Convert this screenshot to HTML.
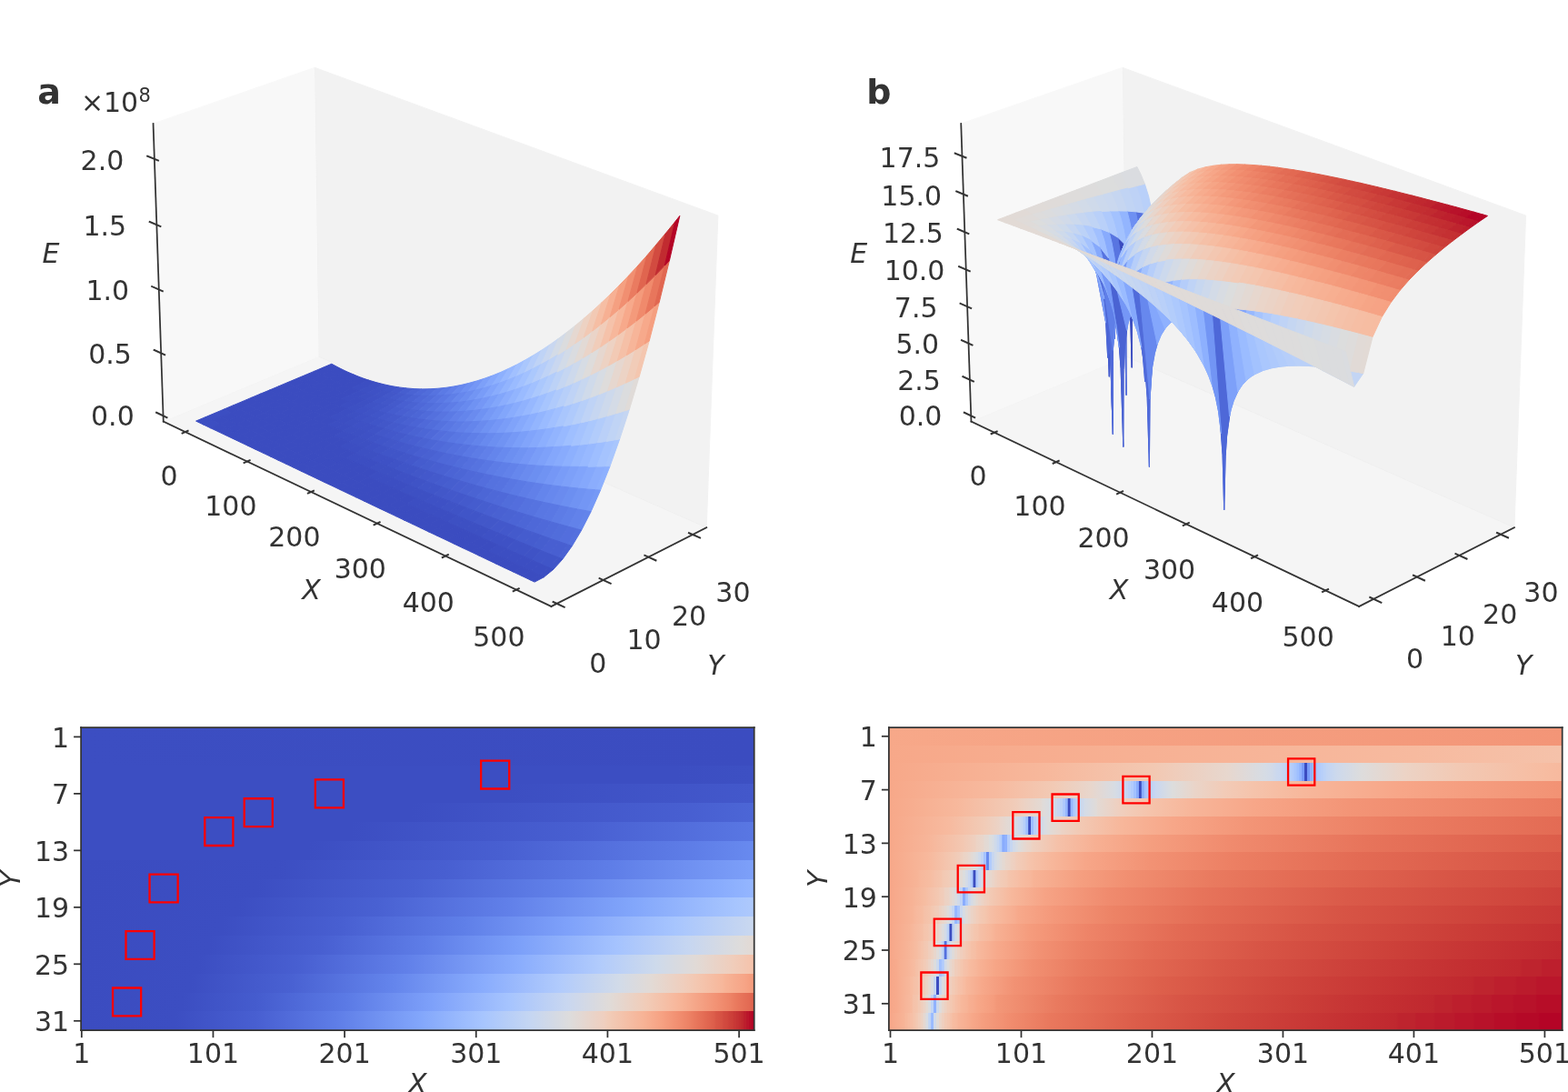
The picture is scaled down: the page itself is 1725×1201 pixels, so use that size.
<!DOCTYPE html><html><head><meta charset="utf-8"><title>Figure</title><style>html,body{margin:0;padding:0;background:#fff;overflow:hidden}svg{display:block}.s path{fill:currentColor;stroke:currentColor;stroke-width:1.0;stroke-linejoin:round}</style></head><body><svg width="1725" height="1201" viewBox="0 0 1725 1201"><defs><linearGradient id="c0" x1="89.1" x2="829.7" gradientUnits="userSpaceOnUse"><stop offset="0.0005" stop-color="#3c4ec2"/><stop offset="0.9995" stop-color="#3b4cc0"/></linearGradient><linearGradient id="c1" x1="89.1" x2="829.7" gradientUnits="userSpaceOnUse"><stop offset="0.0005" stop-color="#3c4ec2"/><stop offset="0.9995" stop-color="#3b4cc0"/></linearGradient><linearGradient id="c2" x1="89.1" x2="829.7" gradientUnits="userSpaceOnUse"><stop offset="0.0005" stop-color="#3c4ec2"/><stop offset="0.8823" stop-color="#3c4ec2"/><stop offset="0.9995" stop-color="#3d50c3"/></linearGradient><linearGradient id="c3" x1="89.1" x2="829.7" gradientUnits="userSpaceOnUse"><stop offset="0.0005" stop-color="#3c4ec2"/><stop offset="0.6323" stop-color="#3c4ec2"/><stop offset="0.9995" stop-color="#4358cb"/></linearGradient><linearGradient id="c4" x1="89.1" x2="829.7" gradientUnits="userSpaceOnUse"><stop offset="0.0005" stop-color="#3c4ec2"/><stop offset="0.4917" stop-color="#3c4ec2"/><stop offset="0.9058" stop-color="#485fd1"/><stop offset="0.9995" stop-color="#4c66d6"/></linearGradient><linearGradient id="c5" x1="89.1" x2="829.7" gradientUnits="userSpaceOnUse"><stop offset="0.0005" stop-color="#3c4ec2"/><stop offset="0.4019" stop-color="#3c4ec2"/><stop offset="0.7417" stop-color="#485fd1"/><stop offset="0.9995" stop-color="#5977e3"/></linearGradient><linearGradient id="c6" x1="89.1" x2="829.7" gradientUnits="userSpaceOnUse"><stop offset="0.0005" stop-color="#3c4ec2"/><stop offset="0.3394" stop-color="#3c4ec2"/><stop offset="0.6245" stop-color="#485fd1"/><stop offset="0.9058" stop-color="#5e7de7"/><stop offset="0.9995" stop-color="#688aef"/></linearGradient><linearGradient id="c7" x1="89.1" x2="829.7" gradientUnits="userSpaceOnUse"><stop offset="0.0005" stop-color="#3b4cc0"/><stop offset="0.2925" stop-color="#3c4ec2"/><stop offset="0.5425" stop-color="#485fd1"/><stop offset="0.7847" stop-color="#5e7de7"/><stop offset="0.9995" stop-color="#7da0f9"/></linearGradient><linearGradient id="c8" x1="89.1" x2="829.7" gradientUnits="userSpaceOnUse"><stop offset="0.0005" stop-color="#3b4cc0"/><stop offset="0.2612" stop-color="#3c4ec2"/><stop offset="0.4956" stop-color="#4961d2"/><stop offset="0.7222" stop-color="#6282ea"/><stop offset="0.9487" stop-color="#89acfd"/><stop offset="0.9995" stop-color="#94b6ff"/></linearGradient><linearGradient id="c9" x1="89.1" x2="829.7" gradientUnits="userSpaceOnUse"><stop offset="0.0005" stop-color="#3b4cc0"/><stop offset="0.2339" stop-color="#3c4ec2"/><stop offset="0.4409" stop-color="#4961d2"/><stop offset="0.6362" stop-color="#6180e9"/><stop offset="0.8198" stop-color="#82a6fb"/><stop offset="0.9722" stop-color="#a7c5fe"/><stop offset="0.9995" stop-color="#aec9fc"/></linearGradient><linearGradient id="c10" x1="89.1" x2="829.7" gradientUnits="userSpaceOnUse"><stop offset="0.0005" stop-color="#3b4cc0"/><stop offset="0.2104" stop-color="#3c4ec2"/><stop offset="0.3862" stop-color="#485fd1"/><stop offset="0.5698" stop-color="#5f7fe8"/><stop offset="0.7222" stop-color="#7ea1fa"/><stop offset="0.8823" stop-color="#a7c5fe"/><stop offset="0.9995" stop-color="#cad8ef"/></linearGradient><linearGradient id="c11" x1="89.1" x2="829.7" gradientUnits="userSpaceOnUse"><stop offset="0.0005" stop-color="#3b4cc0"/><stop offset="0.1909" stop-color="#3c4ec2"/><stop offset="0.355" stop-color="#485fd1"/><stop offset="0.5112" stop-color="#5e7de7"/><stop offset="0.6479" stop-color="#7b9ff9"/><stop offset="0.7964" stop-color="#a5c3fe"/><stop offset="0.9019" stop-color="#c6d6f1"/><stop offset="0.98" stop-color="#dedcdb"/><stop offset="0.9995" stop-color="#e3d9d3"/></linearGradient><linearGradient id="c12" x1="89.1" x2="829.7" gradientUnits="userSpaceOnUse"><stop offset="0.0005" stop-color="#3b4cc0"/><stop offset="0.1753" stop-color="#3c4ec2"/><stop offset="0.3237" stop-color="#485fd1"/><stop offset="0.4839" stop-color="#6180e9"/><stop offset="0.6479" stop-color="#89acfd"/><stop offset="0.769" stop-color="#b1cbfc"/><stop offset="0.855" stop-color="#cedaeb"/><stop offset="0.9136" stop-color="#e1dad6"/><stop offset="0.9683" stop-color="#f0cdbb"/><stop offset="0.9995" stop-color="#f5c2aa"/></linearGradient><linearGradient id="c13" x1="89.1" x2="829.7" gradientUnits="userSpaceOnUse"><stop offset="0.0005" stop-color="#3b4cc0"/><stop offset="0.1636" stop-color="#3c4ec2"/><stop offset="0.312" stop-color="#4961d2"/><stop offset="0.4644" stop-color="#6485ec"/><stop offset="0.5972" stop-color="#89acfd"/><stop offset="0.7104" stop-color="#b1cbfc"/><stop offset="0.8003" stop-color="#d2dbe8"/><stop offset="0.8472" stop-color="#e2dad5"/><stop offset="0.894" stop-color="#efcebd"/><stop offset="0.9126" stop-color="#f3c8b2"/><stop offset="0.9526" stop-color="#f7b79b"/><stop offset="0.9575" stop-color="#f7b396"/><stop offset="0.9878" stop-color="#f6a385"/><stop offset="0.9927" stop-color="#f59f80"/><stop offset="0.9995" stop-color="#f59c7d"/></linearGradient><linearGradient id="c14" x1="89.1" x2="829.7" gradientUnits="userSpaceOnUse"><stop offset="0.0005" stop-color="#3b4cc0"/><stop offset="0.1519" stop-color="#3c4ec2"/><stop offset="0.2612" stop-color="#455cce"/><stop offset="0.394" stop-color="#5b7ae5"/><stop offset="0.5229" stop-color="#7ea1fa"/><stop offset="0.6362" stop-color="#a6c4fe"/><stop offset="0.7222" stop-color="#c9d7f0"/><stop offset="0.7847" stop-color="#e0dbd8"/><stop offset="0.8394" stop-color="#f1ccb8"/><stop offset="0.8813" stop-color="#f7b99e"/><stop offset="0.8931" stop-color="#f7b396"/><stop offset="0.9438" stop-color="#f29274"/><stop offset="0.9644" stop-color="#ed8366"/><stop offset="0.9751" stop-color="#e9785d"/><stop offset="0.9917" stop-color="#e36b54"/><stop offset="0.9995" stop-color="#df634e"/></linearGradient><linearGradient id="c15" x1="89.1" x2="829.7" gradientUnits="userSpaceOnUse"><stop offset="0.0005" stop-color="#3b4cc0"/><stop offset="0.1401" stop-color="#3c4ec2"/><stop offset="0.2612" stop-color="#485fd1"/><stop offset="0.3784" stop-color="#5e7de7"/><stop offset="0.5034" stop-color="#82a6fb"/><stop offset="0.5972" stop-color="#a7c5fe"/><stop offset="0.6675" stop-color="#c5d6f2"/><stop offset="0.7261" stop-color="#dddcdc"/><stop offset="0.7769" stop-color="#efcfbf"/><stop offset="0.7837" stop-color="#f1ccb8"/><stop offset="0.8354" stop-color="#f7b396"/><stop offset="0.8618" stop-color="#f6a283"/><stop offset="0.8853" stop-color="#f29072"/><stop offset="0.9019" stop-color="#ed8366"/><stop offset="0.9126" stop-color="#e9785d"/><stop offset="0.9282" stop-color="#e26952"/><stop offset="0.9409" stop-color="#dc5d4a"/><stop offset="0.9429" stop-color="#d95847"/><stop offset="0.9526" stop-color="#d55042"/><stop offset="0.9546" stop-color="#d24b40"/><stop offset="0.9604" stop-color="#d0473d"/><stop offset="0.9624" stop-color="#cd423b"/><stop offset="0.9683" stop-color="#cb3e38"/><stop offset="0.9702" stop-color="#c83836"/><stop offset="0.9722" stop-color="#c83836"/><stop offset="0.9741" stop-color="#c53334"/><stop offset="0.9761" stop-color="#c53334"/><stop offset="0.978" stop-color="#c32e31"/><stop offset="0.98" stop-color="#c32e31"/><stop offset="0.9819" stop-color="#c0282f"/><stop offset="0.9839" stop-color="#c0282f"/><stop offset="0.9849" stop-color="#bd1f2d"/><stop offset="0.9878" stop-color="#bd1f2d"/><stop offset="0.9888" stop-color="#ba162b"/><stop offset="0.9917" stop-color="#ba162b"/><stop offset="0.9927" stop-color="#b70d28"/><stop offset="0.9956" stop-color="#b70d28"/><stop offset="0.9966" stop-color="#b40426"/><stop offset="0.9995" stop-color="#b40426"/></linearGradient><linearGradient id="d0" x1="977.9" x2="1718.7" gradientUnits="userSpaceOnUse"><stop offset="0.0005" stop-color="#f7a889"/><stop offset="0.9995" stop-color="#f39577"/></linearGradient><linearGradient id="d1" x1="977.9" x2="1718.7" gradientUnits="userSpaceOnUse"><stop offset="0.0005" stop-color="#f7a889"/><stop offset="0.7808" stop-color="#f7ba9f"/><stop offset="0.9995" stop-color="#f5c2aa"/></linearGradient><linearGradient id="d2" x1="977.9" x2="1718.7" gradientUnits="userSpaceOnUse"><stop offset="0.0005" stop-color="#f7a889"/><stop offset="0.2339" stop-color="#f7b89c"/><stop offset="0.3901" stop-color="#f3c8b2"/><stop offset="0.5034" stop-color="#e7d7ce"/><stop offset="0.5581" stop-color="#d6dce4"/><stop offset="0.5698" stop-color="#d1dae9"/><stop offset="0.5757" stop-color="#cbd8ee"/><stop offset="0.5815" stop-color="#c9d7f0"/><stop offset="0.5894" stop-color="#c1d4f4"/><stop offset="0.5913" stop-color="#bcd2f7"/><stop offset="0.5933" stop-color="#bcd2f7"/><stop offset="0.5952" stop-color="#b7cff9"/><stop offset="0.5972" stop-color="#b7cff9"/><stop offset="0.5991" stop-color="#b1cbfc"/><stop offset="0.6011" stop-color="#b1cbfc"/><stop offset="0.6021" stop-color="#a9c6fd"/><stop offset="0.605" stop-color="#a9c6fd"/><stop offset="0.606" stop-color="#9fbfff"/><stop offset="0.6089" stop-color="#9fbfff"/><stop offset="0.6099" stop-color="#90b2fe"/><stop offset="0.6128" stop-color="#90b2fe"/><stop offset="0.6138" stop-color="#779af7"/><stop offset="0.6167" stop-color="#779af7"/><stop offset="0.6177" stop-color="#3b4cc0"/><stop offset="0.6206" stop-color="#3b4cc0"/><stop offset="0.6216" stop-color="#779af7"/><stop offset="0.6245" stop-color="#779af7"/><stop offset="0.6255" stop-color="#90b2fe"/><stop offset="0.6284" stop-color="#90b2fe"/><stop offset="0.6294" stop-color="#9fbfff"/><stop offset="0.6323" stop-color="#9fbfff"/><stop offset="0.6333" stop-color="#a9c6fd"/><stop offset="0.6362" stop-color="#a9c6fd"/><stop offset="0.6372" stop-color="#b1cbfc"/><stop offset="0.6401" stop-color="#b1cbfc"/><stop offset="0.6421" stop-color="#b7cff9"/><stop offset="0.644" stop-color="#b7cff9"/><stop offset="0.646" stop-color="#bcd2f7"/><stop offset="0.6479" stop-color="#bcd2f7"/><stop offset="0.6499" stop-color="#c1d4f4"/><stop offset="0.6655" stop-color="#cdd9ec"/><stop offset="0.7017" stop-color="#dddcdc"/><stop offset="0.7671" stop-color="#ecd3c5"/><stop offset="0.8442" stop-color="#f2c9b4"/><stop offset="0.9741" stop-color="#f7bca1"/><stop offset="0.9995" stop-color="#f7b99e"/></linearGradient><linearGradient id="d3" x1="977.9" x2="1718.7" gradientUnits="userSpaceOnUse"><stop offset="0.0005" stop-color="#f7a889"/><stop offset="0.1597" stop-color="#f7ba9f"/><stop offset="0.2456" stop-color="#f2cab5"/><stop offset="0.3003" stop-color="#e8d6cc"/><stop offset="0.3354" stop-color="#d7dce3"/><stop offset="0.3511" stop-color="#c9d7f0"/><stop offset="0.353" stop-color="#c3d5f4"/><stop offset="0.355" stop-color="#c3d5f4"/><stop offset="0.356" stop-color="#bbd1f8"/><stop offset="0.3589" stop-color="#bbd1f8"/><stop offset="0.3599" stop-color="#b1cbfc"/><stop offset="0.3628" stop-color="#b1cbfc"/><stop offset="0.3638" stop-color="#a2c1ff"/><stop offset="0.3667" stop-color="#a2c1ff"/><stop offset="0.3677" stop-color="#89acfd"/><stop offset="0.3706" stop-color="#89acfd"/><stop offset="0.3716" stop-color="#3b4cc0"/><stop offset="0.3745" stop-color="#3b4cc0"/><stop offset="0.3755" stop-color="#89acfd"/><stop offset="0.3784" stop-color="#89acfd"/><stop offset="0.3794" stop-color="#a2c1ff"/><stop offset="0.3823" stop-color="#a2c1ff"/><stop offset="0.3833" stop-color="#b1cbfc"/><stop offset="0.3862" stop-color="#b1cbfc"/><stop offset="0.3872" stop-color="#bbd1f8"/><stop offset="0.3901" stop-color="#bbd1f8"/><stop offset="0.3911" stop-color="#c3d5f4"/><stop offset="0.394" stop-color="#c3d5f4"/><stop offset="0.396" stop-color="#c9d7f0"/><stop offset="0.4204" stop-color="#dcdddd"/><stop offset="0.4556" stop-color="#ead4c8"/><stop offset="0.4985" stop-color="#f2cbb7"/><stop offset="0.5376" stop-color="#f5c4ac"/><stop offset="0.6177" stop-color="#f7b79b"/><stop offset="0.7593" stop-color="#f7a688"/><stop offset="0.9995" stop-color="#f29274"/></linearGradient><linearGradient id="d4" x1="977.9" x2="1718.7" gradientUnits="userSpaceOnUse"><stop offset="0.0005" stop-color="#f7a889"/><stop offset="0.1011" stop-color="#f7b89c"/><stop offset="0.1753" stop-color="#f2c9b4"/><stop offset="0.1909" stop-color="#f0cdbb"/><stop offset="0.1958" stop-color="#eed0c0"/><stop offset="0.2261" stop-color="#e3d9d3"/><stop offset="0.228" stop-color="#e0dbd8"/><stop offset="0.2417" stop-color="#d7dce3"/><stop offset="0.2456" stop-color="#d3dbe7"/><stop offset="0.2476" stop-color="#cdd9ec"/><stop offset="0.2495" stop-color="#cdd9ec"/><stop offset="0.2505" stop-color="#c6d6f1"/><stop offset="0.2534" stop-color="#c6d6f1"/><stop offset="0.2544" stop-color="#bcd2f7"/><stop offset="0.2573" stop-color="#bcd2f7"/><stop offset="0.2583" stop-color="#aec9fc"/><stop offset="0.2612" stop-color="#aec9fc"/><stop offset="0.2622" stop-color="#96b7ff"/><stop offset="0.2651" stop-color="#96b7ff"/><stop offset="0.2661" stop-color="#3b4cc0"/><stop offset="0.269" stop-color="#3b4cc0"/><stop offset="0.27" stop-color="#96b7ff"/><stop offset="0.2729" stop-color="#96b7ff"/><stop offset="0.2739" stop-color="#aec9fc"/><stop offset="0.2769" stop-color="#aec9fc"/><stop offset="0.2778" stop-color="#bcd2f7"/><stop offset="0.2808" stop-color="#bcd2f7"/><stop offset="0.2817" stop-color="#c6d6f1"/><stop offset="0.2847" stop-color="#c6d6f1"/><stop offset="0.2856" stop-color="#cdd9ec"/><stop offset="0.2886" stop-color="#cdd9ec"/><stop offset="0.2905" stop-color="#d3dbe7"/><stop offset="0.3081" stop-color="#e0dbd8"/><stop offset="0.3101" stop-color="#e3d9d3"/><stop offset="0.3423" stop-color="#efcfbf"/><stop offset="0.3579" stop-color="#f2cbb7"/><stop offset="0.3853" stop-color="#f5c4ac"/><stop offset="0.4517" stop-color="#f7b599"/><stop offset="0.5454" stop-color="#f7a688"/><stop offset="0.6821" stop-color="#f39577"/><stop offset="0.9741" stop-color="#eb7d62"/><stop offset="0.9995" stop-color="#ea7b60"/></linearGradient><linearGradient id="d5" x1="977.9" x2="1718.7" gradientUnits="userSpaceOnUse"><stop offset="0.0005" stop-color="#f7a889"/><stop offset="0.0894" stop-color="#f7ba9f"/><stop offset="0.144" stop-color="#f1ccb8"/><stop offset="0.1636" stop-color="#ebd3c6"/><stop offset="0.1655" stop-color="#e9d5cb"/><stop offset="0.1792" stop-color="#e1dad6"/><stop offset="0.1812" stop-color="#dddcdc"/><stop offset="0.1831" stop-color="#dddcdc"/><stop offset="0.1851" stop-color="#d9dce1"/><stop offset="0.187" stop-color="#d9dce1"/><stop offset="0.189" stop-color="#d4dbe6"/><stop offset="0.1909" stop-color="#d4dbe6"/><stop offset="0.1919" stop-color="#cdd9ec"/><stop offset="0.1948" stop-color="#cdd9ec"/><stop offset="0.1958" stop-color="#c5d6f2"/><stop offset="0.1987" stop-color="#c5d6f2"/><stop offset="0.1997" stop-color="#b7cff9"/><stop offset="0.2026" stop-color="#b7cff9"/><stop offset="0.2036" stop-color="#9fbfff"/><stop offset="0.2065" stop-color="#9fbfff"/><stop offset="0.2075" stop-color="#3b4cc0"/><stop offset="0.2104" stop-color="#3b4cc0"/><stop offset="0.2114" stop-color="#9fbfff"/><stop offset="0.2144" stop-color="#9fbfff"/><stop offset="0.2153" stop-color="#b7cff9"/><stop offset="0.2183" stop-color="#b7cff9"/><stop offset="0.2192" stop-color="#c5d6f2"/><stop offset="0.2222" stop-color="#c5d6f2"/><stop offset="0.2231" stop-color="#cdd9ec"/><stop offset="0.2261" stop-color="#cdd9ec"/><stop offset="0.2271" stop-color="#d4dbe6"/><stop offset="0.23" stop-color="#d4dbe6"/><stop offset="0.2319" stop-color="#d9dce1"/><stop offset="0.2339" stop-color="#d9dce1"/><stop offset="0.2358" stop-color="#dddcdc"/><stop offset="0.2378" stop-color="#dddcdc"/><stop offset="0.2397" stop-color="#e1dad6"/><stop offset="0.2534" stop-color="#e9d5cb"/><stop offset="0.2554" stop-color="#ebd3c6"/><stop offset="0.2837" stop-color="#f2c9b4"/><stop offset="0.3442" stop-color="#f7b79b"/><stop offset="0.4243" stop-color="#f7a688"/><stop offset="0.5317" stop-color="#f39577"/><stop offset="0.7554" stop-color="#eb7d62"/><stop offset="0.9995" stop-color="#e36b54"/></linearGradient><linearGradient id="d6" x1="977.9" x2="1718.7" gradientUnits="userSpaceOnUse"><stop offset="0.0005" stop-color="#f7a889"/><stop offset="0.0581" stop-color="#f7b599"/><stop offset="0.1089" stop-color="#f3c7b1"/><stop offset="0.1284" stop-color="#eed0c0"/><stop offset="0.1304" stop-color="#ecd3c5"/><stop offset="0.1401" stop-color="#e8d6cc"/><stop offset="0.1421" stop-color="#e4d9d2"/><stop offset="0.1479" stop-color="#e1dad6"/><stop offset="0.1489" stop-color="#dcdddd"/><stop offset="0.1519" stop-color="#dcdddd"/><stop offset="0.1538" stop-color="#d7dce3"/><stop offset="0.1558" stop-color="#d7dce3"/><stop offset="0.1567" stop-color="#cfdaea"/><stop offset="0.1597" stop-color="#cfdaea"/><stop offset="0.1606" stop-color="#c5d6f2"/><stop offset="0.1636" stop-color="#c5d6f2"/><stop offset="0.1646" stop-color="#b3cdfb"/><stop offset="0.1675" stop-color="#b3cdfb"/><stop offset="0.1685" stop-color="#89acfd"/><stop offset="0.1714" stop-color="#89acfd"/><stop offset="0.1724" stop-color="#90b2fe"/><stop offset="0.1753" stop-color="#90b2fe"/><stop offset="0.1763" stop-color="#b6cefa"/><stop offset="0.1792" stop-color="#b6cefa"/><stop offset="0.1802" stop-color="#c6d6f1"/><stop offset="0.1831" stop-color="#c6d6f1"/><stop offset="0.1841" stop-color="#d1dae9"/><stop offset="0.187" stop-color="#d1dae9"/><stop offset="0.189" stop-color="#d7dce3"/><stop offset="0.1909" stop-color="#d7dce3"/><stop offset="0.1919" stop-color="#dddcdc"/><stop offset="0.1948" stop-color="#dddcdc"/><stop offset="0.1968" stop-color="#e1dad6"/><stop offset="0.1987" stop-color="#e1dad6"/><stop offset="0.2007" stop-color="#e5d8d1"/><stop offset="0.2026" stop-color="#e5d8d1"/><stop offset="0.2046" stop-color="#e8d6cc"/><stop offset="0.2104" stop-color="#ead4c8"/><stop offset="0.2124" stop-color="#edd2c3"/><stop offset="0.2505" stop-color="#f5c1a9"/><stop offset="0.3071" stop-color="#f7b093"/><stop offset="0.3843" stop-color="#f59f80"/><stop offset="0.5044" stop-color="#f08b6e"/><stop offset="0.7085" stop-color="#e7745b"/><stop offset="0.9995" stop-color="#dc5d4a"/></linearGradient><linearGradient id="d7" x1="977.9" x2="1718.7" gradientUnits="userSpaceOnUse"><stop offset="0.0005" stop-color="#f7a889"/><stop offset="0.0581" stop-color="#f7b89c"/><stop offset="0.0933" stop-color="#f3c8b2"/><stop offset="0.105" stop-color="#f0cdbb"/><stop offset="0.1069" stop-color="#eed0c0"/><stop offset="0.1089" stop-color="#eed0c0"/><stop offset="0.1108" stop-color="#ecd3c5"/><stop offset="0.1167" stop-color="#ead5c9"/><stop offset="0.1187" stop-color="#e7d7ce"/><stop offset="0.1206" stop-color="#e7d7ce"/><stop offset="0.1216" stop-color="#e2dad5"/><stop offset="0.1245" stop-color="#e2dad5"/><stop offset="0.1255" stop-color="#dddcdc"/><stop offset="0.1284" stop-color="#dddcdc"/><stop offset="0.1294" stop-color="#d7dce3"/><stop offset="0.1323" stop-color="#d7dce3"/><stop offset="0.1333" stop-color="#cedaeb"/><stop offset="0.1362" stop-color="#cedaeb"/><stop offset="0.1372" stop-color="#c1d4f4"/><stop offset="0.1401" stop-color="#c1d4f4"/><stop offset="0.1411" stop-color="#a6c4fe"/><stop offset="0.144" stop-color="#a6c4fe"/><stop offset="0.145" stop-color="#688aef"/><stop offset="0.1479" stop-color="#688aef"/><stop offset="0.1489" stop-color="#b1cbfc"/><stop offset="0.1519" stop-color="#b1cbfc"/><stop offset="0.1528" stop-color="#c6d6f1"/><stop offset="0.1558" stop-color="#c6d6f1"/><stop offset="0.1567" stop-color="#d2dbe8"/><stop offset="0.1597" stop-color="#d2dbe8"/><stop offset="0.1606" stop-color="#d9dce1"/><stop offset="0.1636" stop-color="#d9dce1"/><stop offset="0.1646" stop-color="#dfdbd9"/><stop offset="0.1675" stop-color="#dfdbd9"/><stop offset="0.1685" stop-color="#e4d9d2"/><stop offset="0.1714" stop-color="#e4d9d2"/><stop offset="0.1733" stop-color="#e8d6cc"/><stop offset="0.1792" stop-color="#ead4c8"/><stop offset="0.1812" stop-color="#edd2c3"/><stop offset="0.187" stop-color="#efcfbf"/><stop offset="0.189" stop-color="#f1cdba"/><stop offset="0.2026" stop-color="#f3c7b1"/><stop offset="0.2075" stop-color="#f5c4ac"/><stop offset="0.2407" stop-color="#f7b79b"/><stop offset="0.2925" stop-color="#f7a688"/><stop offset="0.3882" stop-color="#f29274"/><stop offset="0.5142" stop-color="#ec7f63"/><stop offset="0.6968" stop-color="#e36b54"/><stop offset="0.9526" stop-color="#d85646"/><stop offset="0.9995" stop-color="#d65244"/></linearGradient><linearGradient id="d8" x1="977.9" x2="1718.7" gradientUnits="userSpaceOnUse"><stop offset="0.0005" stop-color="#f7a688"/><stop offset="0.0425" stop-color="#f7b497"/><stop offset="0.0474" stop-color="#f7b89c"/><stop offset="0.062" stop-color="#f6bda2"/><stop offset="0.0688" stop-color="#f5c1a9"/><stop offset="0.0776" stop-color="#f4c5ad"/><stop offset="0.0796" stop-color="#f3c8b2"/><stop offset="0.0894" stop-color="#f1ccb8"/><stop offset="0.0913" stop-color="#efcebd"/><stop offset="0.0933" stop-color="#efcebd"/><stop offset="0.0952" stop-color="#edd1c2"/><stop offset="0.0972" stop-color="#edd1c2"/><stop offset="0.0991" stop-color="#ead4c8"/><stop offset="0.1011" stop-color="#ead4c8"/><stop offset="0.103" stop-color="#e7d7ce"/><stop offset="0.105" stop-color="#e7d7ce"/><stop offset="0.106" stop-color="#e2dad5"/><stop offset="0.1089" stop-color="#e2dad5"/><stop offset="0.1099" stop-color="#dcdddd"/><stop offset="0.1128" stop-color="#dcdddd"/><stop offset="0.1138" stop-color="#d4dbe6"/><stop offset="0.1167" stop-color="#d4dbe6"/><stop offset="0.1177" stop-color="#c9d7f0"/><stop offset="0.1206" stop-color="#c9d7f0"/><stop offset="0.1216" stop-color="#b1cbfc"/><stop offset="0.1245" stop-color="#b1cbfc"/><stop offset="0.1255" stop-color="#3b4cc0"/><stop offset="0.1284" stop-color="#3b4cc0"/><stop offset="0.1294" stop-color="#b1cbfc"/><stop offset="0.1323" stop-color="#b1cbfc"/><stop offset="0.1333" stop-color="#c9d7f0"/><stop offset="0.1362" stop-color="#c9d7f0"/><stop offset="0.1372" stop-color="#d4dbe6"/><stop offset="0.1401" stop-color="#d4dbe6"/><stop offset="0.1411" stop-color="#dcdddd"/><stop offset="0.144" stop-color="#dcdddd"/><stop offset="0.145" stop-color="#e2dad5"/><stop offset="0.1479" stop-color="#e2dad5"/><stop offset="0.1489" stop-color="#e7d7ce"/><stop offset="0.1519" stop-color="#e7d7ce"/><stop offset="0.1538" stop-color="#ead4c8"/><stop offset="0.1558" stop-color="#ead4c8"/><stop offset="0.1577" stop-color="#edd1c2"/><stop offset="0.1597" stop-color="#edd1c2"/><stop offset="0.1616" stop-color="#efcebd"/><stop offset="0.1636" stop-color="#efcebd"/><stop offset="0.1655" stop-color="#f1ccb8"/><stop offset="0.1753" stop-color="#f3c8b2"/><stop offset="0.1772" stop-color="#f4c5ad"/><stop offset="0.1909" stop-color="#f6bfa6"/><stop offset="0.1958" stop-color="#f7bca1"/><stop offset="0.2104" stop-color="#f7b79b"/><stop offset="0.2153" stop-color="#f7b396"/><stop offset="0.2837" stop-color="#f59f80"/><stop offset="0.354" stop-color="#f18f71"/><stop offset="0.481" stop-color="#e97a5f"/><stop offset="0.6079" stop-color="#e36b54"/><stop offset="0.8481" stop-color="#d75445"/><stop offset="0.9995" stop-color="#d1493f"/></linearGradient><linearGradient id="d9" x1="977.9" x2="1718.7" gradientUnits="userSpaceOnUse"><stop offset="0.0005" stop-color="#f7a688"/><stop offset="0.0347" stop-color="#f7b396"/><stop offset="0.0542" stop-color="#f6bda2"/><stop offset="0.061" stop-color="#f5c1a9"/><stop offset="0.0737" stop-color="#f3c8b2"/><stop offset="0.0757" stop-color="#f2cbb7"/><stop offset="0.0815" stop-color="#f0cdbb"/><stop offset="0.0825" stop-color="#edd1c2"/><stop offset="0.0894" stop-color="#ebd3c6"/><stop offset="0.0903" stop-color="#e7d7ce"/><stop offset="0.0933" stop-color="#e7d7ce"/><stop offset="0.0942" stop-color="#e1dad6"/><stop offset="0.0972" stop-color="#e1dad6"/><stop offset="0.0981" stop-color="#dadce0"/><stop offset="0.1011" stop-color="#dadce0"/><stop offset="0.1021" stop-color="#d1dae9"/><stop offset="0.105" stop-color="#d1dae9"/><stop offset="0.106" stop-color="#bed2f6"/><stop offset="0.1089" stop-color="#bed2f6"/><stop offset="0.1099" stop-color="#89acfd"/><stop offset="0.1128" stop-color="#89acfd"/><stop offset="0.1138" stop-color="#a9c6fd"/><stop offset="0.1167" stop-color="#a9c6fd"/><stop offset="0.1177" stop-color="#c7d7f0"/><stop offset="0.1206" stop-color="#c7d7f0"/><stop offset="0.1216" stop-color="#d5dbe5"/><stop offset="0.1245" stop-color="#d5dbe5"/><stop offset="0.1255" stop-color="#dddcdc"/><stop offset="0.1284" stop-color="#dddcdc"/><stop offset="0.1294" stop-color="#e4d9d2"/><stop offset="0.1323" stop-color="#e4d9d2"/><stop offset="0.1333" stop-color="#e9d5cb"/><stop offset="0.1362" stop-color="#e9d5cb"/><stop offset="0.1382" stop-color="#ecd3c5"/><stop offset="0.1401" stop-color="#ecd3c5"/><stop offset="0.1421" stop-color="#efcfbf"/><stop offset="0.144" stop-color="#efcfbf"/><stop offset="0.146" stop-color="#f1cdba"/><stop offset="0.1479" stop-color="#f1cdba"/><stop offset="0.1499" stop-color="#f2cab5"/><stop offset="0.1821" stop-color="#f7b89c"/><stop offset="0.2319" stop-color="#f6a385"/><stop offset="0.3257" stop-color="#f08b6e"/><stop offset="0.4614" stop-color="#e7745b"/><stop offset="0.6802" stop-color="#da5a49"/><stop offset="0.9468" stop-color="#cf453c"/><stop offset="0.9995" stop-color="#cc403a"/></linearGradient><linearGradient id="d10" x1="977.9" x2="1718.7" gradientUnits="userSpaceOnUse"><stop offset="0.0005" stop-color="#f7a688"/><stop offset="0.0347" stop-color="#f7b497"/><stop offset="0.0415" stop-color="#f7b99e"/><stop offset="0.0503" stop-color="#f6bda2"/><stop offset="0.0522" stop-color="#f5c0a7"/><stop offset="0.062" stop-color="#f4c5ad"/><stop offset="0.064" stop-color="#f3c8b2"/><stop offset="0.0659" stop-color="#f3c8b2"/><stop offset="0.0679" stop-color="#f2cbb7"/><stop offset="0.0737" stop-color="#f0cdbb"/><stop offset="0.0747" stop-color="#edd1c2"/><stop offset="0.0776" stop-color="#edd1c2"/><stop offset="0.0786" stop-color="#ead5c9"/><stop offset="0.0815" stop-color="#ead5c9"/><stop offset="0.0825" stop-color="#e5d8d1"/><stop offset="0.0854" stop-color="#e5d8d1"/><stop offset="0.0864" stop-color="#dedcdb"/><stop offset="0.0894" stop-color="#dedcdb"/><stop offset="0.0903" stop-color="#d4dbe6"/><stop offset="0.0933" stop-color="#d4dbe6"/><stop offset="0.0942" stop-color="#c4d5f3"/><stop offset="0.0972" stop-color="#c4d5f3"/><stop offset="0.0981" stop-color="#96b7ff"/><stop offset="0.1011" stop-color="#96b7ff"/><stop offset="0.1021" stop-color="#a9c6fd"/><stop offset="0.105" stop-color="#a9c6fd"/><stop offset="0.106" stop-color="#cad8ef"/><stop offset="0.1089" stop-color="#cad8ef"/><stop offset="0.1099" stop-color="#d7dce3"/><stop offset="0.1128" stop-color="#d7dce3"/><stop offset="0.1138" stop-color="#e0dbd8"/><stop offset="0.1167" stop-color="#e0dbd8"/><stop offset="0.1177" stop-color="#e6d7cf"/><stop offset="0.1206" stop-color="#e6d7cf"/><stop offset="0.1216" stop-color="#ebd3c6"/><stop offset="0.1245" stop-color="#ebd3c6"/><stop offset="0.1265" stop-color="#eed0c0"/><stop offset="0.1284" stop-color="#eed0c0"/><stop offset="0.1304" stop-color="#f1cdba"/><stop offset="0.1323" stop-color="#f1cdba"/><stop offset="0.1343" stop-color="#f2cab5"/><stop offset="0.144" stop-color="#f4c5ad"/><stop offset="0.1499" stop-color="#f6bfa6"/><stop offset="0.1665" stop-color="#f7b79b"/><stop offset="0.187" stop-color="#f7ad90"/><stop offset="0.1919" stop-color="#f7a98b"/><stop offset="0.2446" stop-color="#f4987a"/><stop offset="0.3325" stop-color="#ed8366"/><stop offset="0.4771" stop-color="#e36b54"/><stop offset="0.6733" stop-color="#d75445"/><stop offset="0.9292" stop-color="#cb3e38"/><stop offset="0.9995" stop-color="#c83836"/></linearGradient><linearGradient id="d11" x1="977.9" x2="1718.7" gradientUnits="userSpaceOnUse"><stop offset="0.0005" stop-color="#f7a688"/><stop offset="0.0308" stop-color="#f7b497"/><stop offset="0.0376" stop-color="#f7b99e"/><stop offset="0.0503" stop-color="#f5c0a7"/><stop offset="0.0522" stop-color="#f5c4ac"/><stop offset="0.0581" stop-color="#f4c6af"/><stop offset="0.0601" stop-color="#f2c9b4"/><stop offset="0.062" stop-color="#f2c9b4"/><stop offset="0.064" stop-color="#f1cdba"/><stop offset="0.0659" stop-color="#f1cdba"/><stop offset="0.0679" stop-color="#eed0c0"/><stop offset="0.0698" stop-color="#eed0c0"/><stop offset="0.0708" stop-color="#ead4c8"/><stop offset="0.0737" stop-color="#ead4c8"/><stop offset="0.0747" stop-color="#e5d8d1"/><stop offset="0.0776" stop-color="#e5d8d1"/><stop offset="0.0786" stop-color="#dddcdc"/><stop offset="0.0815" stop-color="#dddcdc"/><stop offset="0.0825" stop-color="#d3dbe7"/><stop offset="0.0854" stop-color="#d3dbe7"/><stop offset="0.0864" stop-color="#bcd2f7"/><stop offset="0.0894" stop-color="#bcd2f7"/><stop offset="0.0903" stop-color="#3b4cc0"/><stop offset="0.0933" stop-color="#3b4cc0"/><stop offset="0.0942" stop-color="#bcd2f7"/><stop offset="0.0972" stop-color="#bcd2f7"/><stop offset="0.0981" stop-color="#d3dbe7"/><stop offset="0.1011" stop-color="#d3dbe7"/><stop offset="0.1021" stop-color="#dddcdc"/><stop offset="0.105" stop-color="#dddcdc"/><stop offset="0.106" stop-color="#e5d8d1"/><stop offset="0.1089" stop-color="#e5d8d1"/><stop offset="0.1099" stop-color="#ead4c8"/><stop offset="0.1128" stop-color="#ead4c8"/><stop offset="0.1138" stop-color="#eed0c0"/><stop offset="0.1167" stop-color="#eed0c0"/><stop offset="0.1187" stop-color="#f1cdba"/><stop offset="0.1206" stop-color="#f1cdba"/><stop offset="0.1226" stop-color="#f2c9b4"/><stop offset="0.1245" stop-color="#f2c9b4"/><stop offset="0.1265" stop-color="#f4c6af"/><stop offset="0.1323" stop-color="#f5c4ac"/><stop offset="0.1343" stop-color="#f5c0a7"/><stop offset="0.1519" stop-color="#f7b79b"/><stop offset="0.1587" stop-color="#f7b194"/><stop offset="0.2085" stop-color="#f59c7d"/><stop offset="0.2944" stop-color="#ee8468"/><stop offset="0.4282" stop-color="#e36b54"/><stop offset="0.6099" stop-color="#d75445"/><stop offset="0.8442" stop-color="#cb3e38"/><stop offset="0.9995" stop-color="#c43032"/></linearGradient><linearGradient id="d12" x1="977.9" x2="1718.7" gradientUnits="userSpaceOnUse"><stop offset="0.0005" stop-color="#f7a688"/><stop offset="0.0269" stop-color="#f7b396"/><stop offset="0.0425" stop-color="#f6bda2"/><stop offset="0.0444" stop-color="#f5c0a7"/><stop offset="0.0464" stop-color="#f5c0a7"/><stop offset="0.0483" stop-color="#f5c4ac"/><stop offset="0.0503" stop-color="#f5c4ac"/><stop offset="0.0522" stop-color="#f3c7b1"/><stop offset="0.0581" stop-color="#f2cab5"/><stop offset="0.0591" stop-color="#efcebd"/><stop offset="0.062" stop-color="#efcebd"/><stop offset="0.064" stop-color="#edd2c3"/><stop offset="0.0659" stop-color="#edd2c3"/><stop offset="0.0669" stop-color="#e8d6cc"/><stop offset="0.0698" stop-color="#e8d6cc"/><stop offset="0.0708" stop-color="#e0dbd8"/><stop offset="0.0737" stop-color="#e0dbd8"/><stop offset="0.0747" stop-color="#d6dce4"/><stop offset="0.0776" stop-color="#d6dce4"/><stop offset="0.0786" stop-color="#c1d4f4"/><stop offset="0.0815" stop-color="#c1d4f4"/><stop offset="0.0825" stop-color="#5470de"/><stop offset="0.0854" stop-color="#5470de"/><stop offset="0.0864" stop-color="#bed2f6"/><stop offset="0.0894" stop-color="#bed2f6"/><stop offset="0.0903" stop-color="#d4dbe6"/><stop offset="0.0933" stop-color="#d4dbe6"/><stop offset="0.0942" stop-color="#dfdbd9"/><stop offset="0.0972" stop-color="#dfdbd9"/><stop offset="0.0981" stop-color="#e7d7ce"/><stop offset="0.1011" stop-color="#e7d7ce"/><stop offset="0.1021" stop-color="#ecd3c5"/><stop offset="0.105" stop-color="#ecd3c5"/><stop offset="0.106" stop-color="#efcebd"/><stop offset="0.1089" stop-color="#efcebd"/><stop offset="0.1108" stop-color="#f2cbb7"/><stop offset="0.1128" stop-color="#f2cbb7"/><stop offset="0.1147" stop-color="#f3c7b1"/><stop offset="0.1167" stop-color="#f3c7b1"/><stop offset="0.1187" stop-color="#f5c4ac"/><stop offset="0.1206" stop-color="#f5c4ac"/><stop offset="0.1226" stop-color="#f5c0a7"/><stop offset="0.1284" stop-color="#f6bea4"/><stop offset="0.1304" stop-color="#f7ba9f"/><stop offset="0.1616" stop-color="#f7a98b"/><stop offset="0.2212" stop-color="#f29274"/><stop offset="0.2837" stop-color="#ec8165"/><stop offset="0.3931" stop-color="#e36b54"/><stop offset="0.5562" stop-color="#d75445"/><stop offset="0.772" stop-color="#cb3e38"/><stop offset="0.8501" stop-color="#c73635"/><stop offset="0.9995" stop-color="#c0282f"/></linearGradient><linearGradient id="d13" x1="977.9" x2="1718.7" gradientUnits="userSpaceOnUse"><stop offset="0.0005" stop-color="#f7a688"/><stop offset="0.0112" stop-color="#f7aa8c"/><stop offset="0.0161" stop-color="#f7af91"/><stop offset="0.0269" stop-color="#f7b497"/><stop offset="0.0337" stop-color="#f7b99e"/><stop offset="0.0386" stop-color="#f6bda2"/><stop offset="0.0405" stop-color="#f5c0a7"/><stop offset="0.0425" stop-color="#f5c0a7"/><stop offset="0.0444" stop-color="#f5c4ac"/><stop offset="0.0464" stop-color="#f5c4ac"/><stop offset="0.0483" stop-color="#f3c7b1"/><stop offset="0.0503" stop-color="#f3c7b1"/><stop offset="0.0522" stop-color="#f2cbb7"/><stop offset="0.0542" stop-color="#f2cbb7"/><stop offset="0.0562" stop-color="#efcebd"/><stop offset="0.0581" stop-color="#efcebd"/><stop offset="0.0591" stop-color="#ebd3c6"/><stop offset="0.062" stop-color="#ebd3c6"/><stop offset="0.063" stop-color="#e5d8d1"/><stop offset="0.0659" stop-color="#e5d8d1"/><stop offset="0.0669" stop-color="#dcdddd"/><stop offset="0.0698" stop-color="#dcdddd"/><stop offset="0.0708" stop-color="#cdd9ec"/><stop offset="0.0737" stop-color="#cdd9ec"/><stop offset="0.0747" stop-color="#a2c1ff"/><stop offset="0.0776" stop-color="#a2c1ff"/><stop offset="0.0786" stop-color="#b1cbfc"/><stop offset="0.0815" stop-color="#b1cbfc"/><stop offset="0.0825" stop-color="#d1dae9"/><stop offset="0.0854" stop-color="#d1dae9"/><stop offset="0.0864" stop-color="#dedcdb"/><stop offset="0.0894" stop-color="#dedcdb"/><stop offset="0.0903" stop-color="#e7d7ce"/><stop offset="0.0933" stop-color="#e7d7ce"/><stop offset="0.0942" stop-color="#ecd3c5"/><stop offset="0.0972" stop-color="#ecd3c5"/><stop offset="0.0981" stop-color="#f0cdbb"/><stop offset="0.1011" stop-color="#f0cdbb"/><stop offset="0.103" stop-color="#f2cab5"/><stop offset="0.105" stop-color="#f2cab5"/><stop offset="0.1069" stop-color="#f4c6af"/><stop offset="0.1089" stop-color="#f4c6af"/><stop offset="0.1108" stop-color="#f5c2aa"/><stop offset="0.1167" stop-color="#f6bfa6"/><stop offset="0.1187" stop-color="#f7bca1"/><stop offset="0.1284" stop-color="#f7b79b"/><stop offset="0.1353" stop-color="#f7b194"/><stop offset="0.1587" stop-color="#f6a586"/><stop offset="0.2134" stop-color="#f18f71"/><stop offset="0.2896" stop-color="#e97a5f"/><stop offset="0.3774" stop-color="#e26952"/><stop offset="0.4976" stop-color="#d85646"/><stop offset="0.688" stop-color="#cc403a"/><stop offset="0.8657" stop-color="#c32e31"/><stop offset="0.937" stop-color="#c0282f"/><stop offset="0.9409" stop-color="#be242e"/><stop offset="0.9683" stop-color="#be242e"/><stop offset="0.9702" stop-color="#bd1f2d"/><stop offset="0.9995" stop-color="#bd1f2d"/></linearGradient><linearGradient id="d14" x1="977.9" x2="1718.7" gradientUnits="userSpaceOnUse"><stop offset="0.0005" stop-color="#f7a688"/><stop offset="0.0112" stop-color="#f7aa8c"/><stop offset="0.0181" stop-color="#f7b093"/><stop offset="0.0308" stop-color="#f7b89c"/><stop offset="0.0327" stop-color="#f7bca1"/><stop offset="0.0347" stop-color="#f7bca1"/><stop offset="0.0366" stop-color="#f6bfa6"/><stop offset="0.0425" stop-color="#f5c2aa"/><stop offset="0.0444" stop-color="#f4c6af"/><stop offset="0.0464" stop-color="#f4c6af"/><stop offset="0.0483" stop-color="#f2cab5"/><stop offset="0.0503" stop-color="#f2cab5"/><stop offset="0.0513" stop-color="#efcebd"/><stop offset="0.0542" stop-color="#efcebd"/><stop offset="0.0552" stop-color="#ebd3c6"/><stop offset="0.0581" stop-color="#ebd3c6"/><stop offset="0.0591" stop-color="#e4d9d2"/><stop offset="0.062" stop-color="#e4d9d2"/><stop offset="0.063" stop-color="#d9dce1"/><stop offset="0.0659" stop-color="#d9dce1"/><stop offset="0.0669" stop-color="#c5d6f2"/><stop offset="0.0698" stop-color="#c5d6f2"/><stop offset="0.0708" stop-color="#3b4cc0"/><stop offset="0.0737" stop-color="#3b4cc0"/><stop offset="0.0747" stop-color="#c5d6f2"/><stop offset="0.0776" stop-color="#c5d6f2"/><stop offset="0.0786" stop-color="#d9dce1"/><stop offset="0.0815" stop-color="#d9dce1"/><stop offset="0.0825" stop-color="#e4d9d2"/><stop offset="0.0854" stop-color="#e4d9d2"/><stop offset="0.0864" stop-color="#ebd3c6"/><stop offset="0.0894" stop-color="#ebd3c6"/><stop offset="0.0903" stop-color="#efcebd"/><stop offset="0.0933" stop-color="#efcebd"/><stop offset="0.0942" stop-color="#f2cab5"/><stop offset="0.0972" stop-color="#f2cab5"/><stop offset="0.0991" stop-color="#f4c6af"/><stop offset="0.1011" stop-color="#f4c6af"/><stop offset="0.103" stop-color="#f5c2aa"/><stop offset="0.1089" stop-color="#f6bfa6"/><stop offset="0.1108" stop-color="#f7bca1"/><stop offset="0.1128" stop-color="#f7bca1"/><stop offset="0.1147" stop-color="#f7b89c"/><stop offset="0.1323" stop-color="#f7ad90"/><stop offset="0.1372" stop-color="#f7a98b"/><stop offset="0.1851" stop-color="#f29274"/><stop offset="0.2837" stop-color="#e8765c"/><stop offset="0.4048" stop-color="#dd5f4b"/><stop offset="0.5728" stop-color="#d0473d"/><stop offset="0.8042" stop-color="#c32e31"/><stop offset="0.8667" stop-color="#c0282f"/><stop offset="0.8706" stop-color="#be242e"/><stop offset="0.8979" stop-color="#be242e"/><stop offset="0.8999" stop-color="#bd1f2d"/><stop offset="0.9292" stop-color="#bd1f2d"/><stop offset="0.9331" stop-color="#bb1b2c"/><stop offset="0.9604" stop-color="#bb1b2c"/><stop offset="0.9624" stop-color="#ba162b"/><stop offset="0.9956" stop-color="#ba162b"/><stop offset="0.9995" stop-color="#b8122a"/></linearGradient><linearGradient id="d15" x1="977.9" x2="1718.7" gradientUnits="userSpaceOnUse"><stop offset="0.0005" stop-color="#f7a688"/><stop offset="0.0112" stop-color="#f7aa8c"/><stop offset="0.0181" stop-color="#f7b093"/><stop offset="0.0308" stop-color="#f7b99e"/><stop offset="0.0347" stop-color="#f6bda2"/><stop offset="0.0356" stop-color="#f5c1a9"/><stop offset="0.0425" stop-color="#f4c5ad"/><stop offset="0.0435" stop-color="#f2c9b4"/><stop offset="0.0464" stop-color="#f2c9b4"/><stop offset="0.0474" stop-color="#efcebd"/><stop offset="0.0503" stop-color="#efcebd"/><stop offset="0.0513" stop-color="#ebd3c6"/><stop offset="0.0542" stop-color="#ebd3c6"/><stop offset="0.0552" stop-color="#e4d9d2"/><stop offset="0.0581" stop-color="#e4d9d2"/><stop offset="0.0591" stop-color="#d8dce2"/><stop offset="0.062" stop-color="#d8dce2"/><stop offset="0.063" stop-color="#c0d4f5"/><stop offset="0.0659" stop-color="#c0d4f5"/><stop offset="0.0669" stop-color="#90b2fe"/><stop offset="0.0698" stop-color="#90b2fe"/><stop offset="0.0708" stop-color="#cdd9ec"/><stop offset="0.0737" stop-color="#cdd9ec"/><stop offset="0.0747" stop-color="#dedcdb"/><stop offset="0.0776" stop-color="#dedcdb"/><stop offset="0.0786" stop-color="#e8d6cc"/><stop offset="0.0815" stop-color="#e8d6cc"/><stop offset="0.0825" stop-color="#edd1c2"/><stop offset="0.0854" stop-color="#edd1c2"/><stop offset="0.0864" stop-color="#f1ccb8"/><stop offset="0.0894" stop-color="#f1ccb8"/><stop offset="0.0913" stop-color="#f3c8b2"/><stop offset="0.0933" stop-color="#f3c8b2"/><stop offset="0.0952" stop-color="#f5c4ac"/><stop offset="0.0972" stop-color="#f5c4ac"/><stop offset="0.0991" stop-color="#f6bfa6"/><stop offset="0.1011" stop-color="#f6bfa6"/><stop offset="0.103" stop-color="#f7bca1"/><stop offset="0.105" stop-color="#f7bca1"/><stop offset="0.1069" stop-color="#f7b89c"/><stop offset="0.1167" stop-color="#f7b396"/><stop offset="0.1187" stop-color="#f7af91"/><stop offset="0.1245" stop-color="#f7ad90"/><stop offset="0.1313" stop-color="#f7a889"/><stop offset="0.1558" stop-color="#f59c7d"/><stop offset="0.1606" stop-color="#f39778"/><stop offset="0.2495" stop-color="#e97a5f"/><stop offset="0.314" stop-color="#e36b54"/><stop offset="0.4399" stop-color="#d75445"/><stop offset="0.6138" stop-color="#cb3e38"/><stop offset="0.6763" stop-color="#c73635"/><stop offset="0.7485" stop-color="#c32e31"/><stop offset="0.8081" stop-color="#c0282f"/><stop offset="0.812" stop-color="#be242e"/><stop offset="0.8354" stop-color="#be242e"/><stop offset="0.8374" stop-color="#bd1f2d"/><stop offset="0.8628" stop-color="#bd1f2d"/><stop offset="0.8667" stop-color="#bb1b2c"/><stop offset="0.894" stop-color="#bb1b2c"/><stop offset="0.896" stop-color="#ba162b"/><stop offset="0.9253" stop-color="#ba162b"/><stop offset="0.9292" stop-color="#b8122a"/><stop offset="0.9604" stop-color="#b8122a"/><stop offset="0.9624" stop-color="#b70d28"/><stop offset="0.9956" stop-color="#b70d28"/><stop offset="0.9995" stop-color="#b50927"/></linearGradient><linearGradient id="d16" x1="977.9" x2="1718.7" gradientUnits="userSpaceOnUse"><stop offset="0.0005" stop-color="#f7a688"/><stop offset="0.0229" stop-color="#f7b497"/><stop offset="0.0249" stop-color="#f7b89c"/><stop offset="0.0269" stop-color="#f7b89c"/><stop offset="0.0288" stop-color="#f7bca1"/><stop offset="0.0308" stop-color="#f7bca1"/><stop offset="0.0327" stop-color="#f6bfa6"/><stop offset="0.0347" stop-color="#f6bfa6"/><stop offset="0.0366" stop-color="#f5c4ac"/><stop offset="0.0386" stop-color="#f5c4ac"/><stop offset="0.0405" stop-color="#f3c8b2"/><stop offset="0.0425" stop-color="#f3c8b2"/><stop offset="0.0435" stop-color="#f1cdba"/><stop offset="0.0464" stop-color="#f1cdba"/><stop offset="0.0474" stop-color="#edd2c3"/><stop offset="0.0503" stop-color="#edd2c3"/><stop offset="0.0513" stop-color="#e5d8d1"/><stop offset="0.0542" stop-color="#e5d8d1"/><stop offset="0.0552" stop-color="#d9dce1"/><stop offset="0.0581" stop-color="#d9dce1"/><stop offset="0.0591" stop-color="#c0d4f5"/><stop offset="0.062" stop-color="#c0d4f5"/><stop offset="0.063" stop-color="#9abbff"/><stop offset="0.0659" stop-color="#9abbff"/><stop offset="0.0669" stop-color="#d1dae9"/><stop offset="0.0698" stop-color="#d1dae9"/><stop offset="0.0708" stop-color="#e0dbd8"/><stop offset="0.0737" stop-color="#e0dbd8"/><stop offset="0.0747" stop-color="#ead5c9"/><stop offset="0.0776" stop-color="#ead5c9"/><stop offset="0.0786" stop-color="#efcfbf"/><stop offset="0.0815" stop-color="#efcfbf"/><stop offset="0.0825" stop-color="#f2cab5"/><stop offset="0.0854" stop-color="#f2cab5"/><stop offset="0.0874" stop-color="#f4c6af"/><stop offset="0.0894" stop-color="#f4c6af"/><stop offset="0.0913" stop-color="#f5c1a9"/><stop offset="0.0933" stop-color="#f5c1a9"/><stop offset="0.0942" stop-color="#f6bda2"/><stop offset="0.1011" stop-color="#f7b99e"/><stop offset="0.103" stop-color="#f7b599"/><stop offset="0.1167" stop-color="#f7ad90"/><stop offset="0.1235" stop-color="#f7a889"/><stop offset="0.1323" stop-color="#f6a385"/><stop offset="0.1372" stop-color="#f59f80"/><stop offset="0.1782" stop-color="#f18d6f"/><stop offset="0.2397" stop-color="#e9785d"/><stop offset="0.3657" stop-color="#dc5d4a"/><stop offset="0.4995" stop-color="#d0473d"/><stop offset="0.7007" stop-color="#c32e31"/><stop offset="0.7534" stop-color="#c0282f"/><stop offset="0.7573" stop-color="#be242e"/><stop offset="0.7808" stop-color="#be242e"/><stop offset="0.7827" stop-color="#bd1f2d"/><stop offset="0.8081" stop-color="#bd1f2d"/><stop offset="0.812" stop-color="#bb1b2c"/><stop offset="0.8394" stop-color="#bb1b2c"/><stop offset="0.8413" stop-color="#ba162b"/><stop offset="0.8667" stop-color="#ba162b"/><stop offset="0.8706" stop-color="#b8122a"/><stop offset="0.8979" stop-color="#b8122a"/><stop offset="0.8999" stop-color="#b70d28"/><stop offset="0.9292" stop-color="#b70d28"/><stop offset="0.9331" stop-color="#b50927"/><stop offset="0.9644" stop-color="#b50927"/><stop offset="0.9663" stop-color="#b40426"/><stop offset="0.9995" stop-color="#b40426"/></linearGradient><style type="text/css">*{stroke-linejoin: round; stroke-linecap: butt}</style></defs><g id="figure_1"><g id="patch_1"><path d="M0 1201L1725 1201L1725 0L0 0z" style="fill: #ffffff"/></g><g id="patch_2"><path d="M92.16 733.57L827.65 733.57L827.65 -1.92L92.16 -1.92z" style="fill: #ffffff"/></g><g id="pane3d_1"><g id="patch_3"><path d="M179.77 463.61L350.61 392.13L346.17 74.31L168.54 136.01" style="fill: #f2f2f2; opacity: 0.5; stroke: #f2f2f2; stroke-linejoin: miter"/></g></g><g id="pane3d_2"><g id="patch_4"><path d="M350.61 392.13L777.23 580.2L789.87 237.04L346.17 74.31" style="fill: #e6e6e6; opacity: 0.5; stroke: #e6e6e6; stroke-linejoin: miter"/></g></g><g id="pane3d_3"><g id="patch_5"><path d="M179.77 463.61L606.49 667L777.23 580.2L350.61 392.13" style="fill: #ececec; opacity: 0.5; stroke: #ececec; stroke-linejoin: miter"/></g></g><g id="axis3d_1"><g id="line2d_1"><path d="M179.77 463.61L606.49 667" style="fill: none; stroke: #333333; stroke-width: 1.75; stroke-linecap: square"/></g><g id="xtick_1"><g id="line2d_2"><path d="M206.63 473.9L200.59 476.46" style="fill: none; stroke: #333333; stroke-width: 2; stroke-linecap: square"/></g><g id="text_1"><text style="font-size: 30px; font-family: 'DejaVu Sans', sans-serif; text-anchor: middle; fill: #333333" x="186.11" y="533.7" >0</text></g></g><g id="xtick_2"><g id="line2d_3"><path d="M274.65 506.29L268.6 508.92" style="fill: none; stroke: #333333; stroke-width: 2; stroke-linecap: square"/></g><g id="text_2"><text style="font-size: 30px; font-family: 'DejaVu Sans', sans-serif; text-anchor: middle; fill: #333333" x="253.87" y="566.74" >100</text></g></g><g id="xtick_3"><g id="line2d_4"><path d="M344.95 539.75L338.9 542.48" style="fill: none; stroke: #333333; stroke-width: 2; stroke-linecap: square"/></g><g id="text_3"><text style="font-size: 30px; font-family: 'DejaVu Sans', sans-serif; text-anchor: middle; fill: #333333" x="323.9" y="600.88" >200</text></g></g><g id="xtick_4"><g id="line2d_5"><path d="M417.65 574.36L411.6 577.18" style="fill: none; stroke: #333333; stroke-width: 2; stroke-linecap: square"/></g><g id="text_4"><text style="font-size: 30px; font-family: 'DejaVu Sans', sans-serif; text-anchor: middle; fill: #333333" x="396.33" y="636.18" >300</text></g></g><g id="xtick_5"><g id="line2d_6"><path d="M492.88 610.17L486.82 613.09" style="fill: none; stroke: #333333; stroke-width: 2; stroke-linecap: square"/></g><g id="text_5"><text style="font-size: 30px; font-family: 'DejaVu Sans', sans-serif; text-anchor: middle; fill: #333333" x="471.27" y="672.71" >400</text></g></g><g id="xtick_6"><g id="line2d_7"><path d="M570.76 647.25L564.71 650.27" style="fill: none; stroke: #333333; stroke-width: 2; stroke-linecap: square"/></g><g id="text_6"><text style="font-size: 30px; font-family: 'DejaVu Sans', sans-serif; text-anchor: middle; fill: #333333" x="548.86" y="710.53" >500</text></g></g><g id="text_7"><g style="fill: #333333" transform="translate(332.13 659.23)"><text><tspan x="0" y="-0.12" style="font-style: oblique; font-size: 30px; font-family: 'DejaVu Sans', sans-serif; fill: #333333">X</tspan></text></g></g></g><g id="axis3d_2"><g id="line2d_8"><path d="M777.23 580.2L606.49 667" style="fill: none; stroke: #333333; stroke-width: 1.75; stroke-linecap: square"/></g><g id="xtick_7"><g id="line2d_9"><path d="M608.6 661.97L620.71 667.72" style="fill: none; stroke: #333333; stroke-width: 2; stroke-linecap: square"/></g><g id="text_8"><text style="font-size: 30px; font-family: 'DejaVu Sans', sans-serif; text-anchor: middle; fill: #333333" x="657.84" y="740.43" >0</text></g></g><g id="xtick_8"><g id="line2d_10"><path d="M659.58 636.1L671.68 641.71" style="fill: none; stroke: #333333; stroke-width: 2; stroke-linecap: square"/></g><g id="text_9"><text style="font-size: 30px; font-family: 'DejaVu Sans', sans-serif; text-anchor: middle; fill: #333333" x="708.58" y="713.69" >10</text></g></g><g id="xtick_9"><g id="line2d_11"><path d="M709.36 610.84L721.44 616.32" style="fill: none; stroke: #333333; stroke-width: 2; stroke-linecap: square"/></g><g id="text_10"><text style="font-size: 30px; font-family: 'DejaVu Sans', sans-serif; text-anchor: middle; fill: #333333" x="758.11" y="687.59" >20</text></g></g><g id="xtick_10"><g id="line2d_12"><path d="M757.96 586.17L770.03 591.53" style="fill: none; stroke: #333333; stroke-width: 2; stroke-linecap: square"/></g><g id="text_11"><text style="font-size: 30px; font-family: 'DejaVu Sans', sans-serif; text-anchor: middle; fill: #333333" x="806.46" y="662.11" >30</text></g></g><g id="text_12"><g style="fill: #333333" transform="translate(778.21 741.95)"><text><tspan x="0" y="-0.12" style="font-style: oblique; font-size: 30px; font-family: 'DejaVu Sans', sans-serif; fill: #333333">Y</tspan></text></g></g></g><g id="axis3d_3"><g id="line2d_13"><path d="M179.77 463.61L168.54 136.01" style="fill: none; stroke: #333333; stroke-width: 1.75; stroke-linecap: square"/></g><g id="xtick_11"><g id="line2d_14"><path d="M172.08 453.74L183.52 459.18" style="fill: none; stroke: #333333; stroke-width: 2; stroke-linecap: square"/></g><g id="text_13"><text style="font-size: 30px; font-family: 'DejaVu Sans', sans-serif; text-anchor: middle; fill: #333333" x="123.9" y="468.26" >0.0</text></g></g><g id="xtick_12"><g id="line2d_15"><path d="M169.66 384.96L181.19 390.24" style="fill: none; stroke: #333333; stroke-width: 2; stroke-linecap: square"/></g><g id="text_14"><text style="font-size: 30px; font-family: 'DejaVu Sans', sans-serif; text-anchor: middle; fill: #333333" x="121.1" y="399.68" >0.5</text></g></g><g id="xtick_13"><g id="line2d_16"><path d="M167.2 315.05L178.82 320.18" style="fill: none; stroke: #333333; stroke-width: 2; stroke-linecap: square"/></g><g id="text_15"><text style="font-size: 30px; font-family: 'DejaVu Sans', sans-serif; text-anchor: middle; fill: #333333" x="118.25" y="329.98" >1.0</text></g></g><g id="xtick_14"><g id="line2d_17"><path d="M164.7 243.98L176.41 248.95" style="fill: none; stroke: #333333; stroke-width: 2; stroke-linecap: square"/></g><g id="text_16"><text style="font-size: 30px; font-family: 'DejaVu Sans', sans-serif; text-anchor: middle; fill: #333333" x="115.36" y="259.13" >1.5</text></g></g><g id="xtick_15"><g id="line2d_18"><path d="M162.16 171.73L173.96 176.53" style="fill: none; stroke: #333333; stroke-width: 2; stroke-linecap: square"/></g><g id="text_17"><text style="font-size: 30px; font-family: 'DejaVu Sans', sans-serif; text-anchor: middle; fill: #333333" x="112.42" y="187.1" >2.0</text></g></g><g id="text_18"><g style="fill: #333333" transform="translate(46.61 289.04)"><text><tspan x="0" y="-0.12" style="font-style: oblique; font-size: 30px; font-family: 'DejaVu Sans', sans-serif; fill: #333333">E</tspan></text></g></g></g><g id="axes_1"><g class="s" id="Poly3DCollection_1"><path color="#3b4cc0" d="M355.2 404.3L363.3 408.6L372.9 404.5L364.8 400.2Z"/><path color="#3b4cc0" d="M363.3 408.6L371.4 412.5L381 408.5L372.9 404.5Z"/><path color="#3b4cc0" d="M345.5 408.4L353.6 412.6L363.3 408.6L355.2 404.3Z"/><path color="#3b4cc0" d="M371.4 412.5L379.5 416.2L389.2 412L381 408.5Z"/><path color="#3b4cc0" d="M353.6 412.6L361.7 416.6L371.4 412.5L363.3 408.6Z"/><path color="#3b4cc0" d="M335.8 412.5L343.8 416.7L353.6 412.6L345.5 408.4Z"/><path color="#3b4cc0" d="M379.5 416.2L387.7 419.5L397.3 415.3L389.2 412Z"/><path color="#3b4cc0" d="M361.7 416.6L369.8 420.3L379.5 416.2L371.4 412.5Z"/><path color="#3b4cc0" d="M343.8 416.7L352 420.7L361.7 416.6L353.6 412.6Z"/><path color="#3b4cc0" d="M326 416.6L334.1 420.8L343.8 416.7L335.8 412.5Z"/><path color="#3b4cc0" d="M387.7 419.5L395.9 422.5L405.5 418.1L397.3 415.3Z"/><path color="#3b4cc0" d="M369.8 420.3L378 423.8L387.7 419.5L379.5 416.2Z"/><path color="#3b4cc0" d="M352 420.7L360.1 424.5L369.8 420.3L361.7 416.6Z"/><path color="#3b4cc0" d="M334.1 420.8L342.2 424.8L352 420.7L343.8 416.7Z"/><path color="#3b4cc0" d="M316.2 420.7L324.2 424.9L334.1 420.8L326 416.6Z"/><path color="#3c4ec2" d="M395.9 422.5L404.1 425.3L413.8 420.6L405.5 418.1Z"/><path color="#3b4cc0" d="M378 423.8L386.2 427L395.9 422.5L387.7 419.5Z"/><path color="#3b4cc0" d="M360.1 424.5L368.3 428L378 423.8L369.8 420.3Z"/><path color="#3b4cc0" d="M342.2 424.8L350.3 428.7L360.1 424.5L352 420.7Z"/><path color="#3b4cc0" d="M324.2 424.9L332.4 428.9L342.2 424.8L334.1 420.8Z"/><path color="#3b4cc0" d="M306.3 424.9L314.4 429L324.2 424.9L316.2 420.7Z"/><path color="#3d50c3" d="M404.1 425.3L412.4 427.7L422 422.7L413.8 420.6Z"/><path color="#3c4ec2" d="M386.2 427L394.4 429.9L404.1 425.3L395.9 422.5Z"/><path color="#3b4cc0" d="M368.3 428L376.5 431.4L386.2 427L378 423.8Z"/><path color="#3b4cc0" d="M350.3 428.7L358.5 432.3L368.3 428L360.1 424.5Z"/><path color="#3b4cc0" d="M332.4 428.9L340.5 432.8L350.3 428.7L342.2 424.8Z"/><path color="#3b4cc0" d="M314.4 429L322.5 433.1L332.4 428.9L324.2 424.9Z"/><path color="#3b4cc0" d="M296.4 429.1L304.5 433.2L314.4 429L306.3 424.9Z"/><path color="#3f53c6" d="M412.4 427.7L420.7 429.7L430.3 424.5L422 422.7Z"/><path color="#3d50c3" d="M394.4 429.9L402.7 432.5L412.4 427.7L404.1 425.3Z"/><path color="#3b4cc0" d="M376.5 431.4L384.7 434.4L394.4 429.9L386.2 427Z"/><path color="#3b4cc0" d="M358.5 432.3L366.7 435.7L376.5 431.4L368.3 428Z"/><path color="#3b4cc0" d="M340.5 432.8L348.7 436.5L358.5 432.3L350.3 428.7Z"/><path color="#3b4cc0" d="M322.5 433.1L330.6 437L340.5 432.8L332.4 428.9Z"/><path color="#3b4cc0" d="M304.5 433.2L312.6 437.2L322.5 433.1L314.4 429Z"/><path color="#3b4cc0" d="M286.4 433.2L294.5 437.3L304.5 433.2L296.4 429.1Z"/><path color="#3e51c5" d="M402.7 432.5L411 434.9L420.7 429.7L412.4 427.7Z"/><path color="#4055c8" d="M420.7 429.7L429 431.5L438.6 425.9L430.3 424.5Z"/><path color="#3c4ec2" d="M384.7 434.4L392.9 437.3L402.7 432.5L394.4 429.9Z"/><path color="#3b4cc0" d="M366.7 435.7L374.9 439L384.7 434.4L376.5 431.4Z"/><path color="#3b4cc0" d="M348.7 436.5L356.9 440.1L366.7 435.7L358.5 432.3Z"/><path color="#3b4cc0" d="M330.6 437L338.8 440.8L348.7 436.5L340.5 432.8Z"/><path color="#3b4cc0" d="M312.6 437.2L320.7 441.2L330.6 437L322.5 433.1Z"/><path color="#3b4cc0" d="M294.5 437.3L302.6 441.4L312.6 437.2L304.5 433.2Z"/><path color="#3b4cc0" d="M276.4 437.4L284.5 441.5L294.5 437.3L286.4 433.2Z"/><path color="#3d50c3" d="M392.9 437.3L401.2 439.9L411 434.9L402.7 432.5Z"/><path color="#3f53c6" d="M411 434.9L419.3 437L429 431.5L420.7 429.7Z"/><path color="#3c4ec2" d="M374.9 439L383.2 442L392.9 437.3L384.7 434.4Z"/><path color="#4358cb" d="M429 431.5L437.3 432.9L447 426.9L438.6 425.9Z"/><path color="#3b4cc0" d="M356.9 440.1L365.1 443.5L374.9 439L366.7 435.7Z"/><path color="#3b4cc0" d="M338.8 440.8L347 444.4L356.9 440.1L348.7 436.5Z"/><path color="#3b4cc0" d="M320.7 441.2L328.9 445L338.8 440.8L330.6 437Z"/><path color="#3b4cc0" d="M302.6 441.4L310.8 445.3L320.7 441.2L312.6 437.2Z"/><path color="#3b4cc0" d="M284.5 441.5L292.6 445.5L302.6 441.4L294.5 437.3Z"/><path color="#3b4cc0" d="M266.4 441.7L274.5 445.7L284.5 441.5L276.4 437.4Z"/><path color="#3e51c5" d="M401.2 439.9L409.5 442.3L419.3 437L411 434.9Z"/><path color="#3c4ec2" d="M383.2 442L391.4 444.9L401.2 439.9L392.9 437.3Z"/><path color="#4257c9" d="M419.3 437L427.6 438.8L437.3 432.9L429 431.5Z"/><path color="#3b4cc0" d="M365.1 443.5L373.3 446.7L383.2 442L374.9 439Z"/><path color="#465ecf" d="M437.3 432.9L445.7 434L455.4 427.6L447 426.9Z"/><path color="#3b4cc0" d="M347 444.4L355.2 447.9L365.1 443.5L356.9 440.1Z"/><path color="#3b4cc0" d="M328.9 445L337.1 448.7L347 444.4L338.8 440.8Z"/><path color="#3b4cc0" d="M310.8 445.3L318.9 449.2L328.9 445L320.7 441.2Z"/><path color="#3b4cc0" d="M292.6 445.5L300.8 449.5L310.8 445.3L302.6 441.4Z"/><path color="#3b4cc0" d="M274.5 445.7L282.6 449.7L292.6 445.5L284.5 441.5Z"/><path color="#3b4cc0" d="M256.3 445.9L264.4 449.9L274.5 445.7L266.4 441.7Z"/><path color="#3d50c3" d="M391.4 444.9L399.8 447.6L409.5 442.3L401.2 439.9Z"/><path color="#4055c8" d="M409.5 442.3L417.9 444.5L427.6 438.8L419.3 437Z"/><path color="#3c4ec2" d="M373.3 446.7L381.6 449.8L391.4 444.9L383.2 442Z"/><path color="#445acc" d="M427.6 438.8L436 440.3L445.7 434L437.3 432.9Z"/><path color="#3b4cc0" d="M355.2 447.9L363.5 451.3L373.3 446.7L365.1 443.5Z"/><path color="#3b4cc0" d="M337.1 448.7L345.3 452.4L355.2 447.9L347 444.4Z"/><path color="#4a63d3" d="M445.7 434L454.2 434.8L463.8 427.9L455.4 427.6Z"/><path color="#3b4cc0" d="M318.9 449.2L327.1 453L337.1 448.7L328.9 445Z"/><path color="#3b4cc0" d="M300.8 449.5L308.9 453.4L318.9 449.2L310.8 445.3Z"/><path color="#3b4cc0" d="M282.6 449.7L290.7 453.7L300.8 449.5L292.6 445.5Z"/><path color="#3b4cc0" d="M264.4 449.9L272.5 453.9L282.6 449.7L274.5 445.7Z"/><path color="#3b4cc0" d="M246.2 450.2L254.3 454.1L264.4 449.9L256.3 445.9Z"/><path color="#3f53c6" d="M399.8 447.6L408.1 450L417.9 444.5L409.5 442.3Z"/><path color="#3d50c3" d="M381.6 449.8L389.9 452.7L399.8 447.6L391.4 444.9Z"/><path color="#4257c9" d="M417.9 444.5L426.3 446.4L436 440.3L427.6 438.8Z"/><path color="#3b4cc0" d="M363.5 451.3L371.8 454.6L381.6 449.8L373.3 446.7Z"/><path color="#3b4cc0" d="M345.3 452.4L353.6 455.9L363.5 451.3L355.2 447.9Z"/><path color="#465ecf" d="M436 440.3L444.4 441.5L454.2 434.8L445.7 434Z"/><path color="#3b4cc0" d="M327.1 453L335.3 456.7L345.3 452.4L337.1 448.7Z"/><path color="#4e68d8" d="M454.2 434.8L462.6 435.3L472.3 427.8L463.8 427.9Z"/><path color="#3b4cc0" d="M308.9 453.4L317.1 457.3L327.1 453L318.9 449.2Z"/><path color="#3b4cc0" d="M290.7 453.7L298.9 457.6L308.9 453.4L300.8 449.5Z"/><path color="#3b4cc0" d="M272.5 453.9L280.6 457.9L290.7 453.7L282.6 449.7Z"/><path color="#3b4cc0" d="M254.3 454.1L262.4 458.1L272.5 453.9L264.4 449.9Z"/><path color="#3c4ec2" d="M236 454.5L244.1 458.4L254.3 454.1L246.2 450.2Z"/><path color="#3e51c5" d="M389.9 452.7L398.3 455.5L408.1 450L399.8 447.6Z"/><path color="#4055c8" d="M408.1 450L416.5 452.3L426.3 446.4L417.9 444.5Z"/><path color="#3c4ec2" d="M371.8 454.6L380.1 457.8L389.9 452.7L381.6 449.8Z"/><path color="#445acc" d="M426.3 446.4L434.7 448.1L444.4 441.5L436 440.3Z"/><path color="#3b4cc0" d="M353.6 455.9L361.8 459.3L371.8 454.6L363.5 451.3Z"/><path color="#3b4cc0" d="M335.3 456.7L343.6 460.4L353.6 455.9L345.3 452.4Z"/><path color="#4a63d3" d="M444.4 441.5L452.9 442.5L462.6 435.3L454.2 434.8Z"/><path color="#3b4cc0" d="M317.1 457.3L325.3 461.1L335.3 456.7L327.1 453Z"/><path color="#3b4cc0" d="M298.9 457.6L307.1 461.5L317.1 457.3L308.9 453.4Z"/><path color="#516ddb" d="M462.6 435.3L471.1 435.4L480.8 427.3L472.3 427.8Z"/><path color="#3b4cc0" d="M280.6 457.9L288.8 461.8L298.9 457.6L290.7 453.7Z"/><path color="#3b4cc0" d="M262.4 458.1L270.5 462.1L280.6 457.9L272.5 453.9Z"/><path color="#3b4cc0" d="M244.1 458.4L252.2 462.3L262.4 458.1L254.3 454.1Z"/><path color="#3f53c6" d="M398.3 455.5L406.7 458.1L416.5 452.3L408.1 450Z"/><path color="#3d50c3" d="M380.1 457.8L388.4 460.8L398.3 455.5L389.9 452.7Z"/><path color="#4358cb" d="M416.5 452.3L424.9 454.4L434.7 448.1L426.3 446.4Z"/><path color="#3c4ec2" d="M225.8 458.8L233.9 462.6L244.1 458.4L236 454.5Z"/><path color="#3c4ec2" d="M361.8 459.3L370.2 462.7L380.1 457.8L371.8 454.6Z"/><path color="#3b4cc0" d="M343.6 460.4L351.9 464L361.8 459.3L353.6 455.9Z"/><path color="#485fd1" d="M434.7 448.1L443.2 449.5L452.9 442.5L444.4 441.5Z"/><path color="#3b4cc0" d="M325.3 461.1L333.6 464.9L343.6 460.4L335.3 456.7Z"/><path color="#4e68d8" d="M452.9 442.5L461.4 443.2L471.1 435.4L462.6 435.3Z"/><path color="#3b4cc0" d="M307.1 461.5L315.3 465.4L325.3 461.1L317.1 457.3Z"/><path color="#3b4cc0" d="M288.8 461.8L297 465.7L307.1 461.5L298.9 457.6Z"/><path color="#5673e0" d="M471.1 435.4L479.7 435.2L489.4 426.5L480.8 427.3Z"/><path color="#3b4cc0" d="M270.5 462.1L278.7 466L288.8 461.8L280.6 457.9Z"/><path color="#3b4cc0" d="M252.2 462.3L260.3 466.2L270.5 462.1L262.4 458.1Z"/><path color="#3b4cc0" d="M233.9 462.6L242 466.5L252.2 462.3L244.1 458.4Z"/><path color="#3e51c5" d="M388.4 460.8L396.8 463.6L406.7 458.1L398.3 455.5Z"/><path color="#4055c8" d="M406.7 458.1L415.1 460.5L424.9 454.4L416.5 452.3Z"/><path color="#3c4ec2" d="M370.2 462.7L378.5 465.9L388.4 460.8L380.1 457.8Z"/><path color="#455cce" d="M424.9 454.4L433.4 456.3L443.2 449.5L434.7 448.1Z"/><path color="#3b4cc0" d="M351.9 464L360.2 467.5L370.2 462.7L361.8 459.3Z"/><path color="#3c4ec2" d="M215.6 463.1L223.6 466.9L233.9 462.6L225.8 458.8Z"/><path color="#3b4cc0" d="M333.6 464.9L341.9 468.6L351.9 464L343.6 460.4Z"/><path color="#4a63d3" d="M443.2 449.5L451.7 450.7L461.4 443.2L452.9 442.5Z"/><path color="#3b4cc0" d="M315.3 465.4L323.6 469.2L333.6 464.9L325.3 461.1Z"/><path color="#3b4cc0" d="M297 465.7L305.2 469.7L315.3 465.4L307.1 461.5Z"/><path color="#516ddb" d="M461.4 443.2L469.9 443.6L479.7 435.2L471.1 435.4Z"/><path color="#3b4cc0" d="M278.7 466L286.8 469.9L297 465.7L288.8 461.8Z"/><path color="#3b4cc0" d="M260.3 466.2L268.5 470.2L278.7 466L270.5 462.1Z"/><path color="#5b7ae5" d="M479.7 435.2L488.3 434.6L498 425.2L489.4 426.5Z"/><path color="#3b4cc0" d="M242 466.5L250.1 470.4L260.3 466.2L252.2 462.3Z"/><path color="#3f53c6" d="M396.8 463.6L405.2 466.4L415.1 460.5L406.7 458.1Z"/><path color="#3d50c3" d="M378.5 465.9L386.9 469.1L396.8 463.6L388.4 460.8Z"/><path color="#4358cb" d="M415.1 460.5L423.5 462.8L433.4 456.3L424.9 454.4Z"/><path color="#3c4ec2" d="M223.6 466.9L231.7 470.8L242 466.5L233.9 462.6Z"/><path color="#3c4ec2" d="M360.2 467.5L368.6 470.9L378.5 465.9L370.2 462.7Z"/><path color="#3b4cc0" d="M341.9 468.6L350.2 472.2L360.2 467.5L351.9 464Z"/><path color="#485fd1" d="M433.4 456.3L441.9 457.9L451.7 450.7L443.2 449.5Z"/><path color="#3b4cc0" d="M323.6 469.2L331.8 473L341.9 468.6L333.6 464.9Z"/><path color="#4e68d8" d="M451.7 450.7L460.2 451.7L469.9 443.6L461.4 443.2Z"/><path color="#3b4cc0" d="M305.2 469.7L313.5 473.6L323.6 469.2L315.3 465.4Z"/><path color="#3b4cc0" d="M286.8 469.9L295.1 473.9L305.2 469.7L297 465.7Z"/><path color="#5673e0" d="M469.9 443.6L478.5 443.7L488.3 434.6L479.7 435.2Z"/><path color="#3b4cc0" d="M268.5 470.2L276.7 474.1L286.8 469.9L278.7 466Z"/><path color="#3b4cc0" d="M250.1 470.4L258.2 474.4L268.5 470.2L260.3 466.2Z"/><path color="#3b4cc0" d="M231.7 470.8L239.8 474.6L250.1 470.4L242 466.5Z"/><path color="#3e51c5" d="M386.9 469.1L395.3 472.1L405.2 466.4L396.8 463.6Z"/><path color="#4055c8" d="M405.2 466.4L413.7 469L423.5 462.8L415.1 460.5Z"/><path color="#3c4ec2" d="M368.6 470.9L376.9 474.3L386.9 469.1L378.5 465.9Z"/><path color="#6180e9" d="M488.3 434.6L496.9 433.8L506.6 423.6L498 425.2Z"/><path color="#445acc" d="M423.5 462.8L432 464.9L441.9 457.9L433.4 456.3Z"/><path color="#3b4cc0" d="M350.2 472.2L358.6 475.8L368.6 470.9L360.2 467.5Z"/><path color="#3b4cc0" d="M331.8 473L340.2 476.8L350.2 472.2L341.9 468.6Z"/><path color="#4a63d3" d="M441.9 457.9L450.4 459.4L460.2 451.7L451.7 450.7Z"/><path color="#3b4cc0" d="M313.5 473.6L321.8 477.4L331.8 473L323.6 469.2Z"/><path color="#3b4cc0" d="M295.1 473.9L303.3 477.8L313.5 473.6L305.2 469.7Z"/><path color="#516ddb" d="M460.2 451.7L468.8 452.4L478.5 443.7L469.9 443.6Z"/><path color="#3b4cc0" d="M276.7 474.1L284.9 478.1L295.1 473.9L286.8 469.9Z"/><path color="#3b4cc0" d="M258.2 474.4L266.4 478.3L276.7 474.1L268.5 470.2Z"/><path color="#5a78e4" d="M478.5 443.7L487.2 443.5L496.9 433.8L488.3 434.6Z"/><path color="#3b4cc0" d="M239.8 474.6L248 478.5L258.2 474.4L250.1 470.4Z"/><path color="#3e51c5" d="M395.3 472.1L403.8 475L413.7 469L405.2 466.4Z"/><path color="#3d50c3" d="M376.9 474.3L385.4 477.6L395.3 472.1L386.9 469.1Z"/><path color="#4257c9" d="M413.7 469L422.2 471.5L432 464.9L423.5 462.8Z"/><path color="#3b4cc0" d="M358.6 475.8L366.9 479.4L376.9 474.3L368.6 470.9Z"/><path color="#465ecf" d="M432 464.9L440.6 466.8L450.4 459.4L441.9 457.9Z"/><path color="#3b4cc0" d="M340.2 476.8L348.5 480.6L358.6 475.8L350.2 472.2Z"/><path color="#3b4cc0" d="M321.8 477.4L330.1 481.3L340.2 476.8L331.8 473Z"/><path color="#6788ee" d="M496.9 433.8L505.6 432.5L515.3 421.5L506.6 423.6Z"/><path color="#4c66d6" d="M450.4 459.4L459 460.6L468.8 452.4L460.2 451.7Z"/><path color="#3b4cc0" d="M303.3 477.8L311.6 481.8L321.8 477.4L313.5 473.6Z"/><path color="#3b4cc0" d="M284.9 478.1L293.1 482L303.3 477.8L295.1 473.9Z"/><path color="#5572df" d="M468.8 452.4L477.4 452.8L487.2 443.5L478.5 443.7Z"/><path color="#3b4cc0" d="M266.4 478.3L274.7 482.2L284.9 478.1L276.7 474.1Z"/><path color="#3b4cc0" d="M248 478.5L256.2 482.4L266.4 478.3L258.2 474.4Z"/><path color="#3d50c3" d="M385.4 477.6L393.8 480.8L403.8 475L395.3 472.1Z"/><path color="#3f53c6" d="M403.8 475L412.2 477.9L422.2 471.5L413.7 469Z"/><path color="#5f7fe8" d="M487.2 443.5L495.8 443L505.6 432.5L496.9 433.8Z"/><path color="#3c4ec2" d="M366.9 479.4L375.4 482.9L385.4 477.6L376.9 474.3Z"/><path color="#445acc" d="M422.2 471.5L430.7 473.9L440.6 466.8L432 464.9Z"/><path color="#3b4cc0" d="M348.5 480.6L356.9 484.3L366.9 479.4L358.6 475.8Z"/><path color="#4961d2" d="M440.6 466.8L449.1 468.6L459 460.6L450.4 459.4Z"/><path color="#3b4cc0" d="M330.1 481.3L338.4 485.2L348.5 480.6L340.2 476.8Z"/><path color="#3b4cc0" d="M311.6 481.8L319.9 485.7L330.1 481.3L321.8 477.4Z"/><path color="#506bda" d="M459 460.6L467.6 461.7L477.4 452.8L468.8 452.4Z"/><path color="#3b4cc0" d="M293.1 482L301.4 486L311.6 481.8L303.3 477.8Z"/><path color="#6e90f2" d="M505.6 432.5L514.3 431L524.1 419.1L515.3 421.5Z"/><path color="#3b4cc0" d="M274.7 482.2L282.9 486.2L293.1 482L284.9 478.1Z"/><path color="#5977e3" d="M477.4 452.8L486 453L495.8 443L487.2 443.5Z"/><path color="#3b4cc0" d="M256.2 482.4L264.4 486.3L274.7 482.2L266.4 478.3Z"/><path color="#3e51c5" d="M393.8 480.8L402.3 483.9L412.2 477.9L403.8 475Z"/><path color="#3c4ec2" d="M375.4 482.9L383.8 486.3L393.8 480.8L385.4 477.6Z"/><path color="#4257c9" d="M412.2 477.9L420.8 480.6L430.7 473.9L422.2 471.5Z"/><path color="#3b4cc0" d="M356.9 484.3L365.3 487.9L375.4 482.9L366.9 479.4Z"/><path color="#455cce" d="M430.7 473.9L439.2 476.1L449.1 468.6L440.6 466.8Z"/><path color="#3b4cc0" d="M338.4 485.2L346.8 489L356.9 484.3L348.5 480.6Z"/><path color="#6687ed" d="M495.8 443L504.5 442.3L514.3 431L505.6 432.5Z"/><path color="#4b64d5" d="M449.1 468.6L457.7 470.2L467.6 461.7L459 460.6Z"/><path color="#3b4cc0" d="M319.9 485.7L328.3 489.6L338.4 485.2L330.1 481.3Z"/><path color="#3b4cc0" d="M301.4 486L309.7 490L319.9 485.7L311.6 481.8Z"/><path color="#5470de" d="M467.6 461.7L476.2 462.6L486 453L477.4 452.8Z"/><path color="#3b4cc0" d="M282.9 486.2L291.2 490.1L301.4 486L293.1 482Z"/><path color="#3b4cc0" d="M264.4 486.3L272.6 490.2L282.9 486.2L274.7 482.2Z"/><path color="#7597f6" d="M514.3 431L523.1 429.1L532.8 416.3L524.1 419.1Z"/><path color="#5e7de7" d="M486 453L494.7 453L504.5 442.3L495.8 443Z"/><path color="#3f53c6" d="M402.3 483.9L410.8 487L420.8 480.6L412.2 477.9Z"/><path color="#3d50c3" d="M383.8 486.3L392.3 489.7L402.3 483.9L393.8 480.8Z"/><path color="#3b4cc0" d="M365.3 487.9L373.8 491.6L383.8 486.3L375.4 482.9Z"/><path color="#4358cb" d="M420.8 480.6L429.3 483.2L439.2 476.1L430.7 473.9Z"/><path color="#3b4cc0" d="M346.8 489L355.2 492.8L365.3 487.9L356.9 484.3Z"/><path color="#485fd1" d="M439.2 476.1L447.8 478.2L457.7 470.2L449.1 468.6Z"/><path color="#3b4cc0" d="M328.3 489.6L336.7 493.5L346.8 489L338.4 485.2Z"/><path color="#3b4cc0" d="M309.7 490L318.1 493.9L328.3 489.6L319.9 485.7Z"/><path color="#4f69d9" d="M457.7 470.2L466.3 471.6L476.2 462.6L467.6 461.7Z"/><path color="#6b8df0" d="M504.5 442.3L513.3 441.2L523.1 429.1L514.3 431Z"/><path color="#3b4cc0" d="M291.2 490.1L299.5 494.1L309.7 490L301.4 486Z"/><path color="#3b4cc0" d="M272.6 490.2L280.9 494.2L291.2 490.1L282.9 486.2Z"/><path color="#5875e1" d="M476.2 462.6L484.9 463.2L494.7 453L486 453Z"/><path color="#3d50c3" d="M392.3 489.7L400.8 493L410.8 487L402.3 483.9Z"/><path color="#4055c8" d="M410.8 487L419.4 490L429.3 483.2L420.8 480.6Z"/><path color="#3c4ec2" d="M373.8 491.6L382.2 495.2L392.3 489.7L383.8 486.3Z"/><path color="#445acc" d="M429.3 483.2L437.9 485.7L447.8 478.2L439.2 476.1Z"/><path color="#3b4cc0" d="M355.2 492.8L363.7 496.6L373.8 491.6L365.3 487.9Z"/><path color="#7da0f9" d="M523.1 429.1L531.9 426.8L541.7 413.1L532.8 416.3Z"/><path color="#6384eb" d="M494.7 453L503.5 452.7L513.3 441.2L504.5 442.3Z"/><path color="#3b4cc0" d="M336.7 493.5L345.1 497.4L355.2 492.8L346.8 489Z"/><path color="#4a63d3" d="M447.8 478.2L456.5 480.1L466.3 471.6L457.7 470.2Z"/><path color="#3b4cc0" d="M318.1 493.9L326.5 497.9L336.7 493.5L328.3 489.6Z"/><path color="#3b4cc0" d="M299.5 494.1L307.9 498.1L318.1 493.9L309.7 490Z"/><path color="#516ddb" d="M466.3 471.6L475 472.8L484.9 463.2L476.2 462.6Z"/><path color="#3b4cc0" d="M280.9 494.2L289.2 498.1L299.5 494.1L291.2 490.1Z"/><path color="#7295f4" d="M513.3 441.2L522.1 439.8L531.9 426.8L523.1 429.1Z"/><path color="#5b7ae5" d="M484.9 463.2L493.6 463.6L503.5 452.7L494.7 453Z"/><path color="#3e51c5" d="M400.8 493L409.4 496.3L419.4 490L410.8 487Z"/><path color="#3c4ec2" d="M382.2 495.2L390.8 498.8L400.8 493L392.3 489.7Z"/><path color="#4257c9" d="M419.4 490L427.9 492.9L437.9 485.7L429.3 483.2Z"/><path color="#3b4cc0" d="M363.7 496.6L372.2 500.4L382.2 495.2L373.8 491.6Z"/><path color="#465ecf" d="M437.9 485.7L446.5 488.1L456.5 480.1L447.8 478.2Z"/><path color="#3b4cc0" d="M345.1 497.4L353.5 501.4L363.7 496.6L355.2 492.8Z"/><path color="#3b4cc0" d="M326.5 497.9L334.9 501.9L345.1 497.4L336.7 493.5Z"/><path color="#4c66d6" d="M456.5 480.1L465.1 481.9L475 472.8L466.3 471.6Z"/><path color="#688aef" d="M503.5 452.7L512.2 452.2L522.1 439.8L513.3 441.2Z"/><path color="#3b4cc0" d="M307.9 498.1L316.2 502.1L326.5 497.9L318.1 493.9Z"/><path color="#85a8fc" d="M531.9 426.8L540.8 424.2L550.6 409.5L541.7 413.1Z"/><path color="#3b4cc0" d="M289.2 498.1L297.6 502.1L307.9 498.1L299.5 494.1Z"/><path color="#5572df" d="M475 472.8L483.7 473.9L493.6 463.6L484.9 463.2Z"/><path color="#3d50c3" d="M390.8 498.8L399.3 502.3L409.4 496.3L400.8 493Z"/><path color="#3f53c6" d="M409.4 496.3L417.9 499.6L427.9 492.9L419.4 490Z"/><path color="#799cf8" d="M522.1 439.8L530.9 438.2L540.8 424.2L531.9 426.8Z"/><path color="#3b4cc0" d="M372.2 500.4L380.7 504.1L390.8 498.8L382.2 495.2Z"/><path color="#4358cb" d="M427.9 492.9L436.6 495.7L446.5 488.1L437.9 485.7Z"/><path color="#6180e9" d="M493.6 463.6L502.4 463.9L512.2 452.2L503.5 452.7Z"/><path color="#3b4cc0" d="M353.5 501.4L362 505.3L372.2 500.4L363.7 496.6Z"/><path color="#485fd1" d="M446.5 488.1L455.2 490.5L465.1 481.9L456.5 480.1Z"/><path color="#3b4cc0" d="M334.9 501.9L343.3 505.9L353.5 501.4L345.1 497.4Z"/><path color="#3b4cc0" d="M316.2 502.1L324.7 506.1L334.9 501.9L326.5 497.9Z"/><path color="#4f69d9" d="M465.1 481.9L473.8 483.6L483.7 473.9L475 472.8Z"/><path color="#3b4cc0" d="M297.6 502.1L305.9 506.1L316.2 502.1L307.9 498.1Z"/><path color="#6f92f3" d="M512.2 452.2L521.1 451.4L530.9 438.2L522.1 439.8Z"/><path color="#5977e3" d="M483.7 473.9L492.5 474.8L502.4 463.9L493.6 463.6Z"/><path color="#8db0fe" d="M540.8 424.2L549.7 421.2L559.5 405.4L550.6 409.5Z"/><path color="#3d50c3" d="M399.3 502.3L407.9 505.8L417.9 499.6L409.4 496.3Z"/><path color="#4055c8" d="M417.9 499.6L426.6 502.7L436.6 495.7L427.9 492.9Z"/><path color="#3c4ec2" d="M380.7 504.1L389.2 507.9L399.3 502.3L390.8 498.8Z"/><path color="#445acc" d="M436.6 495.7L445.2 498.4L455.2 490.5L446.5 488.1Z"/><path color="#3b4cc0" d="M362 505.3L370.5 509.2L380.7 504.1L372.2 500.4Z"/><path color="#3b4cc0" d="M343.3 505.9L351.8 509.9L362 505.3L353.5 501.4Z"/><path color="#6485ec" d="M502.4 463.9L511.2 463.9L521.1 451.4L512.2 452.2Z"/><path color="#4a63d3" d="M455.2 490.5L463.9 492.7L473.8 483.6L465.1 481.9Z"/><path color="#81a4fb" d="M530.9 438.2L539.8 436.2L549.7 421.2L540.8 424.2Z"/><path color="#3b4cc0" d="M324.7 506.1L333.1 510.1L343.3 505.9L334.9 501.9Z"/><path color="#3b4cc0" d="M305.9 506.1L314.4 510.1L324.7 506.1L316.2 502.1Z"/><path color="#536edd" d="M473.8 483.6L482.6 485.1L492.5 474.8L483.7 473.9Z"/><path color="#7597f6" d="M521.1 451.4L529.9 450.3L539.8 436.2L530.9 438.2Z"/><path color="#5d7ce6" d="M492.5 474.8L501.3 475.6L511.2 463.9L502.4 463.9Z"/><path color="#3e51c5" d="M407.9 505.8L416.5 509.3L426.6 502.7L417.9 499.6Z"/><path color="#3c4ec2" d="M389.2 507.9L397.8 511.6L407.9 505.8L399.3 502.3Z"/><path color="#4055c8" d="M426.6 502.7L435.2 505.8L445.2 498.4L436.6 495.7Z"/><path color="#3b4cc0" d="M370.5 509.2L379.1 513.1L389.2 507.9L380.7 504.1Z"/><path color="#455cce" d="M445.2 498.4L453.9 501.1L463.9 492.7L455.2 490.5Z"/><path color="#3b4cc0" d="M351.8 509.9L360.3 513.9L370.5 509.2L362 505.3Z"/><path color="#97b8ff" d="M549.7 421.2L558.7 417.9L568.5 401L559.5 405.4Z"/><path color="#3b4cc0" d="M333.1 510.1L341.6 514.2L351.8 509.9L343.3 505.9Z"/><path color="#4c66d6" d="M463.9 492.7L472.6 494.7L482.6 485.1L473.8 483.6Z"/><path color="#6a8bef" d="M511.2 463.9L520.1 463.7L529.9 450.3L521.1 451.4Z"/><path color="#3b4cc0" d="M314.4 510.1L322.8 514.1L333.1 510.1L324.7 506.1Z"/><path color="#5572df" d="M482.6 485.1L491.4 486.5L501.3 475.6L492.5 474.8Z"/><path color="#89acfd" d="M539.8 436.2L548.8 433.9L558.7 417.9L549.7 421.2Z"/><path color="#3e51c5" d="M416.5 509.3L425.2 512.7L435.2 505.8L426.6 502.7Z"/><path color="#3c4ec2" d="M397.8 511.6L406.4 515.3L416.5 509.3L407.9 505.8Z"/><path color="#3b4cc0" d="M379.1 513.1L387.7 517L397.8 511.6L389.2 507.9Z"/><path color="#4257c9" d="M435.2 505.8L443.9 508.9L453.9 501.1L445.2 498.4Z"/><path color="#6180e9" d="M501.3 475.6L510.1 476.1L520.1 463.7L511.2 463.9Z"/><path color="#3b4cc0" d="M360.3 513.9L368.9 517.9L379.1 513.1L370.5 509.2Z"/><path color="#7b9ff9" d="M529.9 450.3L538.9 449L548.8 433.9L539.8 436.2Z"/><path color="#485fd1" d="M453.9 501.1L462.7 503.7L472.6 494.7L463.9 492.7Z"/><path color="#3b4cc0" d="M341.6 514.2L350.1 518.2L360.3 513.9L351.8 509.9Z"/><path color="#4f69d9" d="M472.6 494.7L481.4 496.7L491.4 486.5L482.6 485.1Z"/><path color="#3b4cc0" d="M322.8 514.1L331.3 518.2L341.6 514.2L333.1 510.1Z"/><path color="#a1c0ff" d="M558.7 417.9L567.7 414.2L577.6 396.1L568.5 401Z"/><path color="#6f92f3" d="M520.1 463.7L529 463.2L538.9 449L529.9 450.3Z"/><path color="#5977e3" d="M491.4 486.5L500.2 487.8L510.1 476.1L501.3 475.6Z"/><path color="#3d50c3" d="M406.4 515.3L415.1 519L425.2 512.7L416.5 509.3Z"/><path color="#3f53c6" d="M425.2 512.7L433.9 516.1L443.9 508.9L435.2 505.8Z"/><path color="#3b4cc0" d="M387.7 517L396.3 520.9L406.4 515.3L397.8 511.6Z"/><path color="#92b4fe" d="M548.8 433.9L557.8 431.3L567.7 414.2L558.7 417.9Z"/><path color="#4358cb" d="M443.9 508.9L452.6 511.9L462.7 503.7L453.9 501.1Z"/><path color="#3b4cc0" d="M368.9 517.9L377.5 521.9L387.7 517L379.1 513.1Z"/><path color="#3b4cc0" d="M350.1 518.2L358.6 522.3L368.9 517.9L360.3 513.9Z"/><path color="#4961d2" d="M462.7 503.7L471.4 506.2L481.4 496.7L472.6 494.7Z"/><path color="#6485ec" d="M510.1 476.1L519 476.5L529 463.2L520.1 463.7Z"/><path color="#3b4cc0" d="M331.3 518.2L339.8 522.2L350.1 518.2L341.6 514.2Z"/><path color="#82a6fb" d="M538.9 449L547.8 447.5L557.8 431.3L548.8 433.9Z"/><path color="#516ddb" d="M481.4 496.7L490.2 498.6L500.2 487.8L491.4 486.5Z"/><path color="#5b7ae5" d="M500.2 487.8L509.1 488.9L519 476.5L510.1 476.1Z"/><path color="#7699f6" d="M529 463.2L537.9 462.6L547.8 447.5L538.9 449Z"/><path color="#3d50c3" d="M415.1 519L423.8 522.7L433.9 516.1L425.2 512.7Z"/><path color="#4055c8" d="M433.9 516.1L442.6 519.5L452.6 511.9L443.9 508.9Z"/><path color="#3b4cc0" d="M396.3 520.9L404.9 524.7L415.1 519L406.4 515.3Z"/><path color="#aac7fd" d="M567.7 414.2L576.8 410.2L586.7 390.8L577.6 396.1Z"/><path color="#3b4cc0" d="M377.5 521.9L386.1 525.9L396.3 520.9L387.7 517Z"/><path color="#455cce" d="M452.6 511.9L461.4 514.9L471.4 506.2L462.7 503.7Z"/><path color="#3b4cc0" d="M358.6 522.3L367.2 526.3L377.5 521.9L368.9 517.9Z"/><path color="#4b64d5" d="M471.4 506.2L480.2 508.6L490.2 498.6L481.4 496.7Z"/><path color="#3b4cc0" d="M339.8 522.2L348.4 526.3L358.6 522.3L350.1 518.2Z"/><path color="#9abbff" d="M557.8 431.3L566.8 428.4L576.8 410.2L567.7 414.2Z"/><path color="#6a8bef" d="M519 476.5L528 476.7L537.9 462.6L529 463.2Z"/><path color="#5470de" d="M490.2 498.6L499.1 500.4L509.1 488.9L500.2 487.8Z"/><path color="#8badfd" d="M547.8 447.5L556.9 445.6L566.8 428.4L557.8 431.3Z"/><path color="#3d50c3" d="M423.8 522.7L432.5 526.3L442.6 519.5L433.9 516.1Z"/><path color="#3c4ec2" d="M404.9 524.7L413.6 528.6L423.8 522.7L415.1 519Z"/><path color="#4055c8" d="M442.6 519.5L451.3 522.8L461.4 514.9L452.6 511.9Z"/><path color="#3b4cc0" d="M386.1 525.9L394.7 529.9L404.9 524.7L396.3 520.9Z"/><path color="#5f7fe8" d="M509.1 488.9L518 489.9L528 476.7L519 476.5Z"/><path color="#465ecf" d="M461.4 514.9L470.2 517.8L480.2 508.6L471.4 506.2Z"/><path color="#3b4cc0" d="M367.2 526.3L375.9 530.4L386.1 525.9L377.5 521.9Z"/><path color="#7b9ff9" d="M537.9 462.6L546.9 461.7L556.9 445.6L547.8 447.5Z"/><path color="#3b4cc0" d="M348.4 526.3L356.9 530.4L367.2 526.3L358.6 522.3Z"/><path color="#4e68d8" d="M480.2 508.6L489.1 511L499.1 500.4L490.2 498.6Z"/><path color="#b5cdfa" d="M576.8 410.2L585.9 405.7L595.9 385.1L586.7 390.8Z"/><path color="#6f92f3" d="M528 476.7L536.9 476.8L546.9 461.7L537.9 462.6Z"/><path color="#5673e0" d="M499.1 500.4L508 502L518 489.9L509.1 488.9Z"/><path color="#a2c1ff" d="M566.8 428.4L575.9 425.2L585.9 405.7L576.8 410.2Z"/><path color="#3e51c5" d="M432.5 526.3L441.2 530L451.3 522.8L442.6 519.5Z"/><path color="#3c4ec2" d="M413.6 528.6L422.3 532.5L432.5 526.3L423.8 522.7Z"/><path color="#3b4cc0" d="M394.7 529.9L403.4 534L413.6 528.6L404.9 524.7Z"/><path color="#4257c9" d="M451.3 522.8L460.1 526.1L470.2 517.8L461.4 514.9Z"/><path color="#92b4fe" d="M556.9 445.6L565.9 443.5L575.9 425.2L566.8 428.4Z"/><path color="#3b4cc0" d="M375.9 530.4L384.5 534.5L394.7 529.9L386.1 525.9Z"/><path color="#485fd1" d="M470.2 517.8L479.1 520.6L489.1 511L480.2 508.6Z"/><path color="#6384eb" d="M518 489.9L526.9 490.7L536.9 476.8L528 476.7Z"/><path color="#3b4cc0" d="M356.9 530.4L365.6 534.4L375.9 530.4L367.2 526.3Z"/><path color="#4f69d9" d="M489.1 511L498 513.2L508 502L499.1 500.4Z"/><path color="#82a6fb" d="M546.9 461.7L555.9 460.7L565.9 443.5L556.9 445.6Z"/><path color="#5a78e4" d="M508 502L516.9 503.6L526.9 490.7L518 489.9Z"/><path color="#7597f6" d="M536.9 476.8L545.9 476.6L555.9 460.7L546.9 461.7Z"/><path color="#3c4ec2" d="M422.3 532.5L431.1 536.4L441.2 530L432.5 526.3Z"/><path color="#3e51c5" d="M441.2 530L450 533.6L460.1 526.1L451.3 522.8Z"/><path color="#3b4cc0" d="M403.4 534L412.2 538L422.3 532.5L413.6 528.6Z"/><path color="#bfd3f6" d="M585.9 405.7L595.1 400.9L605.2 378.9L595.9 385.1Z"/><path color="#4358cb" d="M460.1 526.1L469 529.4L479.1 520.6L470.2 517.8Z"/><path color="#3b4cc0" d="M384.5 534.5L393.2 538.6L403.4 534L394.7 529.9Z"/><path color="#abc8fd" d="M575.9 425.2L585.1 421.7L595.1 400.9L585.9 405.7Z"/><path color="#4961d2" d="M479.1 520.6L487.9 523.4L498 513.2L489.1 511Z"/><path color="#3b4cc0" d="M365.6 534.4L374.2 538.6L384.5 534.5L375.9 530.4Z"/><path color="#688aef" d="M526.9 490.7L535.9 491.4L545.9 476.6L536.9 476.8Z"/><path color="#9abbff" d="M565.9 443.5L575.1 441.2L585.1 421.7L575.9 425.2Z"/><path color="#516ddb" d="M498 513.2L506.9 515.4L516.9 503.6L508 502Z"/><path color="#89acfd" d="M555.9 460.7L565 459.4L575.1 441.2L565.9 443.5Z"/><path color="#3c4ec2" d="M431.1 536.4L439.9 540.3L450 533.6L441.2 530Z"/><path color="#3f53c6" d="M450 533.6L458.9 537.2L469 529.4L460.1 526.1Z"/><path color="#3b4cc0" d="M412.2 538L420.9 542L431.1 536.4L422.3 532.5Z"/><path color="#5d7ce6" d="M516.9 503.6L525.9 505L535.9 491.4L526.9 490.7Z"/><path color="#445acc" d="M469 529.4L477.9 532.6L487.9 523.4L479.1 520.6Z"/><path color="#3b4cc0" d="M393.2 538.6L401.9 542.8L412.2 538L403.4 534Z"/><path color="#7a9df8" d="M545.9 476.6L555 476.3L565 459.4L555.9 460.7Z"/><path color="#3b4cc0" d="M374.2 538.6L382.9 542.7L393.2 538.6L384.5 534.5Z"/><path color="#4b64d5" d="M487.9 523.4L496.9 526.1L506.9 515.4L498 513.2Z"/><path color="#c9d7f0" d="M595.1 400.9L604.4 395.8L614.5 372.3L605.2 378.9Z"/><path color="#6c8ff1" d="M535.9 491.4L545 492L555 476.3L545.9 476.6Z"/><path color="#b5cdfa" d="M585.1 421.7L594.3 417.8L604.4 395.8L595.1 400.9Z"/><path color="#5470de" d="M506.9 515.4L515.9 517.5L525.9 505L516.9 503.6Z"/><path color="#a2c1ff" d="M575.1 441.2L584.2 438.5L594.3 417.8L585.1 421.7Z"/><path color="#3d50c3" d="M439.9 540.3L448.7 544.1L458.9 537.2L450 533.6Z"/><path color="#3b4cc0" d="M420.9 542L429.7 546.1L439.9 540.3L431.1 536.4Z"/><path color="#4055c8" d="M458.9 537.2L467.7 540.8L477.9 532.6L469 529.4Z"/><path color="#3b4cc0" d="M401.9 542.8L410.7 546.9L420.9 542L412.2 538Z"/><path color="#90b2fe" d="M565 459.4L574.2 457.8L584.2 438.5L575.1 441.2Z"/><path color="#455cce" d="M477.9 532.6L486.8 535.8L496.9 526.1L487.9 523.4Z"/><path color="#6180e9" d="M525.9 505L534.9 506.4L545 492L535.9 491.4Z"/><path color="#3b4cc0" d="M382.9 542.7L391.6 546.8L401.9 542.8L393.2 538.6Z"/><path color="#4c66d6" d="M496.9 526.1L505.8 528.8L515.9 517.5L506.9 515.4Z"/><path color="#80a3fa" d="M555 476.3L564.1 475.8L574.2 457.8L565 459.4Z"/><path color="#5673e0" d="M515.9 517.5L524.9 519.5L534.9 506.4L525.9 505Z"/><path color="#7093f3" d="M545 492L554.1 492.4L564.1 475.8L555 476.3Z"/><path color="#3d50c3" d="M448.7 544.1L457.6 548L467.7 540.8L458.9 537.2Z"/><path color="#3b4cc0" d="M429.7 546.1L438.5 550.1L448.7 544.1L439.9 540.3Z"/><path color="#4055c8" d="M467.7 540.8L476.7 544.4L486.8 535.8L477.9 532.6Z"/><path color="#3b4cc0" d="M410.7 546.9L419.5 551.1L429.7 546.1L420.9 542Z"/><path color="#d3dbe7" d="M604.4 395.8L613.7 390.2L623.9 365.2L614.5 372.3Z"/><path color="#bfd3f6" d="M594.3 417.8L603.6 413.6L613.7 390.2L604.4 395.8Z"/><path color="#465ecf" d="M486.8 535.8L495.7 538.9L505.8 528.8L496.9 526.1Z"/><path color="#3b4cc0" d="M391.6 546.8L400.4 551L410.7 546.9L401.9 542.8Z"/><path color="#abc8fd" d="M584.2 438.5L593.5 435.6L603.6 413.6L594.3 417.8Z"/><path color="#6485ec" d="M534.9 506.4L544 507.6L554.1 492.4L545 492Z"/><path color="#97b8ff" d="M574.2 457.8L583.4 456.1L593.5 435.6L584.2 438.5Z"/><path color="#4f69d9" d="M505.8 528.8L514.8 531.4L524.9 519.5L515.9 517.5Z"/><path color="#86a9fc" d="M564.1 475.8L573.3 475.1L583.4 456.1L574.2 457.8Z"/><path color="#5977e3" d="M524.9 519.5L533.9 521.5L544 507.6L534.9 506.4Z"/><path color="#3d50c3" d="M457.6 548L466.5 551.8L476.7 544.4L467.7 540.8Z"/><path color="#3b4cc0" d="M438.5 550.1L447.4 554.2L457.6 548L448.7 544.1Z"/><path color="#4257c9" d="M476.7 544.4L485.6 547.9L495.7 538.9L486.8 535.8Z"/><path color="#3b4cc0" d="M419.5 551.1L428.3 555.2L438.5 550.1L429.7 546.1Z"/><path color="#7699f6" d="M554.1 492.4L563.2 492.6L573.3 475.1L564.1 475.8Z"/><path color="#3b4cc0" d="M400.4 551L409.2 555.2L419.5 551.1L410.7 546.9Z"/><path color="#485fd1" d="M495.7 538.9L504.7 542.1L514.8 531.4L505.8 528.8Z"/><path color="#688aef" d="M544 507.6L553.1 508.7L563.2 492.6L554.1 492.4Z"/><path color="#506bda" d="M514.8 531.4L523.8 534L533.9 521.5L524.9 519.5Z"/><path color="#c9d7f0" d="M603.6 413.6L612.9 409.1L623.1 384.3L613.7 390.2Z"/><path color="#b3cdfb" d="M593.5 435.6L602.8 432.4L612.9 409.1L603.6 413.6Z"/><path color="#dbdcde" d="M613.7 390.2L623.1 384.3L633.3 357.8L623.9 365.2Z"/><path color="#9fbfff" d="M583.4 456.1L592.6 454.1L602.8 432.4L593.5 435.6Z"/><path color="#3c4ec2" d="M447.4 554.2L456.3 558.3L466.5 551.8L457.6 548Z"/><path color="#3e51c5" d="M466.5 551.8L475.4 555.7L485.6 547.9L476.7 544.4Z"/><path color="#8caffe" d="M573.3 475.1L582.5 474.2L592.6 454.1L583.4 456.1Z"/><path color="#3b4cc0" d="M428.3 555.2L437.2 559.4L447.4 554.2L438.5 550.1Z"/><path color="#5d7ce6" d="M533.9 521.5L543 523.3L553.1 508.7L544 507.6Z"/><path color="#4358cb" d="M485.6 547.9L494.6 551.4L504.7 542.1L495.7 538.9Z"/><path color="#3b4cc0" d="M409.2 555.2L418 559.4L428.3 555.2L419.5 551.1Z"/><path color="#4961d2" d="M504.7 542.1L513.7 545.1L523.8 534L514.8 531.4Z"/><path color="#7b9ff9" d="M563.2 492.6L572.4 492.7L582.5 474.2L573.3 475.1Z"/><path color="#536edd" d="M523.8 534L532.9 536.5L543 523.3L533.9 521.5Z"/><path color="#6c8ff1" d="M553.1 508.7L562.3 509.7L572.4 492.7L563.2 492.6Z"/><path color="#3c4ec2" d="M456.3 558.3L465.2 562.3L475.4 555.7L466.5 551.8Z"/><path color="#3e51c5" d="M475.4 555.7L484.4 559.6L494.6 551.4L485.6 547.9Z"/><path color="#3b4cc0" d="M437.2 559.4L446.1 563.6L456.3 558.3L447.4 554.2Z"/><path color="#bcd2f7" d="M602.8 432.4L612.1 428.9L622.3 404.3L612.9 409.1Z"/><path color="#4358cb" d="M494.6 551.4L503.6 554.9L513.7 545.1L504.7 542.1Z"/><path color="#d2dbe8" d="M612.9 409.1L622.3 404.3L632.6 377.9L623.1 384.3Z"/><path color="#a7c5fe" d="M592.6 454.1L601.9 451.9L612.1 428.9L602.8 432.4Z"/><path color="#3b4cc0" d="M418 559.4L426.9 563.6L437.2 559.4L428.3 555.2Z"/><path color="#5f7fe8" d="M543 523.3L552.2 525.1L562.3 509.7L553.1 508.7Z"/><path color="#e5d8d1" d="M623.1 384.3L632.6 377.9L642.9 349.8L633.3 357.8Z"/><path color="#93b5fe" d="M582.5 474.2L591.8 473.1L601.9 451.9L592.6 454.1Z"/><path color="#4a63d3" d="M513.7 545.1L522.8 548.2L532.9 536.5L523.8 534Z"/><path color="#81a4fb" d="M572.4 492.7L581.6 492.7L591.8 473.1L582.5 474.2Z"/><path color="#5572df" d="M532.9 536.5L542 538.9L552.2 525.1L543 523.3Z"/><path color="#7093f3" d="M562.3 509.7L571.5 510.5L581.6 492.7L572.4 492.7Z"/><path color="#3c4ec2" d="M465.2 562.3L474.2 566.4L484.4 559.6L475.4 555.7Z"/><path color="#3f53c6" d="M484.4 559.6L493.4 563.4L503.6 554.9L494.6 551.4Z"/><path color="#3b4cc0" d="M446.1 563.6L455 567.8L465.2 562.3L456.3 558.3Z"/><path color="#445acc" d="M503.6 554.9L512.7 558.4L522.8 548.2L513.7 545.1Z"/><path color="#3b4cc0" d="M426.9 563.6L435.8 567.8L446.1 563.6L437.2 559.4Z"/><path color="#6282ea" d="M552.2 525.1L561.4 526.8L571.5 510.5L562.3 509.7Z"/><path color="#4c66d6" d="M522.8 548.2L531.9 551.2L542 538.9L532.9 536.5Z"/><path color="#afcafc" d="M601.9 451.9L611.3 449.4L621.5 425.2L612.1 428.9Z"/><path color="#c5d6f2" d="M612.1 428.9L621.5 425.2L631.8 399.1L622.3 404.3Z"/><path color="#9abbff" d="M591.8 473.1L601.1 471.9L611.3 449.4L601.9 451.9Z"/><path color="#dadce0" d="M622.3 404.3L631.8 399.1L642.1 371.2L632.6 377.9Z"/><path color="#86a9fc" d="M581.6 492.7L590.9 492.5L601.1 471.9L591.8 473.1Z"/><path color="#edd2c3" d="M632.6 377.9L642.1 371.2L652.5 341.4L642.9 349.8Z"/><path color="#5673e0" d="M542 538.9L551.2 541.3L561.4 526.8L552.2 525.1Z"/><path color="#3c4ec2" d="M474.2 566.4L483.2 570.5L493.4 563.4L484.4 559.6Z"/><path color="#3b4cc0" d="M455 567.8L464 572L474.2 566.4L465.2 562.3Z"/><path color="#3f53c6" d="M493.4 563.4L502.5 567.2L512.7 558.4L503.6 554.9Z"/><path color="#7597f6" d="M571.5 510.5L580.7 511.3L590.9 492.5L581.6 492.7Z"/><path color="#3b4cc0" d="M435.8 567.8L444.7 572.1L455 567.8L446.1 563.6Z"/><path color="#455cce" d="M512.7 558.4L521.8 561.9L531.9 551.2L522.8 548.2Z"/><path color="#6687ed" d="M561.4 526.8L570.6 528.3L580.7 511.3L571.5 510.5Z"/><path color="#4e68d8" d="M531.9 551.2L541.1 554.2L551.2 541.3L542 538.9Z"/><path color="#b7cff9" d="M611.3 449.4L620.7 446.8L631 421.2L621.5 425.2Z"/><path color="#a1c0ff" d="M601.1 471.9L610.5 470.4L620.7 446.8L611.3 449.4Z"/><path color="#3c4ec2" d="M483.2 570.5L492.3 574.6L502.5 567.2L493.4 563.4Z"/><path color="#5977e3" d="M551.2 541.3L560.4 543.6L570.6 528.3L561.4 526.8Z"/><path color="#3b4cc0" d="M464 572L473 576.2L483.2 570.5L474.2 566.4Z"/><path color="#cdd9ec" d="M621.5 425.2L631 421.2L641.3 393.6L631.8 399.1Z"/><path color="#4055c8" d="M502.5 567.2L511.6 571.1L521.8 561.9L512.7 558.4Z"/><path color="#8caffe" d="M590.9 492.5L600.2 492.1L610.5 470.4L601.1 471.9Z"/><path color="#3b4cc0" d="M444.7 572.1L453.7 576.3L464 572L455 567.8Z"/><path color="#e2dad5" d="M631.8 399.1L641.3 393.6L651.7 364.1L642.1 371.2Z"/><path color="#465ecf" d="M521.8 561.9L530.9 565.4L541.1 554.2L531.9 551.2Z"/><path color="#7a9df8" d="M580.7 511.3L590 512L600.2 492.1L590.9 492.5Z"/><path color="#f2c9b4" d="M642.1 371.2L651.7 364.1L662.2 332.5L652.5 341.4Z"/><path color="#4f69d9" d="M541.1 554.2L550.3 557.1L560.4 543.6L551.2 541.3Z"/><path color="#6a8bef" d="M570.6 528.3L579.8 529.9L590 512L580.7 511.3Z"/><path color="#3d50c3" d="M492.3 574.6L501.4 578.7L511.6 571.1L502.5 567.2Z"/><path color="#3b4cc0" d="M473 576.2L482 580.5L492.3 574.6L483.2 570.5Z"/><path color="#4055c8" d="M511.6 571.1L520.7 574.9L530.9 565.4L521.8 561.9Z"/><path color="#5b7ae5" d="M560.4 543.6L569.7 545.9L579.8 529.9L570.6 528.3Z"/><path color="#3b4cc0" d="M453.7 576.3L462.7 580.6L473 576.2L464 572Z"/><path color="#485fd1" d="M530.9 565.4L540.1 568.8L550.3 557.1L541.1 554.2Z"/><path color="#a9c6fd" d="M610.5 470.4L619.9 468.8L630.2 443.8L620.7 446.8Z"/><path color="#bfd3f6" d="M620.7 446.8L630.2 443.8L640.5 416.8L631 421.2Z"/><path color="#92b4fe" d="M600.2 492.1L609.6 491.6L619.9 468.8L610.5 470.4Z"/><path color="#d6dce4" d="M631 421.2L640.5 416.8L650.9 387.8L641.3 393.6Z"/><path color="#7ea1fa" d="M590 512L599.4 512.5L609.6 491.6L600.2 492.1Z"/><path color="#516ddb" d="M550.3 557.1L559.5 560L569.7 545.9L560.4 543.6Z"/><path color="#ead4c8" d="M641.3 393.6L650.9 387.8L661.4 356.5L651.7 364.1Z"/><path color="#6c8ff1" d="M579.8 529.9L589.2 531.3L599.4 512.5L590 512Z"/><path color="#3d50c3" d="M501.4 578.7L510.5 582.8L520.7 574.9L511.6 571.1Z"/><path color="#3b4cc0" d="M482 580.5L491.1 584.7L501.4 578.7L492.3 574.6Z"/><path color="#4257c9" d="M520.7 574.9L529.9 578.8L540.1 568.8L530.9 565.4Z"/><path color="#3b4cc0" d="M462.7 580.6L471.7 584.9L482 580.5L473 576.2Z"/><path color="#f6bea4" d="M651.7 364.1L661.4 356.5L671.9 323.2L662.2 332.5Z"/><path color="#5e7de7" d="M569.7 545.9L579 548.1L589.2 531.3L579.8 529.9Z"/><path color="#4961d2" d="M540.1 568.8L549.3 572.2L559.5 560L550.3 557.1Z"/><path color="#98b9ff" d="M609.6 491.6L619.1 491L629.4 466.9L619.9 468.8Z"/><path color="#afcafc" d="M619.9 468.8L629.4 466.9L639.7 440.7L630.2 443.8Z"/><path color="#536edd" d="M559.5 560L568.8 562.9L579 548.1L569.7 545.9Z"/><path color="#84a7fc" d="M599.4 512.5L608.8 512.9L619.1 491L609.6 491.6Z"/><path color="#c7d7f0" d="M630.2 443.8L639.7 440.7L650.1 412.2L640.5 416.8Z"/><path color="#3d50c3" d="M510.5 582.8L519.7 586.9L529.9 578.8L520.7 574.9Z"/><path color="#3b4cc0" d="M491.1 584.7L500.2 589L510.5 582.8L501.4 578.7Z"/><path color="#7093f3" d="M589.2 531.3L598.5 532.6L608.8 512.9L599.4 512.5Z"/><path color="#dedcdb" d="M640.5 416.8L650.1 412.2L660.6 381.6L650.9 387.8Z"/><path color="#3b4cc0" d="M471.7 584.9L480.8 589.2L491.1 584.7L482 580.5Z"/><path color="#4257c9" d="M529.9 578.8L539.1 582.6L549.3 572.2L540.1 568.8Z"/><path color="#6180e9" d="M579 548.1L588.3 550.2L598.5 532.6L589.2 531.3Z"/><path color="#f1cdba" d="M650.9 387.8L660.6 381.6L671.1 348.6L661.4 356.5Z"/><path color="#4a63d3" d="M549.3 572.2L558.5 575.6L568.8 562.9L559.5 560Z"/><path color="#5572df" d="M568.8 562.9L578.1 565.7L588.3 550.2L579 548.1Z"/><path color="#f7b093" d="M661.4 356.5L671.1 348.6L681.7 313.4L671.9 323.2Z"/><path color="#9fbfff" d="M619.1 491L628.5 490.2L638.9 464.9L629.4 466.9Z"/><path color="#3b4cc0" d="M500.2 589L509.4 593.3L519.7 586.9L510.5 582.8Z"/><path color="#3d50c3" d="M519.7 586.9L528.9 591L539.1 582.6L529.9 578.8Z"/><path color="#88abfd" d="M608.8 512.9L618.2 513.2L628.5 490.2L619.1 491Z"/><path color="#b7cff9" d="M629.4 466.9L638.9 464.9L649.3 437.3L639.7 440.7Z"/><path color="#3b4cc0" d="M480.8 589.2L490 593.5L500.2 589L491.1 584.7Z"/><path color="#4358cb" d="M539.1 582.6L548.3 586.4L558.5 575.6L549.3 572.2Z"/><path color="#7597f6" d="M598.5 532.6L607.9 533.9L618.2 513.2L608.8 512.9Z"/><path color="#cfdaea" d="M639.7 440.7L649.3 437.3L659.8 407.3L650.1 412.2Z"/><path color="#4b64d5" d="M558.5 575.6L567.8 579L578.1 565.7L568.8 562.9Z"/><path color="#6485ec" d="M588.3 550.2L597.7 552.3L607.9 533.9L598.5 532.6Z"/><path color="#e6d7cf" d="M650.1 412.2L659.8 407.3L670.3 375L660.6 381.6Z"/><path color="#5673e0" d="M578.1 565.7L587.4 568.5L597.7 552.3L588.3 550.2Z"/><path color="#f5c2aa" d="M660.6 381.6L670.3 375L681 340.3L671.1 348.6Z"/><path color="#3b4cc0" d="M509.4 593.3L518.6 597.6L528.9 591L519.7 586.9Z"/><path color="#3e51c5" d="M528.9 591L538.1 595.2L548.3 586.4L539.1 582.6Z"/><path color="#3b4cc0" d="M490 593.5L499.1 597.9L509.4 593.3L500.2 589Z"/><path color="#4358cb" d="M548.3 586.4L557.6 590.2L567.8 579L558.5 575.6Z"/><path color="#8db0fe" d="M618.2 513.2L627.7 513.3L638.1 489.2L628.5 490.2Z"/><path color="#a5c3fe" d="M628.5 490.2L638.1 489.2L648.5 462.7L638.9 464.9Z"/><path color="#799cf8" d="M607.9 533.9L617.4 535L627.7 513.3L618.2 513.2Z"/><path color="#bfd3f6" d="M638.9 464.9L648.5 462.7L659 433.7L649.3 437.3Z"/><path color="#4c66d6" d="M567.8 579L577.2 582.4L587.4 568.5L578.1 565.7Z"/><path color="#f5a081" d="M671.1 348.6L681 340.3L691.7 303.1L681.7 313.4Z"/><path color="#6788ee" d="M597.7 552.3L607.1 554.3L617.4 535L607.9 533.9Z"/><path color="#d7dce3" d="M649.3 437.3L659 433.7L669.5 402.1L659.8 407.3Z"/><path color="#3b4cc0" d="M518.6 597.6L527.8 601.9L538.1 595.2L528.9 591Z"/><path color="#3e51c5" d="M538.1 595.2L547.4 599.3L557.6 590.2L548.3 586.4Z"/><path color="#5977e3" d="M587.4 568.5L596.8 571.2L607.1 554.3L597.7 552.3Z"/><path color="#edd2c3" d="M659.8 407.3L669.5 402.1L680.2 368.1L670.3 375Z"/><path color="#3b4cc0" d="M499.1 597.9L508.3 602.3L518.6 597.6L509.4 593.3Z"/><path color="#445acc" d="M557.6 590.2L566.9 594L577.2 582.4L567.8 579Z"/><path color="#93b5fe" d="M627.7 513.3L637.3 513.4L647.7 488.1L638.1 489.2Z"/><path color="#abc8fd" d="M638.1 489.2L647.7 488.1L658.2 460.3L648.5 462.7Z"/><path color="#7da0f9" d="M617.4 535L626.9 536.1L637.3 513.4L627.7 513.3Z"/><path color="#4e68d8" d="M577.2 582.4L586.6 585.7L596.8 571.2L587.4 568.5Z"/><path color="#f7b79b" d="M670.3 375L680.2 368.1L690.9 331.5L681 340.3Z"/><path color="#c6d6f1" d="M648.5 462.7L658.2 460.3L668.7 429.8L659 433.7Z"/><path color="#6a8bef" d="M607.1 554.3L616.6 556.3L626.9 536.1L617.4 535Z"/><path color="#3b4cc0" d="M527.8 601.9L537.1 606.2L547.4 599.3L538.1 595.2Z"/><path color="#3e51c5" d="M547.4 599.3L556.7 603.4L566.9 594L557.6 590.2Z"/><path color="#3b4cc0" d="M508.3 602.3L517.6 606.6L527.8 601.9L518.6 597.6Z"/><path color="#dedcdb" d="M659 433.7L668.7 429.8L679.3 396.6L669.5 402.1Z"/><path color="#5a78e4" d="M596.8 571.2L606.3 573.9L616.6 556.3L607.1 554.3Z"/><path color="#455cce" d="M566.9 594L576.3 597.8L586.6 585.7L577.2 582.4Z"/><path color="#f18f71" d="M681 340.3L690.9 331.5L701.7 292.3L691.7 303.1Z"/><path color="#f2cab5" d="M669.5 402.1L679.3 396.6L690 360.8L680.2 368.1Z"/><path color="#4f69d9" d="M586.6 585.7L596 589L606.3 573.9L596.8 571.2Z"/><path color="#98b9ff" d="M637.3 513.4L646.9 513.3L657.3 486.8L647.7 488.1Z"/><path color="#81a4fb" d="M626.9 536.1L636.4 537.1L646.9 513.3L637.3 513.4Z"/><path color="#b2ccfb" d="M647.7 488.1L657.3 486.8L667.9 457.6L658.2 460.3Z"/><path color="#6c8ff1" d="M616.6 556.3L626.1 558.2L636.4 537.1L626.9 536.1Z"/><path color="#3c4ec2" d="M537.1 606.2L546.4 610.6L556.7 603.4L547.4 599.3Z"/><path color="#3f53c6" d="M556.7 603.4L566.1 607.6L576.3 597.8L566.9 594Z"/><path color="#3b4cc0" d="M517.6 606.6L526.8 611L537.1 606.2L527.8 601.9Z"/><path color="#cdd9ec" d="M658.2 460.3L667.9 457.6L678.5 425.6L668.7 429.8Z"/><path color="#5d7ce6" d="M606.3 573.9L615.8 576.6L626.1 558.2L616.6 556.3Z"/><path color="#f7a98b" d="M680.2 368.1L690 360.8L700.8 322.3L690.9 331.5Z"/><path color="#455cce" d="M576.3 597.8L585.7 601.7L596 589L586.6 585.7Z"/><path color="#e6d7cf" d="M668.7 429.8L678.5 425.6L689.2 390.8L679.3 396.6Z"/><path color="#506bda" d="M596 589L605.5 592.4L615.8 576.6L606.3 573.9Z"/><path color="#3c4ec2" d="M546.4 610.6L555.8 614.9L566.1 607.6L556.7 603.4Z"/><path color="#85a8fc" d="M636.4 537.1L646 538L656.5 513.1L646.9 513.3Z"/><path color="#9ebeff" d="M646.9 513.3L656.5 513.1L667 485.4L657.3 486.8Z"/><path color="#ea7b60" d="M690.9 331.5L700.8 322.3L711.8 281L701.7 292.3Z"/><path color="#3f53c6" d="M566.1 607.6L575.5 611.7L585.7 601.7L576.3 597.8Z"/><path color="#3b4cc0" d="M526.8 611L536.2 615.5L546.4 610.6L537.1 606.2Z"/><path color="#7093f3" d="M626.1 558.2L635.6 560L646 538L636.4 537.1Z"/><path color="#f5c0a7" d="M679.3 396.6L689.2 390.8L700 353.2L690 360.8Z"/><path color="#bad0f8" d="M657.3 486.8L667 485.4L677.6 454.8L667.9 457.6Z"/><path color="#465ecf" d="M585.7 601.7L595.2 605.5L605.5 592.4L596 589Z"/><path color="#5f7fe8" d="M615.8 576.6L625.3 579.2L635.6 560L626.1 558.2Z"/><path color="#d4dbe6" d="M667.9 457.6L677.6 454.8L688.3 421.2L678.5 425.6Z"/><path color="#516ddb" d="M605.5 592.4L615 595.6L625.3 579.2L615.8 576.6Z"/><path color="#f49a7b" d="M690 360.8L700 353.2L710.9 312.6L700.8 322.3Z"/><path color="#3c4ec2" d="M555.8 614.9L565.2 619.3L575.5 611.7L566.1 607.6Z"/><path color="#3b4cc0" d="M536.2 615.5L545.5 619.9L555.8 614.9L546.4 610.6Z"/><path color="#3f53c6" d="M575.5 611.7L584.9 615.9L595.2 605.5L585.7 601.7Z"/><path color="#ecd3c5" d="M678.5 425.6L688.3 421.2L699.1 384.7L689.2 390.8Z"/><path color="#8badfd" d="M646 538L655.7 538.8L666.2 512.8L656.5 513.1Z"/><path color="#7396f5" d="M635.6 560L645.3 561.8L655.7 538.8L646 538Z"/><path color="#a5c3fe" d="M656.5 513.1L666.2 512.8L676.8 483.8L667 485.4Z"/><path color="#485fd1" d="M595.2 605.5L604.7 609.3L615 595.6L605.5 592.4Z"/><path color="#6282ea" d="M625.3 579.2L634.9 581.8L645.3 561.8L635.6 560Z"/><path color="#c0d4f5" d="M667 485.4L676.8 483.8L687.5 451.8L677.6 454.8Z"/><path color="#f7b599" d="M689.2 390.8L699.1 384.7L710 345.2L700 353.2Z"/><path color="#e0654f" d="M700.8 322.3L710.9 312.6L721.9 269.1L711.8 281Z"/><path color="#536edd" d="M615 595.6L624.5 598.9L634.9 581.8L625.3 579.2Z"/><path color="#3c4ec2" d="M565.2 619.3L574.6 623.7L584.9 615.9L575.5 611.7Z"/><path color="#dbdcde" d="M677.6 454.8L687.5 451.8L698.3 416.6L688.3 421.2Z"/><path color="#3b4cc0" d="M545.5 619.9L554.9 624.4L565.2 619.3L555.8 614.9Z"/><path color="#4055c8" d="M584.9 615.9L594.4 620.1L604.7 609.3L595.2 605.5Z"/><path color="#8db0fe" d="M655.7 538.8L660.5 539.2L671.1 512.6L666.2 512.8Z"/><path color="#7699f6" d="M645.3 561.8L650.1 562.7L660.5 539.2L655.7 538.8Z"/><path color="#a9c6fd" d="M666.2 512.8L671.1 512.6L681.7 482.9L676.8 483.8Z"/><path color="#6384eb" d="M634.9 581.8L639.7 583.1L650.1 562.7L645.3 561.8Z"/><path color="#485fd1" d="M604.7 609.3L614.2 613L624.5 598.9L615 595.6Z"/><path color="#c5d6f2" d="M676.8 483.8L681.7 482.9L692.4 450.2L687.5 451.8Z"/><path color="#f08a6c" d="M700 353.2L710 345.2L721.1 302.6L710.9 312.6Z"/><path color="#f1ccb8" d="M688.3 421.2L698.3 416.6L709.1 378.3L699.1 384.7Z"/><path color="#5470de" d="M624.5 598.9L629.3 600.5L639.7 583.1L634.9 581.8Z"/><path color="#3c4ec2" d="M574.6 623.7L584.1 628.1L594.4 620.1L584.9 615.9Z"/><path color="#3b4cc0" d="M554.9 624.4L564.3 628.8L574.6 623.7L565.2 619.3Z"/><path color="#e0dbd8" d="M687.5 451.8L692.4 450.2L703.2 414.2L698.3 416.6Z"/><path color="#4055c8" d="M594.4 620.1L603.9 624.3L614.2 613L604.7 609.3Z"/><path color="#4961d2" d="M614.2 613L619 614.9L629.3 600.5L624.5 598.9Z"/><path color="#f7a98b" d="M699.1 384.7L709.1 378.3L720.1 336.8L710 345.2Z"/><path color="#d24b40" d="M710.9 312.6L721.1 302.6L732.2 256.8L721.9 269.1Z"/><path color="#f4c6af" d="M698.3 416.6L703.2 414.2L714.2 375L709.1 378.3Z"/><path color="#4055c8" d="M603.9 624.3L608.7 626.3L619 614.9L614.2 613Z"/><path color="#3c4ec2" d="M584.1 628.1L593.6 632.5L603.9 624.3L594.4 620.1Z"/><path color="#3b4cc0" d="M564.3 628.8L573.8 633.3L584.1 628.1L574.6 623.7Z"/><path color="#e8765c" d="M710 345.2L720.1 336.8L731.3 292.1L721.1 302.6Z"/><path color="#f59f80" d="M709.1 378.3L714.2 375L725.2 332.5L720.1 336.8Z"/><path color="#3c4ec2" d="M593.6 632.5L598.4 634.7L608.7 626.3L603.9 624.3Z"/><path color="#3b4cc0" d="M573.8 633.3L583.3 637.8L593.6 632.5L584.1 628.1Z"/><path color="#c12b30" d="M721.1 302.6L731.3 292.1L742.6 244L732.2 256.8Z"/><path color="#e16751" d="M720.1 336.8L725.2 332.5L736.4 286.6L731.3 292.1Z"/><path color="#3b4cc0" d="M583.3 637.8L588.1 640.1L598.4 634.7L593.6 632.5Z"/><path color="#b40426" d="M731.3 292.1L736.4 286.6L747.8 237.4L742.6 244Z"/></g></g><g id="patch_6"><path d="M980.86 733.57L1716.35 733.57L1716.35 -1.92L980.86 -1.92z" style="fill: #ffffff"/></g><g id="pane3d_4"><g id="patch_7"><path d="M1068.47 463.61L1239.31 392.13L1234.87 74.31L1057.24 136.01" style="fill: #f2f2f2; opacity: 0.5; stroke: #f2f2f2; stroke-linejoin: miter"/></g></g><g id="pane3d_5"><g id="patch_8"><path d="M1239.31 392.13L1665.93 580.2L1678.58 237.04L1234.87 74.31" style="fill: #e6e6e6; opacity: 0.5; stroke: #e6e6e6; stroke-linejoin: miter"/></g></g><g id="pane3d_6"><g id="patch_9"><path d="M1068.47 463.61L1495.19 667L1665.93 580.2L1239.31 392.13" style="fill: #ececec; opacity: 0.5; stroke: #ececec; stroke-linejoin: miter"/></g></g><g id="axis3d_4"><g id="line2d_19"><path d="M1068.47 463.61L1495.19 667" style="fill: none; stroke: #333333; stroke-width: 1.75; stroke-linecap: square"/></g><g id="xtick_16"><g id="line2d_20"><path d="M1096.67 474.54L1090.63 477.1" style="fill: none; stroke: #333333; stroke-width: 2; stroke-linecap: square"/></g><g id="text_19"><text style="font-size: 30px; font-family: 'DejaVu Sans', sans-serif; text-anchor: middle; fill: #333333" x="1076.14" y="534.35" >0</text></g></g><g id="xtick_17"><g id="line2d_21"><path d="M1164.73 506.94L1158.69 509.58" style="fill: none; stroke: #333333; stroke-width: 2; stroke-linecap: square"/></g><g id="text_20"><text style="font-size: 30px; font-family: 'DejaVu Sans', sans-serif; text-anchor: middle; fill: #333333" x="1143.95" y="567.41" >100</text></g></g><g id="xtick_18"><g id="line2d_22"><path d="M1235.08 540.43L1229.03 543.16" style="fill: none; stroke: #333333; stroke-width: 2; stroke-linecap: square"/></g><g id="text_21"><text style="font-size: 30px; font-family: 'DejaVu Sans', sans-serif; text-anchor: middle; fill: #333333" x="1214.03" y="601.57" >200</text></g></g><g id="xtick_19"><g id="line2d_23"><path d="M1307.83 575.07L1301.78 577.89" style="fill: none; stroke: #333333; stroke-width: 2; stroke-linecap: square"/></g><g id="text_22"><text style="font-size: 30px; font-family: 'DejaVu Sans', sans-serif; text-anchor: middle; fill: #333333" x="1286.51" y="636.9" >300</text></g></g><g id="xtick_20"><g id="line2d_24"><path d="M1383.11 610.9L1377.06 613.82" style="fill: none; stroke: #333333; stroke-width: 2; stroke-linecap: square"/></g><g id="text_23"><text style="font-size: 30px; font-family: 'DejaVu Sans', sans-serif; text-anchor: middle; fill: #333333" x="1361.5" y="673.46" >400</text></g></g><g id="xtick_21"><g id="line2d_25"><path d="M1461.05 648L1454.99 651.03" style="fill: none; stroke: #333333; stroke-width: 2; stroke-linecap: square"/></g><g id="text_24"><text style="font-size: 30px; font-family: 'DejaVu Sans', sans-serif; text-anchor: middle; fill: #333333" x="1439.15" y="711.3" >500</text></g></g><g id="text_25"><g style="fill: #333333" transform="translate(1220.83 659.23)"><text><tspan x="0" y="-0.12" style="font-style: oblique; font-size: 30px; font-family: 'DejaVu Sans', sans-serif; fill: #333333">X</tspan></text></g></g></g><g id="axis3d_5"><g id="line2d_26"><path d="M1665.93 580.2L1495.19 667" style="fill: none; stroke: #333333; stroke-width: 1.75; stroke-linecap: square"/></g><g id="xtick_22"><g id="line2d_27"><path d="M1507.28 656.91L1519.38 662.64" style="fill: none; stroke: #333333; stroke-width: 2; stroke-linecap: square"/></g><g id="text_26"><text style="font-size: 30px; font-family: 'DejaVu Sans', sans-serif; text-anchor: middle; fill: #333333" x="1556.47" y="735.2" >0</text></g></g><g id="xtick_23"><g id="line2d_28"><path d="M1554.89 632.75L1566.98 638.35" style="fill: none; stroke: #333333; stroke-width: 2; stroke-linecap: square"/></g><g id="text_27"><text style="font-size: 30px; font-family: 'DejaVu Sans', sans-serif; text-anchor: middle; fill: #333333" x="1603.85" y="710.23" >10</text></g></g><g id="xtick_24"><g id="line2d_29"><path d="M1601.44 609.12L1613.52 614.6" style="fill: none; stroke: #333333; stroke-width: 2; stroke-linecap: square"/></g><g id="text_28"><text style="font-size: 30px; font-family: 'DejaVu Sans', sans-serif; text-anchor: middle; fill: #333333" x="1650.17" y="685.82" >20</text></g></g><g id="xtick_25"><g id="line2d_30"><path d="M1646.96 586.02L1659.03 591.38" style="fill: none; stroke: #333333; stroke-width: 2; stroke-linecap: square"/></g><g id="text_29"><text style="font-size: 30px; font-family: 'DejaVu Sans', sans-serif; text-anchor: middle; fill: #333333" x="1695.46" y="661.96" >30</text></g></g><g id="text_30"><g style="fill: #333333" transform="translate(1666.91 741.95)"><text><tspan x="0" y="-0.12" style="font-style: oblique; font-size: 30px; font-family: 'DejaVu Sans', sans-serif; fill: #333333">Y</tspan></text></g></g></g><g id="axis3d_6"><g id="line2d_31"><path d="M1068.47 463.61L1057.24 136.01" style="fill: none; stroke: #333333; stroke-width: 1.75; stroke-linecap: square"/></g><g id="xtick_26"><g id="line2d_32"><path d="M1060.78 453.74L1072.22 459.18" style="fill: none; stroke: #333333; stroke-width: 2; stroke-linecap: square"/></g><g id="text_31"><text style="font-size: 30px; font-family: 'DejaVu Sans', sans-serif; text-anchor: middle; fill: #333333" x="1012.6" y="468.26" >0.0</text></g></g><g id="xtick_27"><g id="line2d_33"><path d="M1059.39 414.15L1070.88 419.5" style="fill: none; stroke: #333333; stroke-width: 2; stroke-linecap: square"/></g><g id="text_32"><text style="font-size: 30px; font-family: 'DejaVu Sans', sans-serif; text-anchor: middle; fill: #333333" x="1010.99" y="428.79" >2.5</text></g></g><g id="xtick_28"><g id="line2d_34"><path d="M1057.99 374.19L1069.52 379.45" style="fill: none; stroke: #333333; stroke-width: 2; stroke-linecap: square"/></g><g id="text_33"><text style="font-size: 30px; font-family: 'DejaVu Sans', sans-serif; text-anchor: middle; fill: #333333" x="1009.36" y="388.94" >5.0</text></g></g><g id="xtick_29"><g id="line2d_35"><path d="M1056.57 333.85L1068.16 339.02" style="fill: none; stroke: #333333; stroke-width: 2; stroke-linecap: square"/></g><g id="text_34"><text style="font-size: 30px; font-family: 'DejaVu Sans', sans-serif; text-anchor: middle; fill: #333333" x="1007.72" y="348.72" >7.5</text></g></g><g id="xtick_30"><g id="line2d_36"><path d="M1055.14 293.12L1066.78 298.2" style="fill: none; stroke: #333333; stroke-width: 2; stroke-linecap: square"/></g><g id="text_35"><text style="font-size: 30px; font-family: 'DejaVu Sans', sans-serif; text-anchor: middle; fill: #333333" x="1006.06" y="308.12" >10.0</text></g></g><g id="xtick_31"><g id="line2d_37"><path d="M1053.69 252.01L1065.38 257" style="fill: none; stroke: #333333; stroke-width: 2; stroke-linecap: square"/></g><g id="text_36"><text style="font-size: 30px; font-family: 'DejaVu Sans', sans-serif; text-anchor: middle; fill: #333333" x="1004.39" y="267.13" >12.5</text></g></g><g id="xtick_32"><g id="line2d_38"><path d="M1052.23 210.51L1063.97 215.4" style="fill: none; stroke: #333333; stroke-width: 2; stroke-linecap: square"/></g><g id="text_37"><text style="font-size: 30px; font-family: 'DejaVu Sans', sans-serif; text-anchor: middle; fill: #333333" x="1002.7" y="225.76" >15.0</text></g></g><g id="xtick_33"><g id="line2d_39"><path d="M1050.76 168.6L1062.55 173.4" style="fill: none; stroke: #333333; stroke-width: 2; stroke-linecap: square"/></g><g id="text_38"><text style="font-size: 30px; font-family: 'DejaVu Sans', sans-serif; text-anchor: middle; fill: #333333" x="1001" y="183.98" >17.5</text></g></g><g id="text_39"><g style="fill: #333333" transform="translate(935.31 289.04)"><text><tspan x="0" y="-0.12" style="font-style: oblique; font-size: 30px; font-family: 'DejaVu Sans', sans-serif; fill: #333333">E</tspan></text></g></g></g><g id="axes_2"><g class="s" id="Poly3DCollection_2"><path color="#5977e3" d="M1258.6 234.2L1261.6 252.7L1263.1 267.6L1264.8 294.2L1266.6 337.4L1267.4 281.9L1276.4 256.1L1275.2 274.3L1274.3 324L1271 262.2L1268 236.5Z"/><path color="#5673e0" d="M1249.3 232.8L1252.2 247.1L1253.7 256.9L1255.3 270.5L1256.9 293.4L1259.7 419.8L1267.4 281.9L1266.6 337.4L1264.8 294.2L1263.1 267.6L1260.1 242.3L1258.6 234.2Z"/><path color="#b9d0f9" d="M1250 204.6L1254.3 216.8L1258.6 234.2L1268 236.5L1263.6 215.8L1259.3 202.3Z"/><path color="#dadce0" d="M1241.6 187L1245.8 195L1250 204.6L1259.3 202.3L1255.1 191.9L1250.9 183.5Z"/><path color="#6e90f2" d="M1239.9 232.1L1244.3 250.6L1247.3 271.4L1259.7 419.8L1256.9 293.4L1255.3 270.5L1252.2 247.1L1249.3 232.8Z"/><path color="#7093f3" d="M1259.7 419.8L1259.7 294.5L1260.8 272.8L1263.3 251.6L1266 239.5L1275.2 227.7L1271.2 243.4L1268.6 263.1Z"/><path color="#536edd" d="M1248.9 289.3L1250.8 329.9L1252 317.6L1253 286.7L1255.5 261.7L1256.8 254.3L1266 239.5L1263.3 251.6L1262 260.3L1260.8 272.8L1259.7 294.5L1259.7 419.8Z"/><path color="#9abbff" d="M1267.4 281.9L1268.6 263.1L1269.9 251.7L1271.2 243.4L1273.8 231.9L1275.2 227.7L1284.4 217.5L1281.7 225.4L1279 236.8L1276.4 256.1Z"/><path color="#bed2f6" d="M1240.7 207L1245 218L1249.3 232.8L1258.6 234.2L1254.3 216.8L1250 204.6Z"/><path color="#dadce0" d="M1232.3 190.5L1240.7 207L1250 204.6L1245.8 195L1241.6 187Z"/><path color="#465ecf" d="M1239.3 270.6L1240.9 284L1242.5 306.3L1245.2 404.3L1245.3 310.2L1246.4 287.7L1247.6 275L1256.8 254.3L1254.2 271.6L1253 286.7L1252 317.6L1250.8 329.9L1248.9 289.3Z"/><path color="#3b4cc0" d="M1229.7 261.1L1232.7 278.8L1234.3 292.5L1236 315.4L1239.1 434.6L1238.8 316.6L1247.6 275L1246.4 287.7L1245.3 310.2L1245.2 404.3L1242.5 306.3L1240.9 284L1239.3 270.6Z"/><path color="#dbdcde" d="M1222.9 194.1L1231.4 209.4L1240.7 207L1232.3 190.5Z"/><path color="#c1d4f4" d="M1231.4 209.4L1235.6 219.3L1239.9 232.1L1249.3 232.8L1245 218L1240.7 207Z"/><path color="#93b5fe" d="M1230.5 231.9L1233.4 241.1L1236.3 253.1L1239.3 270.6L1248.9 289.3L1245.8 259.5L1242.8 243.4L1239.9 232.1Z"/><path color="#dcdddd" d="M1213.5 197.7L1222 211.9L1231.4 209.4L1222.9 194.1Z"/><path color="#c6d6f1" d="M1222 211.9L1226.2 220.8L1230.5 231.9L1239.9 232.1L1235.6 219.3L1231.4 209.4Z"/><path color="#cfdaea" d="M1275.2 227.7L1279.2 218L1283.4 211.2L1292.6 203L1288.5 209.1L1284.4 217.5Z"/><path color="#5875e1" d="M1220.2 255.4L1223.1 266.9L1226.1 283.2L1229.3 313.5L1238.8 316.6L1239.1 434.6L1236 315.4L1234.3 292.5L1232.7 278.8L1229.7 261.1Z"/><path color="#c5d6f2" d="M1266 239.5L1270 228L1274.1 220.3L1283.4 211.2L1279.2 218L1275.2 227.7Z"/><path color="#a3c2fe" d="M1221 232L1225.3 244.1L1229.7 261.1L1239.3 270.6L1236.3 253.1L1233.4 241.1L1230.5 231.9Z"/><path color="#dcdddd" d="M1204.1 201.2L1212.5 214.5L1222 211.9L1213.5 197.7Z"/><path color="#cad8ef" d="M1212.5 214.5L1216.8 222.5L1221 232L1230.5 231.9L1226.2 220.8L1222 211.9Z"/><path color="#b9d0f9" d="M1256.8 254.3L1260.8 239.6L1264.8 230.4L1274.1 220.3L1270 228L1266 239.5Z"/><path color="#5d7ce6" d="M1229.3 313.5L1231.3 356.2L1232.4 339.5L1233.4 309.6L1235.8 284.8L1237.1 277.4L1246.3 257L1243.6 266.8L1241.1 282.3L1239.9 294.8L1238.8 316.6Z"/><path color="#3f53c6" d="M1219.4 283.8L1222.5 305.3L1224.1 324.4L1226.3 372.5L1228.2 317.3L1237.1 277.4L1234.5 294.7L1233.4 309.6L1232.4 339.5L1231.3 356.2L1229.3 313.5Z"/><path color="#a6c4fe" d="M1247.6 275L1250.2 259.3L1254.2 245.6L1255.5 242.3L1264.8 230.4L1260.8 239.6L1256.8 254.3Z"/><path color="#e4d9d2" d="M1283.4 211.2L1290.3 203.5L1301 194.8Z"/><path color="#dddcdc" d="M1194.6 204.9L1203 217L1212.5 214.5L1204.1 201.2Z"/><path color="#89acfd" d="M1238.8 316.6L1239.9 294.8L1241.1 282.3L1243.6 266.8L1246.3 257L1255.5 242.3L1252.8 249.4L1250.2 259.3L1247.6 275Z"/><path color="#afcafc" d="M1211.5 232.5L1215.8 242.5L1220.2 255.4L1229.7 261.1L1225.3 244.1L1221 232Z"/><path color="#ccd9ed" d="M1203 217L1211.5 232.5L1221 232L1216.8 222.5L1212.5 214.5Z"/><path color="#dedcdb" d="M1274.1 220.3L1276.9 216.3L1281 211.6L1291.7 202.3L1287.5 206.2L1283.4 211.2Z"/><path color="#dddcdc" d="M1185.1 208.5L1193.5 219.6L1203 217L1194.6 204.9Z"/><path color="#88abfd" d="M1210.6 251.7L1214.9 264.7L1219.4 283.8L1229.3 313.5L1226.1 283.2L1223.1 266.9L1220.2 255.4Z"/><path color="#cfdaea" d="M1193.5 219.6L1202 233.3L1211.5 232.5L1203 217Z"/><path color="#d7dce3" d="M1264.8 230.4L1267.6 225.9L1271.7 220.6L1282.4 210.3Z"/><path color="#efcebd" d="M1291.7 202.3L1300.1 196.6L1309.4 189.5L1302.4 193.8Z"/><path color="#5673e0" d="M1209.6 271.2L1212.5 281.8L1215.5 296.2L1218.7 319.9L1228.2 317.3L1226.3 372.5L1224.1 324.4L1220.9 293L1219.4 283.8Z"/><path color="#b9d0f9" d="M1202 233.3L1206.3 241.7L1210.6 251.7L1220.2 255.4L1215.8 242.5L1211.5 232.5Z"/><path color="#dedcdb" d="M1175.5 212.1L1183.9 222.3L1193.5 219.6L1185.1 208.5Z"/><path color="#cdd9ec" d="M1255.5 242.3L1258.3 236.8L1262.4 230.6L1273.1 219.1L1269 223.9L1264.8 230.4Z"/><path color="#4b64d5" d="M1218.7 319.9L1220.4 343L1223.5 452.1L1223.2 344.2L1224.2 322.3L1226.7 300.9L1235.8 271.6L1233.1 280.3L1230.6 293.2L1228.2 317.3Z"/><path color="#ecd3c5" d="M1282.4 210.3L1300.1 196.6L1293.1 201.1Z"/><path color="#d2dbe8" d="M1183.9 222.3L1192.4 234.3L1202 233.3L1193.5 219.6Z"/><path color="#c0d4f5" d="M1246.3 257L1249 249.9L1253.1 242.1L1263.8 228.8L1259.6 234.5L1255.5 242.3Z"/><path color="#3d50c3" d="M1208.6 288.2L1211.5 300.7L1214.6 319.3L1216.2 334L1218.1 359.9L1226.7 300.9L1224.2 322.3L1223.2 344.2L1223.5 452.1L1220.4 343L1218.7 319.9Z"/><path color="#a1c0ff" d="M1200.9 249.4L1205.2 259.1L1209.6 271.2L1219.4 283.8L1214.9 264.7L1210.6 251.7Z"/><path color="#f5c4ac" d="M1300.1 196.6L1308.6 192.9L1317.9 186L1309.4 189.5Z"/><path color="#c0d4f5" d="M1192.4 234.3L1200.9 249.4L1210.6 251.7L1206.3 241.7L1202 233.3Z"/><path color="#e7d7ce" d="M1273.1 219.1L1290.8 204.2L1283.8 209.1Z"/><path color="#adc9fd" d="M1237.1 277.4L1239.7 266.8L1243.7 256.3L1245.1 253.7L1254.4 240.1L1249 249.9L1246.3 257Z"/><path color="#dedcdb" d="M1165.9 215.8L1174.3 225L1183.9 222.3L1175.5 212.1Z"/><path color="#8caffe" d="M1228.2 317.3L1230.6 293.2L1233.1 280.3L1235.8 271.6L1245.1 253.7L1241 262.8L1238.4 271.6Z"/><path color="#d5dbe5" d="M1174.3 225L1182.8 235.5L1192.4 234.3L1183.9 222.3Z"/><path color="#f2c9b4" d="M1290.8 204.2L1299.3 200.1L1308.6 192.9L1300.1 196.6Z"/><path color="#dfdbd9" d="M1263.8 228.8L1267.9 224.5L1281.5 212.3L1274.5 217.7Z"/><path color="#86a9fc" d="M1199.8 264.1L1205.6 278.7L1218.7 319.9L1215.5 296.2L1212.5 281.8L1209.6 271.2Z"/><path color="#c6d6f1" d="M1182.8 235.5L1191.3 248L1200.9 249.4L1192.4 234.3Z"/><path color="#dfdbd9" d="M1156.3 219.4L1164.7 227.7L1174.3 225L1165.9 215.8Z"/><path color="#f7b99e" d="M1308.6 192.9L1317.1 190.4L1326.5 183.7L1317.9 186Z"/><path color="#b1cbfc" d="M1191.3 248L1199.8 264.1L1209.6 271.2L1205.2 259.1L1200.9 249.4Z"/><path color="#d7dce3" d="M1254.4 240.1L1258.6 234.9L1272.1 221.1L1265.2 227.3Z"/><path color="#efcebd" d="M1281.5 212.3L1289.9 207.8L1299.3 200.1L1290.8 204.2Z"/><path color="#5b7ae5" d="M1218.1 359.9L1220.3 414.3L1220.7 351L1221.7 331.4L1222.9 319.5L1225.5 304.6L1234.7 274.3L1230.6 284.3L1228 294.2Z"/><path color="#d7dce3" d="M1164.7 227.7L1173.1 236.9L1182.8 235.5L1174.3 225Z"/><path color="#445acc" d="M1207.4 298.2L1210.4 309.7L1213.4 325.8L1216.7 355.2L1225.5 304.6L1222.9 319.5L1221.7 331.4L1220.7 351L1220.3 414.3L1218.1 359.9Z"/><path color="#f6bfa6" d="M1299.3 200.1L1307.8 197.4L1317.1 190.4L1308.6 192.9Z"/><path color="#cbd8ee" d="M1245.1 253.7L1249.2 247.2L1262.7 231L1255.8 238.2Z"/><path color="#dfdbd9" d="M1146.6 223.1L1155 230.5L1164.7 227.7L1156.3 219.4Z"/><path color="#ebd3c6" d="M1272.1 221.1L1280.6 216.1L1289.9 207.8L1281.5 212.3Z"/><path color="#ccd9ed" d="M1173.1 236.9L1181.5 247.3L1191.3 248L1182.8 235.5Z"/><path color="#f7b093" d="M1317.1 190.4L1325.7 188.7L1335 182.2L1326.5 183.7Z"/><path color="#bad0f8" d="M1235.8 271.6L1238.5 265.2L1241.2 260.1L1253.4 242.3L1249.2 247.2L1246.5 251.3Z"/><path color="#7597f6" d="M1198.7 275.3L1203 285.3L1207.4 298.2L1218.1 359.9L1216.2 334L1214.6 319.3L1213.1 308.9L1210 294L1208.6 288.2Z"/><path color="#9ebeff" d="M1226.7 300.9L1229.3 288.8L1231.9 280.5L1234.7 274.3L1244 256.1L1239.9 262.5L1235.8 271.6Z"/><path color="#bcd2f7" d="M1181.5 247.3L1190.1 259.6L1199.8 264.1L1191.3 248Z"/><path color="#f4c5ad" d="M1289.9 207.8L1298.4 204.9L1307.8 197.4L1299.3 200.1Z"/><path color="#d9dce1" d="M1155 230.5L1163.4 238.4L1173.1 236.9L1164.7 227.7Z"/><path color="#e5d8d1" d="M1262.7 231L1271.2 225.3L1280.6 216.1L1272.1 221.1Z"/><path color="#a5c3fe" d="M1190.1 259.6L1198.7 275.3L1208.6 288.2L1204.2 274.6L1199.8 264.1Z"/><path color="#e0dbd8" d="M1136.9 226.8L1145.2 233.3L1155 230.5L1146.6 223.1Z"/><path color="#f7b79b" d="M1307.8 197.4L1316.4 195.6L1325.7 188.7L1317.1 190.4Z"/><path color="#5875e1" d="M1216.7 355.2L1218.7 393.4L1220 388.2L1220.9 355.1L1223.2 329.2L1224.5 321.6L1233.6 282.7L1229.5 291.3L1225.5 304.6Z"/><path color="#d1dae9" d="M1163.4 238.4L1171.8 247.1L1181.5 247.3L1173.1 236.9Z"/><path color="#f2cbb7" d="M1280.6 216.1L1289 212.8L1298.4 204.9L1289.9 207.8Z"/><path color="#f7a889" d="M1325.7 188.7L1334.4 187.7L1343.7 181.2L1335 182.2Z"/><path color="#dcdddd" d="M1253.4 242.3L1257.5 238.6L1261.7 235.6L1271.2 225.3L1262.7 231Z"/><path color="#dbdcde" d="M1145.2 233.3L1153.6 240.1L1163.4 238.4L1155 230.5Z"/><path color="#f7bca1" d="M1298.4 204.9L1307 202.9L1316.4 195.6L1307.8 197.4Z"/><path color="#c6d6f1" d="M1171.8 247.1L1180.3 256.8L1190.1 259.6L1181.5 247.3Z"/><path color="#4c66d6" d="M1206.1 299.4L1210.5 311.7L1215 328.9L1224.5 321.6L1222 339.4L1220.9 355.1L1220 388.2L1218.7 393.4L1216.7 355.2Z"/><path color="#d1dae9" d="M1244 256.1L1248.1 251.3L1252.3 247.5L1261.7 235.6L1257.5 238.6L1253.4 242.3Z"/><path color="#e0dbd8" d="M1127.1 230.5L1135.4 236.1L1145.2 233.3L1136.9 226.8Z"/><path color="#edd1c2" d="M1271.2 225.3L1279.6 221.5L1289 212.8L1280.6 216.1Z"/><path color="#f7ad90" d="M1316.4 195.6L1325 194.5L1334.4 187.7L1325.7 188.7Z"/><path color="#b7cff9" d="M1180.3 256.8L1188.8 267.9L1198.7 275.3L1190.1 259.6Z"/><path color="#799cf8" d="M1197.4 281.4L1201.7 289.6L1206.1 299.4L1216.7 355.2L1213.4 325.8L1208.9 303.6L1207.4 298.2Z"/><path color="#bfd3f6" d="M1234.7 274.3L1237.4 269.5L1242.9 262.3L1252.3 247.5L1248.1 251.3L1244 256.1Z"/><path color="#d5dbe5" d="M1153.6 240.1L1162 247.3L1171.8 247.1L1163.4 238.4Z"/><path color="#a1c0ff" d="M1225.5 304.6L1229.5 291.3L1242.9 262.3L1238.8 267.4L1234.7 274.3Z"/><path color="#f59f80" d="M1334.4 187.7L1343 187.2L1352.4 180.8L1343.7 181.2Z"/><path color="#a2c1ff" d="M1188.8 267.9L1194.5 276.6L1207.4 298.2L1203 285.3L1198.7 275.3Z"/><path color="#f5c2aa" d="M1289 212.8L1297.6 210.7L1307 202.9L1298.4 204.9Z"/><path color="#455cce" d="M1215 328.9L1218.1 346.9L1219.7 360.8L1221.4 384L1224.3 477.6L1224.3 385.2L1232.6 297.4L1228.5 306.7L1224.5 321.6Z"/><path color="#e7d7ce" d="M1261.7 235.6L1270.2 231.2L1279.6 221.5L1271.2 225.3Z"/><path color="#dddcdc" d="M1135.4 236.1L1143.8 241.9L1153.6 240.1L1145.2 233.3Z"/><path color="#f7b497" d="M1307 202.9L1315.6 201.7L1325 194.5L1316.4 195.6Z"/><path color="#e1dad6" d="M1117.3 234.2L1125.6 239L1135.4 236.1L1127.1 230.5Z"/><path color="#cedaeb" d="M1162 247.3L1170.5 255L1180.3 256.8L1171.8 247.1Z"/><path color="#f2c9b4" d="M1279.6 221.5L1288.2 219L1297.6 210.7L1289 212.8Z"/><path color="#f7a688" d="M1325 194.5L1333.7 193.9L1343 187.2L1334.4 187.7Z"/><path color="#dedcdb" d="M1252.3 247.5L1260.7 242.1L1270.2 231.2L1261.7 235.6Z"/><path color="#d9dce1" d="M1143.8 241.9L1152.2 247.8L1162 247.3L1153.6 240.1Z"/><path color="#f4987a" d="M1343 187.2L1351.7 187.1L1361.1 180.7L1352.4 180.8Z"/><path color="#c5d6f2" d="M1170.5 255L1178.9 263.3L1188.8 267.9L1180.3 256.8Z"/><path color="#f7ba9f" d="M1297.6 210.7L1306.2 209.3L1315.6 201.7L1307 202.9Z"/><path color="#dfdbd9" d="M1125.6 239L1133.9 243.7L1143.8 241.9L1135.4 236.1Z"/><path color="#d2dbe8" d="M1242.9 262.3L1247.1 258.3L1251.3 255.2L1260.7 242.1L1252.3 247.5Z"/><path color="#506bda" d="M1204.7 295.3L1213.3 310.7L1224.3 385.2L1224.3 477.6L1221.4 384L1219.7 360.8L1218.1 346.9L1215 328.9Z"/><path color="#e1dad6" d="M1107.5 238L1115.8 241.9L1125.6 239L1117.3 234.2Z"/><path color="#efcfbf" d="M1270.2 231.2L1278.7 228.3L1288.2 219L1279.6 221.5Z"/><path color="#97b8ff" d="M1224.5 321.6L1228.5 306.7L1232.6 297.4L1241.9 272L1237.7 276.6L1233.6 282.7Z"/><path color="#f7ac8e" d="M1315.6 201.7L1324.3 201L1333.7 193.9L1325 194.5Z"/><path color="#bed2f6" d="M1233.6 282.7L1237.7 276.6L1241.9 272L1251.3 255.2L1247.1 258.3L1242.9 262.3Z"/><path color="#b9d0f9" d="M1178.9 263.3L1187.5 272.6L1197.4 281.4L1188.8 267.9Z"/><path color="#d4dbe6" d="M1152.2 247.8L1160.6 254L1170.5 255L1162 247.3Z"/><path color="#f59f80" d="M1333.7 193.9L1342.4 193.7L1351.7 187.1L1343 187.2Z"/><path color="#f5c1a9" d="M1288.2 219L1296.8 217.4L1306.2 209.3L1297.6 210.7Z"/><path color="#dcdddd" d="M1133.9 243.7L1142.3 248.6L1152.2 247.8L1143.8 241.9Z"/><path color="#a9c6fd" d="M1187.5 272.6L1196 283L1206.1 299.4L1201.7 289.6L1197.4 281.4Z"/><path color="#e8d6cc" d="M1260.7 242.1L1269.2 238.6L1278.7 228.3L1270.2 231.2Z"/><path color="#f29072" d="M1351.7 187.1L1360.5 187.3L1369.8 181L1361.1 180.7Z"/><path color="#8fb1fe" d="M1196 283L1204.7 295.3L1215 328.9L1210.5 311.7L1206.1 299.4Z"/><path color="#e0dbd8" d="M1115.8 241.9L1124.1 245.7L1133.9 243.7L1125.6 239Z"/><path color="#7396f5" d="M1224.3 385.2L1225.3 363.3L1227.8 341.7L1240.9 286L1236.7 290.9L1232.6 297.4Z"/><path color="#f7b396" d="M1306.2 209.3L1314.8 208.5L1324.3 201L1315.6 201.7Z"/><path color="#cedaeb" d="M1160.6 254L1169 260.4L1178.9 263.3L1170.5 255Z"/><path color="#e2dad5" d="M1097.6 241.7L1105.8 244.8L1115.8 241.9L1107.5 238Z"/><path color="#dddcdc" d="M1251.3 255.2L1259.8 250.6L1269.2 238.6L1260.7 242.1Z"/><path color="#f2c9b4" d="M1278.7 228.3L1287.3 226.3L1296.8 217.4L1288.2 219Z"/><path color="#f6a586" d="M1324.3 201L1333 200.7L1342.4 193.7L1333.7 193.9Z"/><path color="#5f7fe8" d="M1213.3 310.7L1217.7 320.5L1222.2 332.9L1231.8 325.1L1229.1 335L1226.5 350.6L1225.3 363.3L1224.3 385.2Z"/><path color="#d9dce1" d="M1142.3 248.6L1150.7 253.6L1160.6 254L1152.2 247.8Z"/><path color="#f39778" d="M1342.4 193.7L1351.1 193.9L1360.5 187.3L1351.7 187.1Z"/><path color="#cedaeb" d="M1241.9 272L1250.3 265.5L1259.8 250.6L1251.3 255.2Z"/><path color="#f7ba9f" d="M1296.8 217.4L1305.4 216.5L1314.8 208.5L1306.2 209.3Z"/><path color="#c9d7f0" d="M1169 260.4L1177.5 267.2L1187.5 272.6L1178.9 263.3Z"/><path color="#dfdbd9" d="M1124.1 245.7L1132.4 249.7L1142.3 248.6L1133.9 243.7Z"/><path color="#f08a6c" d="M1360.5 187.3L1369.3 187.8L1378.6 181.5L1369.8 181Z"/><path color="#b5cdfa" d="M1232.6 297.4L1236.7 290.9L1240.9 286L1250.3 265.5L1241.9 272Z"/><path color="#eed0c0" d="M1269.2 238.6L1277.8 236.3L1287.3 226.3L1278.7 228.3Z"/><path color="#e2dad5" d="M1105.8 244.8L1114.1 247.8L1124.1 245.7L1115.8 241.9Z"/><path color="#f7ac8e" d="M1314.8 208.5L1323.5 208.1L1333 200.7L1324.3 201Z"/><path color="#d6dce4" d="M1150.7 253.6L1159.1 258.6L1169 260.4L1160.6 254Z"/><path color="#f59d7e" d="M1333 200.7L1341.7 200.8L1351.1 193.9L1342.4 193.7Z"/><path color="#c0d4f5" d="M1177.5 267.2L1196 283L1187.5 272.6Z"/><path color="#6485ec" d="M1222.2 332.9L1225.1 343.6L1228.2 358.2L1231.4 382.2L1240 308.2L1235.8 315.1L1231.8 325.1Z"/><path color="#f5c1a9" d="M1287.3 226.3L1295.9 225.2L1305.4 216.5L1296.8 217.4Z"/><path color="#e7d7ce" d="M1259.8 250.6L1268.3 247.6L1277.8 236.3L1269.2 238.6Z"/><path color="#4c66d6" d="M1231.4 382.2L1233.1 405.5L1235.8 491.5L1236 406.7L1237 384.7L1238.3 372L1248.4 299.1L1244.2 303.1L1240 308.2Z"/><path color="#f29072" d="M1351.1 193.9L1359.9 194.4L1369.3 187.8L1360.5 187.3Z"/><path color="#dedcdb" d="M1132.4 249.7L1140.8 253.6L1150.7 253.6L1142.3 248.6Z"/><path color="#f7b396" d="M1305.4 216.5L1314.1 216L1323.5 208.1L1314.8 208.5Z"/><path color="#e2dad5" d="M1114.1 247.8L1122.4 250.9L1132.4 249.7L1124.1 245.7Z"/><path color="#ee8468" d="M1369.3 187.8L1378.1 188.5L1387.5 182.2L1378.6 181.5Z"/><path color="#b6cefa" d="M1186 274.3L1194.6 281.8L1204.7 295.3L1196 283Z"/><path color="#dadce0" d="M1250.3 265.5L1258.8 261.3L1268.3 247.6L1259.8 250.6Z"/><path color="#d3dbe7" d="M1159.1 258.6L1167.6 263.7L1177.5 267.2L1169 260.4Z"/><path color="#9fbfff" d="M1231.8 325.1L1235.8 315.1L1240 308.2L1249.3 279.3L1245.1 282.3L1240.9 286Z"/><path color="#f2cab5" d="M1277.8 236.3L1286.4 234.8L1295.9 225.2L1287.3 226.3Z"/><path color="#f6a586" d="M1323.5 208.1L1332.3 208.2L1341.7 200.8L1333 200.7Z"/><path color="#c7d7f0" d="M1240.9 286L1245.1 282.3L1249.3 279.3L1258.8 261.3L1250.3 265.5Z"/><path color="#f39778" d="M1341.7 200.8L1350.5 201.2L1359.9 194.4L1351.1 193.9Z"/><path color="#4a63d3" d="M1220.5 308.8L1229.2 320.2L1239.6 363.2L1237 384.7L1236 406.7L1235.8 491.5L1233.1 405.5L1231.4 382.2Z"/><path color="#dcdddd" d="M1140.8 253.6L1149.2 257.6L1159.1 258.6L1150.7 253.6Z"/><path color="#a9c6fd" d="M1194.6 281.8L1203.2 290L1213.3 310.7L1204.7 295.3Z"/><path color="#f7bca1" d="M1295.9 225.2L1304.6 224.5L1314.1 216L1305.4 216.5Z"/><path color="#f08a6c" d="M1359.9 194.4L1368.7 195L1378.1 188.5L1369.3 187.8Z"/><path color="#edd2c3" d="M1268.3 247.6L1276.9 245.7L1286.4 234.8L1277.8 236.3Z"/><path color="#e2dad5" d="M1122.4 250.9L1130.8 254L1140.8 253.6L1132.4 249.7Z"/><path color="#cfdaea" d="M1167.6 263.7L1176.1 268.9L1186 274.3L1177.5 267.2Z"/><path color="#eb7d62" d="M1378.1 188.5L1387 189.4L1396.4 183.1L1387.5 182.2Z"/><path color="#97b8ff" d="M1203.2 290L1211.8 298.9L1222.2 332.9L1216.3 317Z"/><path color="#779af7" d="M1211.8 298.9L1220.5 308.8L1231.4 382.2L1228.2 358.2L1225.1 343.6Z"/><path color="#f7ac8e" d="M1314.1 216L1322.8 215.9L1332.3 208.2L1323.5 208.1Z"/><path color="#f59f80" d="M1332.3 208.2L1341 208.5L1350.5 201.2L1341.7 200.8Z"/><path color="#f5c4ac" d="M1286.4 234.8L1295.1 233.9L1304.6 224.5L1295.9 225.2Z"/><path color="#e3d9d3" d="M1258.8 261.3L1267.4 258.6L1276.9 245.7L1268.3 247.6Z"/><path color="#dbdcde" d="M1149.2 257.6L1157.6 261.5L1167.6 263.7L1159.1 258.6Z"/><path color="#f29072" d="M1350.5 201.2L1359.3 201.9L1368.7 195L1359.9 194.4Z"/><path color="#cbd8ee" d="M1176.1 268.9L1184.6 274.3L1194.6 281.8L1186 274.3Z"/><path color="#d3dbe7" d="M1249.3 279.3L1257.9 274.9L1267.4 258.6L1258.8 261.3Z"/><path color="#f7b497" d="M1304.6 224.5L1313.3 224.3L1322.8 215.9L1314.1 216Z"/><path color="#b6cefa" d="M1240 308.2L1244.2 303.1L1248.4 299.1L1257.9 274.9L1249.3 279.3Z"/><path color="#e2dad5" d="M1130.8 254L1139.2 257.1L1149.2 257.6L1140.8 253.6Z"/><path color="#ee8468" d="M1368.7 195L1377.6 195.9L1387 189.4L1378.1 188.5Z"/><path color="#f1ccb8" d="M1276.9 245.7L1285.5 244.5L1295.1 233.9L1286.4 234.8Z"/><path color="#e9785d" d="M1387 189.4L1395.9 190.5L1405.3 184.2L1396.4 183.1Z"/><path color="#f7a688" d="M1322.8 215.9L1331.6 216.2L1341 208.5L1332.3 208.2Z"/><path color="#dadce0" d="M1157.6 261.5L1166.1 265.5L1176.1 268.9L1167.6 263.7Z"/><path color="#89acfd" d="M1239.6 363.2L1240.9 356.4L1243.6 346.5L1247.8 336.5L1257 293.5L1248.4 299.1Z"/><path color="#f4987a" d="M1341 208.5L1349.9 209.1L1359.3 201.9L1350.5 201.2Z"/><path color="#c6d6f1" d="M1184.6 274.3L1193.1 279.7L1203.2 290L1194.6 281.8Z"/><path color="#f6bda2" d="M1295.1 233.9L1303.8 233.5L1313.3 224.3L1304.6 224.5Z"/><path color="#ead5c9" d="M1267.4 258.6L1276 256.8L1285.5 244.5L1276.9 245.7Z"/><path color="#f08b6e" d="M1359.3 201.9L1368.2 202.8L1377.6 195.9L1368.7 195Z"/><path color="#e2dad5" d="M1139.2 257.1L1147.6 260.3L1157.6 261.5L1149.2 257.6Z"/><path color="#7597f6" d="M1229.2 320.2L1238 333.9L1247.8 336.5L1243.6 346.5L1240.9 356.4L1239.6 363.2Z"/><path color="#f7af91" d="M1313.3 224.3L1322.1 224.5L1331.6 216.2L1322.8 215.9Z"/><path color="#ec7f63" d="M1377.6 195.9L1386.5 197L1395.9 190.5L1387 189.4Z"/><path color="#dcdddd" d="M1257.9 274.9L1266.4 272.1L1276 256.8L1267.4 258.6Z"/><path color="#e67259" d="M1395.9 190.5L1404.9 191.7L1414.2 185.5L1405.3 184.2Z"/><path color="#f3c7b1" d="M1285.5 244.5L1294.2 243.8L1303.8 233.5L1295.1 233.9Z"/><path color="#c5d6f2" d="M1248.4 299.1L1257 293.5L1266.4 272.1L1257.9 274.9Z"/><path color="#d8dce2" d="M1166.1 265.5L1184.6 274.3L1176.1 268.9Z"/><path color="#f5a081" d="M1331.6 216.2L1340.4 216.8L1349.9 209.1L1341 208.5Z"/><path color="#c0d4f5" d="M1193.1 279.7L1201.7 285.3L1211.8 298.9Z"/><path color="#f29274" d="M1349.9 209.1L1358.7 209.9L1368.2 202.8L1359.3 201.9Z"/><path color="#f7b89c" d="M1303.8 233.5L1312.5 233.6L1322.1 224.5L1313.3 224.3Z"/><path color="#e2dad5" d="M1147.6 260.3L1156 263.4L1166.1 265.5L1157.6 261.5Z"/><path color="#ee8669" d="M1368.2 202.8L1377.1 203.8L1386.5 197L1377.6 195.9Z"/><path color="#eed0c0" d="M1276 256.8L1284.7 255.7L1294.2 243.8L1285.5 244.5Z"/><path color="#e97a5f" d="M1386.5 197L1395.5 198.2L1404.9 191.7L1395.9 190.5Z"/><path color="#bad0f8" d="M1201.7 285.3L1210.3 291L1220.5 308.8L1211.8 298.9Z"/><path color="#7da0f9" d="M1238 333.9L1242.4 342.3L1246.8 352.2L1256.2 324.5L1252 329.6L1247.8 336.5Z"/><path color="#f7a98b" d="M1322.1 224.5L1330.9 225L1340.4 216.8L1331.6 216.2Z"/><path color="#d7dce3" d="M1174.6 269.6L1183.1 273.6L1193.1 279.7L1184.6 274.3Z"/><path color="#a5c3fe" d="M1247.8 336.5L1252 329.6L1256.2 324.5L1265.6 289.9L1257 293.5Z"/><path color="#e36c55" d="M1404.9 191.7L1413.9 193.1L1423.3 186.8L1414.2 185.5Z"/><path color="#e3d9d3" d="M1266.4 272.1L1275.1 270.3L1284.7 255.7L1276 256.8Z"/><path color="#f49a7b" d="M1340.4 216.8L1349.2 217.5L1358.7 209.9L1349.9 209.1Z"/><path color="#f5c1a9" d="M1294.2 243.8L1303 243.6L1312.5 233.6L1303.8 233.5Z"/><path color="#4e68d8" d="M1255.8 382.2L1258.9 400.4L1260.5 414.4L1262.2 437.7L1264.4 513.5L1265 439L1273.5 313L1264.8 317.4Z"/><path color="#d1dae9" d="M1257 293.5L1265.6 289.9L1275.1 270.3L1266.4 272.1Z"/><path color="#f18d6f" d="M1358.7 209.9L1367.6 210.9L1377.1 203.8L1368.2 202.8Z"/><path color="#e2dad5" d="M1156 263.4L1164.5 266.6L1174.6 269.6L1166.1 265.5Z"/><path color="#b2ccfb" d="M1210.3 291L1219 296.9L1229.2 320.2L1220.5 308.8Z"/><path color="#f7b194" d="M1312.5 233.6L1321.3 233.9L1330.9 225L1322.1 224.5Z"/><path color="#779af7" d="M1246.8 352.2L1251.3 364.7L1255.8 382.2L1264.8 317.4L1260.5 320.5L1256.2 324.5Z"/><path color="#ec8165" d="M1377.1 203.8L1386 205L1395.5 198.2L1386.5 197Z"/><path color="#f2cbb7" d="M1284.7 255.7L1293.4 255.2L1303 243.6L1294.2 243.8Z"/><path color="#d5dbe5" d="M1183.1 273.6L1191.7 277.7L1201.7 285.3Z"/><path color="#e7745b" d="M1395.5 198.2L1404.5 199.6L1413.9 193.1L1404.9 191.7Z"/><path color="#f6a385" d="M1330.9 225L1339.7 225.7L1349.2 217.5L1340.4 216.8Z"/><path color="#e26952" d="M1413.9 193.1L1422.9 194.6L1432.3 188.3L1423.3 186.8Z"/><path color="#a7c5fe" d="M1219 296.9L1227.7 303L1238 333.9L1229.2 320.2Z"/><path color="#f39577" d="M1349.2 217.5L1358.1 218.5L1367.6 210.9L1358.7 209.9Z"/><path color="#f7bca1" d="M1303 243.6L1311.7 243.8L1321.3 233.9L1312.5 233.6Z"/><path color="#ead5c9" d="M1275.1 270.3L1283.8 269.2L1293.4 255.2L1284.7 255.7Z"/><path color="#e2dad5" d="M1164.5 266.6L1183.1 273.6L1174.6 269.6Z"/><path color="#506bda" d="M1245.1 315.8L1253.9 322.6L1265 439L1264.4 513.5L1262.2 437.7L1260.5 414.4L1257.3 390.2Z"/><path color="#b6cefa" d="M1256.2 324.5L1260.5 320.5L1264.8 317.4L1274.2 287.5L1265.6 289.9Z"/><path color="#ef886b" d="M1367.6 210.9L1376.6 212.1L1386 205L1377.1 203.8Z"/><path color="#d8dce2" d="M1265.6 289.9L1274.2 287.5L1283.8 269.2L1275.1 270.3Z"/><path color="#d3dbe7" d="M1191.7 277.7L1200.3 281.8L1210.3 291L1201.7 285.3Z"/><path color="#f7ac8e" d="M1321.3 233.9L1330.1 234.5L1339.7 225.7L1330.9 225Z"/><path color="#9abbff" d="M1227.7 303L1236.4 309.3L1246.8 352.2L1242.4 342.3L1238 333.9Z"/><path color="#ea7b60" d="M1386 205L1395 206.4L1404.5 199.6L1395.5 198.2Z"/><path color="#e46e56" d="M1404.5 199.6L1413.5 201.1L1422.9 194.6L1413.9 193.1Z"/><path color="#f4c6af" d="M1293.4 255.2L1302.1 255.1L1311.7 243.8L1303 243.6Z"/><path color="#f59f80" d="M1339.7 225.7L1348.6 226.6L1358.1 218.5L1349.2 217.5Z"/><path color="#85a8fc" d="M1236.4 309.3L1245.1 315.8L1255.8 382.2L1251.3 364.7L1246.8 352.2Z"/><path color="#df634e" d="M1422.9 194.6L1432 196.2L1441.4 189.9L1432.3 188.3Z"/><path color="#6c8ff1" d="M1265 439L1266.2 416.9L1267.5 404.2L1270.3 388.5L1273.1 378.6L1282.2 310.1L1273.5 313Z"/><path color="#f29072" d="M1358.1 218.5L1367.1 219.7L1376.6 212.1L1367.6 210.9Z"/><path color="#e2dad5" d="M1173 269.7L1181.6 272.9L1191.7 277.7L1183.1 273.6Z"/><path color="#f7b79b" d="M1311.7 243.8L1320.6 244.3L1330.1 234.5L1321.3 233.9Z"/><path color="#edd1c2" d="M1283.8 269.2L1292.5 268.6L1302.1 255.1L1293.4 255.2Z"/><path color="#ed8366" d="M1376.6 212.1L1385.5 213.5L1395 206.4L1386 205Z"/><path color="#d2dbe8" d="M1200.3 281.8L1208.9 285.9L1219 296.9L1210.3 291Z"/><path color="#e8765c" d="M1395 206.4L1404.1 207.8L1413.5 201.1L1404.5 199.6Z"/><path color="#f7a889" d="M1330.1 234.5L1339 235.4L1348.6 226.6L1339.7 225.7Z"/><path color="#c3d5f4" d="M1264.8 317.4L1273.5 313L1283 286.1L1274.2 287.5Z"/><path color="#dfdbd9" d="M1274.2 287.5L1283 286.1L1292.5 268.6L1283.8 269.2Z"/><path color="#e36b54" d="M1413.5 201.1L1422.6 202.7L1432 196.2L1422.9 194.6Z"/><path color="#6788ee" d="M1253.9 322.6L1262.8 329.8L1273.1 378.6L1270.3 388.5L1267.5 404.2L1266.2 416.9L1265 439Z"/><path color="#f5c1a9" d="M1302.1 255.1L1311 255.4L1320.6 244.3L1311.7 243.8Z"/><path color="#f4987a" d="M1348.6 226.6L1357.5 227.7L1367.1 219.7L1358.1 218.5Z"/><path color="#dd5f4b" d="M1432 196.2L1441.1 197.9L1450.5 191.6L1441.4 189.9Z"/><path color="#e2dad5" d="M1181.6 272.9L1190.2 276.2L1200.3 281.8Z"/><path color="#f08b6e" d="M1367.1 219.7L1376 221L1385.5 213.5L1376.6 212.1Z"/><path color="#cfdaea" d="M1208.9 285.9L1217.6 290L1227.7 303L1219 296.9Z"/><path color="#f7b194" d="M1320.6 244.3L1329.4 245L1339 235.4L1330.1 234.5Z"/><path color="#eb7d62" d="M1385.5 213.5L1394.6 214.9L1404.1 207.8L1395 206.4Z"/><path color="#f1cdba" d="M1292.5 268.6L1301.3 268.5L1311 255.4L1302.1 255.1Z"/><path color="#e67259" d="M1404.1 207.8L1413.1 209.4L1422.6 202.7L1413.5 201.1Z"/><path color="#f6a283" d="M1339 235.4L1347.9 236.4L1357.5 227.7L1348.6 226.6Z"/><path color="#e0654f" d="M1422.6 202.7L1431.7 204.4L1441.1 197.9L1432 196.2Z"/><path color="#e5d8d1" d="M1283 286.1L1291.7 285.3L1301.3 268.5L1292.5 268.6Z"/><path color="#ccd9ed" d="M1273.5 313L1282.2 310.1L1291.7 285.3L1283 286.1Z"/><path color="#f6bda2" d="M1311 255.4L1319.8 256L1329.4 245L1320.6 244.3Z"/><path color="#f39475" d="M1357.5 227.7L1366.5 229L1376 221L1367.1 219.7Z"/><path color="#da5a49" d="M1441.1 197.9L1450.3 199.7L1459.7 193.4L1450.5 191.6Z"/><path color="#e1dad6" d="M1190.2 276.2L1198.8 279.4L1208.9 285.9L1200.3 281.8Z"/><path color="#93b5fe" d="M1273.1 378.6L1277.3 368.5L1281.6 361.6L1291 308.3L1282.2 310.1Z"/><path color="#cdd9ec" d="M1217.6 290L1226.3 294.2L1236.4 309.3L1227.7 303Z"/><path color="#ee8669" d="M1376 221L1385 222.4L1394.6 214.9L1385.5 213.5Z"/><path color="#f7ad90" d="M1329.4 245L1338.3 246L1347.9 236.4L1339 235.4Z"/><path color="#e97a5f" d="M1394.6 214.9L1403.6 216.5L1413.1 209.4L1404.1 207.8Z"/><path color="#f2c9b4" d="M1301.3 268.5L1310.2 268.8L1319.8 256L1311 255.4Z"/><path color="#84a7fc" d="M1262.8 329.8L1271.6 337.4L1281.6 361.6L1277.3 368.5L1273.1 378.6Z"/><path color="#e36c55" d="M1413.1 209.4L1422.2 211.1L1431.7 204.4L1422.6 202.7Z"/><path color="#f59d7e" d="M1347.9 236.4L1356.9 237.6L1366.5 229L1357.5 227.7Z"/><path color="#de614d" d="M1431.7 204.4L1440.8 206.2L1450.3 199.7L1441.1 197.9Z"/><path color="#cad8ef" d="M1226.3 294.2L1235 298.4L1245.1 315.8L1236.4 309.3Z"/><path color="#e1dad6" d="M1198.8 279.4L1207.5 282.7L1217.6 290L1208.9 285.9Z"/><path color="#ead5c9" d="M1291.7 285.3L1300.5 285L1310.2 268.8L1301.3 268.5Z"/><path color="#d75445" d="M1450.3 199.7L1459.5 201.5L1468.9 195.3L1459.7 193.4Z"/><path color="#f18f71" d="M1366.5 229L1375.5 230.4L1385 222.4L1376 221Z"/><path color="#f7b89c" d="M1319.8 256L1328.7 256.8L1338.3 246L1329.4 245Z"/><path color="#d4dbe6" d="M1282.2 310.1L1291 308.3L1300.5 285L1291.7 285.3Z"/><path color="#ed8366" d="M1385 222.4L1394.1 224L1403.6 216.5L1394.6 214.9Z"/><path color="#f7a889" d="M1338.3 246L1347.3 247.1L1356.9 237.6L1347.9 236.4Z"/><path color="#e7745b" d="M1403.6 216.5L1412.7 218.2L1422.2 211.1L1413.1 209.4Z"/><path color="#a6c4fe" d="M1281.6 361.6L1286 356.5L1290.4 352.6L1299.8 307.2L1291 308.3Z"/><path color="#f4c5ad" d="M1310.2 268.8L1319.1 269.4L1328.7 256.8L1319.8 256Z"/><path color="#e26952" d="M1422.2 211.1L1431.4 212.9L1440.8 206.2L1431.7 204.4Z"/><path color="#f4987a" d="M1356.9 237.6L1365.9 239L1375.5 230.4L1366.5 229Z"/><path color="#c7d7f0" d="M1235 298.4L1243.8 302.6L1253.9 322.6L1245.1 315.8Z"/><path color="#dc5d4a" d="M1440.8 206.2L1450 208L1459.5 201.5L1450.3 199.7Z"/><path color="#e1dad6" d="M1207.5 282.7L1216.2 285.9L1226.3 294.2L1217.6 290Z"/><path color="#8fb1fe" d="M1271.6 337.4L1280.5 345.5L1290.4 352.6L1286 356.5L1281.6 361.6Z"/><path color="#d55042" d="M1459.5 201.5L1468.7 203.5L1478.1 197.2L1468.9 195.3Z"/><path color="#f08b6e" d="M1375.5 230.4L1384.5 231.9L1394.1 224L1385 222.4Z"/><path color="#edd2c3" d="M1300.5 285L1309.4 285.1L1319.1 269.4L1310.2 268.8Z"/><path color="#f7b497" d="M1328.7 256.8L1337.7 257.8L1347.3 247.1L1338.3 246Z"/><path color="#dadce0" d="M1291 308.3L1299.8 307.2L1309.4 285.1L1300.5 285Z"/><path color="#eb7d62" d="M1394.1 224L1403.2 225.7L1412.7 218.2L1403.6 216.5Z"/><path color="#f6a385" d="M1347.3 247.1L1356.3 248.4L1365.9 239L1356.9 237.6Z"/><path color="#e57058" d="M1412.7 218.2L1421.9 220L1431.4 212.9L1422.2 211.1Z"/><path color="#c4d5f3" d="M1243.8 302.6L1252.6 306.8L1262.8 329.8L1253.9 322.6Z"/><path color="#e0654f" d="M1431.4 212.9L1440.6 214.8L1450 208L1440.8 206.2Z"/><path color="#f5c0a7" d="M1319.1 269.4L1328 270.2L1337.7 257.8L1328.7 256.8Z"/><path color="#e1dad6" d="M1216.2 285.9L1224.9 289.2L1235 298.4L1226.3 294.2Z"/><path color="#f39577" d="M1365.9 239L1375 240.5L1384.5 231.9L1375.5 230.4Z"/><path color="#d95847" d="M1450 208L1459.3 210L1468.7 203.5L1459.5 201.5Z"/><path color="#b5cdfa" d="M1290.4 352.6L1299.2 347.1L1308.7 306.7L1299.8 307.2Z"/><path color="#94b6ff" d="M1280.5 345.5L1289.4 354.2L1299.2 347.1L1290.4 352.6Z"/><path color="#d24b40" d="M1468.7 203.5L1478 205.5L1487.4 199.3L1478.1 197.2Z"/><path color="#ee8669" d="M1384.5 231.9L1393.6 233.6L1403.2 225.7L1394.1 224Z"/><path color="#f0cdbb" d="M1309.4 285.1L1318.3 285.5L1328 270.2L1319.1 269.4Z"/><path color="#f7b093" d="M1337.7 257.8L1346.6 259L1356.3 248.4L1347.3 247.1Z"/><path color="#e97a5f" d="M1403.2 225.7L1412.3 227.4L1421.9 220L1412.7 218.2Z"/><path color="#dfdbd9" d="M1299.8 307.2L1308.7 306.7L1318.3 285.5L1309.4 285.1Z"/><path color="#c1d4f4" d="M1252.6 306.8L1261.4 311.1L1271.6 337.4L1262.8 329.8Z"/><path color="#e36c55" d="M1421.9 220L1431.1 221.9L1440.6 214.8L1431.4 212.9Z"/><path color="#f5a081" d="M1356.3 248.4L1365.3 249.9L1375 240.5L1365.9 239Z"/><path color="#de614d" d="M1440.6 214.8L1449.8 216.8L1459.3 210L1450 208Z"/><path color="#e1dad6" d="M1224.9 289.2L1233.7 292.5L1243.8 302.6L1235 298.4Z"/><path color="#f6bda2" d="M1328 270.2L1337 271.3L1346.6 259L1337.7 257.8Z"/><path color="#f29072" d="M1375 240.5L1384 242.2L1393.6 233.6L1384.5 231.9Z"/><path color="#d75445" d="M1459.3 210L1468.5 212L1478 205.5L1468.7 203.5Z"/><path color="#97b8ff" d="M1289.4 354.2L1298.4 363.9L1308 343.5L1299.2 347.1Z"/><path color="#d1493f" d="M1478 205.5L1487.3 207.6L1496.7 201.3L1487.4 199.3Z"/><path color="#ed8366" d="M1393.6 233.6L1402.8 235.4L1412.3 227.4L1403.2 225.7Z"/><path color="#bfd3f6" d="M1299.2 347.1L1308 343.5L1317.6 306.7L1308.7 306.7Z"/><path color="#f7ac8e" d="M1346.6 259L1355.7 260.4L1365.3 249.9L1356.3 248.4Z"/><path color="#bed2f6" d="M1261.4 311.1L1270.3 315.4L1280.5 345.5L1271.6 337.4Z"/><path color="#f2cbb7" d="M1318.3 285.5L1327.3 286.3L1337 271.3L1328 270.2Z"/><path color="#e8765c" d="M1412.3 227.4L1421.5 229.3L1431.1 221.9L1421.9 220Z"/><path color="#e4d9d2" d="M1308.7 306.7L1317.6 306.7L1327.3 286.3L1318.3 285.5Z"/><path color="#e26952" d="M1431.1 221.9L1440.3 223.8L1449.8 216.8L1440.6 214.8Z"/><path color="#f59c7d" d="M1365.3 249.9L1374.4 251.5L1384 242.2L1375 240.5Z"/><path color="#e1dad6" d="M1233.7 292.5L1242.5 295.8L1252.6 306.8L1243.8 302.6Z"/><path color="#dc5d4a" d="M1449.8 216.8L1459.1 218.8L1468.5 212L1459.3 210Z"/><path color="#f7b89c" d="M1337 271.3L1346 272.5L1355.7 260.4L1346.6 259Z"/><path color="#d55042" d="M1468.5 212L1477.9 214.1L1487.3 207.6L1478 205.5Z"/><path color="#f18d6f" d="M1384 242.2L1393.2 243.9L1402.8 235.4L1393.6 233.6Z"/><path color="#98b9ff" d="M1298.4 363.9L1307.3 374.8L1316.9 341.3L1308 343.5Z"/><path color="#cf453c" d="M1487.3 207.6L1496.7 209.8L1506.1 203.5L1496.7 201.3Z"/><path color="#b9d0f9" d="M1270.3 315.4L1279.2 319.7L1289.4 354.2L1280.5 345.5Z"/><path color="#ec7f63" d="M1402.8 235.4L1411.9 237.2L1421.5 229.3L1412.3 227.4Z"/><path color="#f7a889" d="M1355.7 260.4L1364.7 261.9L1374.4 251.5L1365.3 249.9Z"/><path color="#f3c7b1" d="M1327.3 286.3L1336.3 287.2L1346 272.5L1337 271.3Z"/><path color="#c7d7f0" d="M1308 343.5L1316.9 341.3L1326.6 307L1317.6 306.7Z"/><path color="#e57058" d="M1421.5 229.3L1430.7 231.3L1440.3 223.8L1431.1 221.9Z"/><path color="#e0654f" d="M1440.3 223.8L1449.6 225.9L1459.1 218.8L1449.8 216.8Z"/><path color="#e1dad6" d="M1242.5 295.8L1251.3 299.2L1261.4 311.1L1252.6 306.8Z"/><path color="#e8d6cc" d="M1317.6 306.7L1326.6 307L1336.3 287.2L1327.3 286.3Z"/><path color="#f39778" d="M1374.4 251.5L1383.5 253.2L1393.2 243.9L1384 242.2Z"/><path color="#d95847" d="M1459.1 218.8L1468.4 220.9L1477.9 214.1L1468.5 212Z"/><path color="#96b7ff" d="M1307.3 374.8L1316.3 387.5L1325.9 339.9L1316.9 341.3Z"/><path color="#b3cdfb" d="M1279.2 319.7L1288.2 324.1L1298.4 363.9L1289.4 354.2Z"/><path color="#f7b599" d="M1346 272.5L1355 273.9L1364.7 261.9L1355.7 260.4Z"/><path color="#d24b40" d="M1477.9 214.1L1487.2 216.3L1496.7 209.8L1487.3 207.6Z"/><path color="#ef886b" d="M1393.2 243.9L1402.3 245.7L1411.9 237.2L1402.8 235.4Z"/><path color="#cc403a" d="M1496.7 209.8L1506.1 212L1515.5 205.7L1506.1 203.5Z"/><path color="#e97a5f" d="M1411.9 237.2L1421.2 239.2L1430.7 231.3L1421.5 229.3Z"/><path color="#f6a385" d="M1364.7 261.9L1373.9 263.5L1383.5 253.2L1374.4 251.5Z"/><path color="#e36c55" d="M1430.7 231.3L1440 233.3L1449.6 225.9L1440.3 223.8Z"/><path color="#f5c4ac" d="M1336.3 287.2L1345.3 288.4L1355 273.9L1346 272.5Z"/><path color="#e1dad6" d="M1251.3 299.2L1260.2 302.6L1270.3 315.4L1261.4 311.1Z"/><path color="#cdd9ec" d="M1316.9 341.3L1325.9 339.9L1335.6 307.7L1326.6 307Z"/><path color="#adc9fd" d="M1288.2 324.1L1297.2 328.4L1307.3 374.8L1298.4 363.9Z"/><path color="#de614d" d="M1449.6 225.9L1458.9 228L1468.4 220.9L1459.1 218.8Z"/><path color="#90b2fe" d="M1316.3 387.5L1325.4 403.5L1335 339.3L1325.9 339.9Z"/><path color="#f39475" d="M1383.5 253.2L1392.7 255L1402.3 245.7L1393.2 243.9Z"/><path color="#ebd3c6" d="M1326.6 307L1335.6 307.7L1345.3 288.4L1336.3 287.2Z"/><path color="#d75445" d="M1468.4 220.9L1477.7 223.1L1487.2 216.3L1477.9 214.1Z"/><path color="#d1493f" d="M1487.2 216.3L1496.6 218.5L1506.1 212L1496.7 209.8Z"/><path color="#f7b194" d="M1355 273.9L1364.1 275.4L1373.9 263.5L1364.7 261.9Z"/><path color="#ee8468" d="M1402.3 245.7L1411.5 247.7L1421.2 239.2L1411.9 237.2Z"/><path color="#ca3b37" d="M1506.1 212L1515.5 214.3L1524.9 208L1515.5 205.7Z"/><path color="#e8765c" d="M1421.2 239.2L1430.4 241.2L1440 233.3L1430.7 231.3Z"/><path color="#86a9fc" d="M1325.4 403.5L1329.9 413.7L1334.5 426.4L1344 339.1L1335 339.3Z"/><path color="#a6c4fe" d="M1297.2 328.4L1306.2 332.8L1316.3 387.5L1307.3 374.8Z"/><path color="#f5a081" d="M1373.9 263.5L1383 265.3L1392.7 255L1383.5 253.2Z"/><path color="#e26952" d="M1440 233.3L1449.3 235.4L1458.9 228L1449.6 225.9Z"/><path color="#f5c0a7" d="M1345.3 288.4L1354.4 289.7L1364.1 275.4L1355 273.9Z"/><path color="#4f69d9" d="M1343.6 476.9L1345.1 500.4L1346.7 560.8L1348.1 501.8L1349.6 479.6L1352.6 457.8L1362.3 339.9L1353.2 339.3Z"/><path color="#e1dad6" d="M1260.2 302.6L1269.1 305.9L1279.2 319.7L1270.3 315.4Z"/><path color="#6f92f3" d="M1334.5 426.4L1337.5 437.4L1340.5 452.4L1343.6 476.9L1353.2 339.3L1344 339.1Z"/><path color="#dc5d4a" d="M1458.9 228L1468.2 230.2L1477.7 223.1L1468.4 220.9Z"/><path color="#d3dbe7" d="M1325.9 339.9L1335 339.3L1344.7 308.6L1335.6 307.7Z"/><path color="#f29072" d="M1392.7 255L1401.9 256.9L1411.5 247.7L1402.3 245.7Z"/><path color="#d55042" d="M1477.7 223.1L1487.1 225.3L1496.6 218.5L1487.2 216.3Z"/><path color="#edd1c2" d="M1335.6 307.7L1344.7 308.6L1354.4 289.7L1345.3 288.4Z"/><path color="#cf453c" d="M1496.6 218.5L1506.1 220.8L1515.5 214.3L1506.1 212Z"/><path color="#9dbdff" d="M1306.2 332.8L1315.3 337.3L1325.4 403.5L1316.3 387.5Z"/><path color="#ec8165" d="M1411.5 247.7L1420.8 249.7L1430.4 241.2L1421.2 239.2Z"/><path color="#f7ad90" d="M1364.1 275.4L1373.3 277.1L1383 265.3L1373.9 263.5Z"/><path color="#c83836" d="M1515.5 214.3L1525 216.6L1534.4 210.3L1524.9 208Z"/><path color="#e67259" d="M1430.4 241.2L1439.7 243.3L1449.3 235.4L1440 233.3Z"/><path color="#f59c7d" d="M1383 265.3L1392.2 267.1L1401.9 256.9L1392.7 255Z"/><path color="#e0dbd8" d="M1269.1 305.9L1278.1 309.3L1288.2 324.1L1279.2 319.7Z"/><path color="#e16751" d="M1449.3 235.4L1458.7 237.6L1468.2 230.2L1458.9 228Z"/><path color="#4e68d8" d="M1333.5 346.2L1342.7 350.7L1352.6 457.8L1349.6 479.6L1348.1 501.8L1346.7 560.8L1345.1 500.4Z"/><path color="#8db0fe" d="M1315.3 337.3L1324.4 341.7L1334.5 426.4L1329.9 413.7L1325.4 403.5Z"/><path color="#f6bda2" d="M1354.4 289.7L1363.5 291.2L1373.3 277.1L1364.1 275.4Z"/><path color="#d95847" d="M1468.2 230.2L1477.6 232.4L1487.1 225.3L1477.7 223.1Z"/><path color="#7295f4" d="M1324.4 341.7L1333.5 346.2L1343.6 476.9L1340.5 452.4L1337.5 437.4L1334.5 426.4Z"/><path color="#f18d6f" d="M1401.9 256.9L1411.1 258.9L1420.8 249.7L1411.5 247.7Z"/><path color="#d44e41" d="M1487.1 225.3L1496.6 227.6L1506.1 220.8L1496.6 218.5Z"/><path color="#d8dce2" d="M1335 339.3L1344 339.1L1353.8 309.7L1344.7 308.6Z"/><path color="#f0cdbb" d="M1344.7 308.6L1353.8 309.7L1363.5 291.2L1354.4 289.7Z"/><path color="#cc403a" d="M1506.1 220.8L1515.5 223.2L1525 216.6L1515.5 214.3Z"/><path color="#eb7d62" d="M1420.8 249.7L1430.1 251.8L1439.7 243.3L1430.4 241.2Z"/><path color="#f7aa8c" d="M1373.3 277.1L1382.5 278.9L1392.2 267.1L1383 265.3Z"/><path color="#c53334" d="M1525 216.6L1534.5 219L1543.9 212.7L1534.4 210.3Z"/><path color="#e57058" d="M1439.7 243.3L1449.1 245.5L1458.7 237.6L1449.3 235.4Z"/><path color="#e0dbd8" d="M1278.1 309.3L1287.1 312.7L1297.2 328.4L1288.2 324.1Z"/><path color="#f4987a" d="M1392.2 267.1L1401.4 269.1L1411.1 258.9L1401.9 256.9Z"/><path color="#df634e" d="M1458.7 237.6L1468 239.9L1477.6 232.4L1468.2 230.2Z"/><path color="#f7b99e" d="M1363.5 291.2L1372.7 292.8L1382.5 278.9L1373.3 277.1Z"/><path color="#d85646" d="M1477.6 232.4L1487 234.7L1496.6 227.6L1487.1 225.3Z"/><path color="#f08a6c" d="M1411.1 258.9L1420.4 261L1430.1 251.8L1420.8 249.7Z"/><path color="#d1493f" d="M1496.6 227.6L1506 230L1515.5 223.2L1506.1 220.8Z"/><path color="#dcdddd" d="M1344 339.1L1353.2 339.3L1362.9 311L1353.8 309.7Z"/><path color="#81a4fb" d="M1352.6 457.8L1354.1 450.9L1357.1 440.9L1361.7 430.8L1371.5 340.8L1362.3 339.9Z"/><path color="#cb3e38" d="M1515.5 223.2L1525.1 225.6L1534.5 219L1525 216.6Z"/><path color="#f2cbb7" d="M1353.8 309.7L1362.9 311L1372.7 292.8L1363.5 291.2Z"/><path color="#e97a5f" d="M1430.1 251.8L1439.4 254L1449.1 245.5L1439.7 243.3Z"/><path color="#c43032" d="M1534.5 219L1544.1 221.4L1553.5 215.1L1543.9 212.7Z"/><path color="#f7a688" d="M1382.5 278.9L1391.7 280.7L1401.4 269.1L1392.2 267.1Z"/><path color="#e36c55" d="M1449.1 245.5L1458.4 247.8L1468 239.9L1458.7 237.6Z"/><path color="#e0dbd8" d="M1287.1 312.7L1296.1 316.2L1306.2 332.8L1297.2 328.4Z"/><path color="#dd5f4b" d="M1468 239.9L1477.5 242.2L1487 234.7L1477.6 232.4Z"/><path color="#f39577" d="M1401.4 269.1L1410.7 271.2L1420.4 261L1411.1 258.9Z"/><path color="#f7b79b" d="M1372.7 292.8L1381.9 294.6L1391.7 280.7L1382.5 278.9Z"/><path color="#d65244" d="M1487 234.7L1496.5 237.1L1506 230L1496.6 227.6Z"/><path color="#ee8669" d="M1420.4 261L1429.7 263.1L1439.4 254L1430.1 251.8Z"/><path color="#cf453c" d="M1506 230L1515.6 232.4L1525.1 225.6L1515.5 223.2Z"/><path color="#7da0f9" d="M1342.7 350.7L1351.9 355.3L1361.7 430.8L1357.1 440.9L1354.1 450.9L1352.6 457.8Z"/><path color="#c83836" d="M1525.1 225.6L1534.6 228L1544.1 221.4L1534.5 219Z"/><path color="#f3c8b2" d="M1362.9 311L1372.1 312.5L1381.9 294.6L1372.7 292.8Z"/><path color="#e0dbd8" d="M1353.2 339.3L1362.3 339.9L1372.1 312.5L1362.9 311Z"/><path color="#e8765c" d="M1439.4 254L1448.8 256.2L1458.4 247.8L1449.1 245.5Z"/><path color="#c12b30" d="M1544.1 221.4L1553.7 223.9L1563.1 217.5L1553.5 215.1Z"/><path color="#f6a385" d="M1391.7 280.7L1401 282.7L1410.7 271.2L1401.4 269.1Z"/><path color="#e0dbd8" d="M1296.1 316.2L1305.2 319.6L1315.3 337.3L1306.2 332.8Z"/><path color="#e26952" d="M1458.4 247.8L1467.9 250.1L1477.5 242.2L1468 239.9Z"/><path color="#da5a49" d="M1477.5 242.2L1486.9 244.5L1496.5 237.1L1487 234.7Z"/><path color="#f29274" d="M1410.7 271.2L1420 273.3L1429.7 263.1L1420.4 261Z"/><path color="#97b8ff" d="M1361.7 430.8L1366.3 423.8L1370.9 418.7L1380.8 341.9L1371.5 340.8Z"/><path color="#d44e41" d="M1496.5 237.1L1506 239.5L1515.6 232.4L1506 230Z"/><path color="#f7b396" d="M1381.9 294.6L1391.2 296.5L1401 282.7L1391.7 280.7Z"/><path color="#ed8366" d="M1429.7 263.1L1439.1 265.4L1448.8 256.2L1439.4 254Z"/><path color="#cd423b" d="M1515.6 232.4L1525.1 234.8L1534.6 228L1525.1 225.6Z"/><path color="#c73635" d="M1534.6 228L1544.2 230.5L1553.7 223.9L1544.1 221.4Z"/><path color="#f4c6af" d="M1372.1 312.5L1381.4 314.1L1391.2 296.5L1381.9 294.6Z"/><path color="#e7745b" d="M1448.8 256.2L1458.2 258.5L1467.9 250.1L1458.4 247.8Z"/><path color="#c0282f" d="M1553.7 223.9L1563.3 226.4L1572.7 220.1L1563.1 217.5Z"/><path color="#e3d9d3" d="M1362.3 339.9L1371.5 340.8L1381.4 314.1L1372.1 312.5Z"/><path color="#f5a081" d="M1401 282.7L1410.3 284.8L1420 273.3L1410.7 271.2Z"/><path color="#e0dbd8" d="M1305.2 319.6L1314.3 323.1L1324.4 341.7L1315.3 337.3Z"/><path color="#e0654f" d="M1467.9 250.1L1477.3 252.4L1486.9 244.5L1477.5 242.2Z"/><path color="#90b2fe" d="M1351.9 355.3L1361.1 359.9L1370.9 418.7L1366.3 423.8L1361.7 430.8Z"/><path color="#d95847" d="M1486.9 244.5L1496.5 247L1506 239.5L1496.5 237.1Z"/><path color="#f18f71" d="M1420 273.3L1429.4 275.5L1439.1 265.4L1429.7 263.1Z"/><path color="#d24b40" d="M1506 239.5L1515.6 241.9L1525.1 234.8L1515.6 232.4Z"/><path color="#f7b093" d="M1391.2 296.5L1400.5 298.5L1410.3 284.8L1401 282.7Z"/><path color="#cb3e38" d="M1525.1 234.8L1534.7 237.3L1544.2 230.5L1534.6 228Z"/><path color="#ec7f63" d="M1439.1 265.4L1448.5 267.7L1458.2 258.5L1448.8 256.2Z"/><path color="#a6c4fe" d="M1370.9 418.7L1375.5 414.8L1380.1 411.8L1390.1 343.2L1380.8 341.9Z"/><path color="#c43032" d="M1544.2 230.5L1553.9 233L1563.3 226.4L1553.7 223.9Z"/><path color="#be242e" d="M1563.3 226.4L1573 229L1582.4 222.6L1572.7 220.1Z"/><path color="#e57058" d="M1458.2 258.5L1467.7 260.9L1477.3 252.4L1467.9 250.1Z"/><path color="#dfdbd9" d="M1314.3 323.1L1323.5 326.6L1333.5 346.2L1324.4 341.7Z"/><path color="#f5c2aa" d="M1381.4 314.1L1390.7 315.9L1400.5 298.5L1391.2 296.5Z"/><path color="#f59d7e" d="M1410.3 284.8L1419.6 287L1429.4 275.5L1420 273.3Z"/><path color="#e7d7ce" d="M1371.5 340.8L1380.8 341.9L1390.7 315.9L1381.4 314.1Z"/><path color="#df634e" d="M1477.3 252.4L1486.8 254.9L1496.5 247L1486.9 244.5Z"/><path color="#d75445" d="M1496.5 247L1506 249.4L1515.6 241.9L1506 239.5Z"/><path color="#f08b6e" d="M1429.4 275.5L1438.8 277.8L1448.5 267.7L1439.1 265.4Z"/><path color="#9bbcff" d="M1361.1 359.9L1370.4 364.5L1380.1 411.8L1375.5 414.8L1370.9 418.7Z"/><path color="#d0473d" d="M1515.6 241.9L1525.2 244.5L1534.7 237.3L1525.1 234.8Z"/><path color="#f7ad90" d="M1400.5 298.5L1409.8 300.5L1419.6 287L1410.3 284.8Z"/><path color="#ca3b37" d="M1534.7 237.3L1544.4 239.9L1553.9 233L1544.2 230.5Z"/><path color="#ea7b60" d="M1448.5 267.7L1458 270L1467.7 260.9L1458.2 258.5Z"/><path color="#c32e31" d="M1553.9 233L1563.6 235.6L1573 229L1563.3 226.4Z"/><path color="#dfdbd9" d="M1323.5 326.6L1332.7 330.1L1342.7 350.7L1333.5 346.2Z"/><path color="#bb1b2c" d="M1573 229L1582.8 231.6L1592.2 225.2L1582.4 222.6Z"/><path color="#e36c55" d="M1467.7 260.9L1477.2 263.3L1486.8 254.9L1477.3 252.4Z"/><path color="#f5c0a7" d="M1390.7 315.9L1400 317.8L1409.8 300.5L1400.5 298.5Z"/><path color="#b1cbfc" d="M1380.1 411.8L1389.4 407.5L1399.5 344.7L1390.1 343.2Z"/><path color="#f49a7b" d="M1419.6 287L1429 289.2L1438.8 277.8L1429.4 275.5Z"/><path color="#ead5c9" d="M1380.8 341.9L1390.1 343.2L1400 317.8L1390.7 315.9Z"/><path color="#dd5f4b" d="M1486.8 254.9L1496.4 257.3L1506 249.4L1496.5 247Z"/><path color="#d65244" d="M1506 249.4L1515.6 251.9L1525.2 244.5L1515.6 241.9Z"/><path color="#ef886b" d="M1438.8 277.8L1448.2 280.1L1458 270L1448.5 267.7Z"/><path color="#cf453c" d="M1525.2 244.5L1534.8 247L1544.4 239.9L1534.7 237.3Z"/><path color="#f7aa8c" d="M1409.8 300.5L1419.2 302.7L1429 289.2L1419.6 287Z"/><path color="#a3c2fe" d="M1370.4 364.5L1379.7 369.1L1389.4 407.5L1380.1 411.8Z"/><path color="#c83836" d="M1544.4 239.9L1554.1 242.5L1563.6 235.6L1553.9 233Z"/><path color="#e9785d" d="M1458 270L1467.5 272.5L1477.2 263.3L1467.7 260.9Z"/><path color="#c12b30" d="M1563.6 235.6L1573.3 238.2L1582.8 231.6L1573 229Z"/><path color="#dfdbd9" d="M1332.7 330.1L1341.9 333.6L1351.9 355.3L1342.7 350.7Z"/><path color="#ba162b" d="M1582.8 231.6L1592.5 234.3L1602 227.8L1592.2 225.2Z"/><path color="#e36b54" d="M1477.2 263.3L1486.7 265.8L1496.4 257.3L1486.8 254.9Z"/><path color="#f6bea4" d="M1400 317.8L1409.4 319.8L1419.2 302.7L1409.8 300.5Z"/><path color="#f39778" d="M1429 289.2L1438.5 291.5L1448.2 280.1L1438.8 277.8Z"/><path color="#ebd3c6" d="M1390.1 343.2L1399.5 344.7L1409.4 319.8L1400 317.8Z"/><path color="#dc5d4a" d="M1496.4 257.3L1506 259.9L1515.6 251.9L1506 249.4Z"/><path color="#b9d0f9" d="M1389.4 407.5L1398.8 404.8L1408.9 346.4L1399.5 344.7Z"/><path color="#d44e41" d="M1515.6 251.9L1525.2 254.5L1534.8 247L1525.2 244.5Z"/><path color="#ee8669" d="M1448.2 280.1L1457.7 282.5L1467.5 272.5L1458 270Z"/><path color="#cd423b" d="M1534.8 247L1544.5 249.6L1554.1 242.5L1544.4 239.9Z"/><path color="#f7a889" d="M1419.2 302.7L1428.6 305L1438.5 291.5L1429 289.2Z"/><path color="#c53334" d="M1554.1 242.5L1563.8 245.1L1573.3 238.2L1563.6 235.6Z"/><path color="#e8765c" d="M1467.5 272.5L1477 274.9L1486.7 265.8L1477.2 263.3Z"/><path color="#dfdbd9" d="M1341.9 333.6L1351.2 337.1L1361.1 359.9L1351.9 355.3Z"/><path color="#aac7fd" d="M1379.7 369.1L1389.1 373.8L1398.8 404.8L1389.4 407.5Z"/><path color="#be242e" d="M1573.3 238.2L1583.1 240.9L1592.5 234.3L1582.8 231.6Z"/><path color="#b8122a" d="M1592.5 234.3L1602.4 236.9L1611.8 230.5L1602 227.8Z"/><path color="#e16751" d="M1486.7 265.8L1496.3 268.3L1506 259.9L1496.4 257.3Z"/><path color="#f7ba9f" d="M1409.4 319.8L1418.8 321.9L1428.6 305L1419.2 302.7Z"/><path color="#f39475" d="M1438.5 291.5L1448 293.9L1457.7 282.5L1448.2 280.1Z"/><path color="#d95847" d="M1506 259.9L1515.6 262.4L1525.2 254.5L1515.6 251.9Z"/><path color="#edd1c2" d="M1399.5 344.7L1408.9 346.4L1418.8 321.9L1409.4 319.8Z"/><path color="#d24b40" d="M1525.2 254.5L1534.9 257.1L1544.5 249.6L1534.8 247Z"/><path color="#bfd3f6" d="M1398.8 404.8L1408.2 403.2L1418.3 348.2L1408.9 346.4Z"/><path color="#ed8366" d="M1457.7 282.5L1467.3 285L1477 274.9L1467.5 272.5Z"/><path color="#cb3e38" d="M1544.5 249.6L1554.2 252.3L1563.8 245.1L1554.1 242.5Z"/><path color="#f6a586" d="M1428.6 305L1438.1 307.3L1448 293.9L1438.5 291.5Z"/><path color="#c43032" d="M1563.8 245.1L1573.6 247.8L1583.1 240.9L1573.3 238.2Z"/><path color="#dfdbd9" d="M1351.2 337.1L1360.5 340.7L1370.4 364.5L1361.1 359.9Z"/><path color="#e67259" d="M1477 274.9L1486.6 277.5L1496.3 268.3L1486.7 265.8Z"/><path color="#bd1f2d" d="M1583.1 240.9L1592.9 243.6L1602.4 236.9L1592.5 234.3Z"/><path color="#aec9fc" d="M1389.1 373.8L1398.5 378.6L1408.2 403.2L1398.8 404.8Z"/><path color="#b70d28" d="M1602.4 236.9L1612.2 239.7L1621.6 233.2L1611.8 230.5Z"/><path color="#e0654f" d="M1496.3 268.3L1505.9 270.9L1515.6 262.4L1506 259.9Z"/><path color="#f29274" d="M1448 293.9L1457.5 296.4L1467.3 285L1457.7 282.5Z"/><path color="#f7b89c" d="M1418.8 321.9L1428.2 324L1438.1 307.3L1428.6 305Z"/><path color="#d85646" d="M1515.6 262.4L1525.3 265.1L1534.9 257.1L1525.2 254.5Z"/><path color="#efcebd" d="M1408.9 346.4L1418.3 348.2L1428.2 324L1418.8 321.9Z"/><path color="#d1493f" d="M1534.9 257.1L1544.6 259.8L1554.2 252.3L1544.5 249.6Z"/><path color="#ec7f63" d="M1467.3 285L1476.8 287.5L1486.6 277.5L1477 274.9Z"/><path color="#c5d6f2" d="M1408.2 403.2L1417.6 402.3L1427.8 350.1L1418.3 348.2Z"/><path color="#ca3b37" d="M1554.2 252.3L1564 255L1573.6 247.8L1563.8 245.1Z"/><path color="#dedcdb" d="M1360.5 340.7L1369.9 344.3L1379.7 369.1L1370.4 364.5Z"/><path color="#c32e31" d="M1573.6 247.8L1583.4 250.5L1592.9 243.6L1583.1 240.9Z"/><path color="#f6a283" d="M1438.1 307.3L1447.6 309.7L1457.5 296.4L1448 293.9Z"/><path color="#e57058" d="M1486.6 277.5L1496.2 280.1L1505.9 270.9L1496.3 268.3Z"/><path color="#bb1b2c" d="M1592.9 243.6L1602.7 246.3L1612.2 239.7L1602.4 236.9Z"/><path color="#b40426" d="M1612.2 239.7L1622.1 242.4L1631.5 236L1621.6 233.2Z"/><path color="#b2ccfb" d="M1398.5 378.6L1407.9 383.3L1417.6 402.3L1408.2 403.2Z"/><path color="#de614d" d="M1505.9 270.9L1515.6 273.5L1525.3 265.1L1515.6 262.4Z"/><path color="#f18f71" d="M1457.5 296.4L1467 298.9L1476.8 287.5L1467.3 285Z"/><path color="#f7b599" d="M1428.2 324L1437.7 326.3L1447.6 309.7L1438.1 307.3Z"/><path color="#d65244" d="M1525.3 265.1L1535 267.7L1544.6 259.8L1534.9 257.1Z"/><path color="#f1cdba" d="M1418.3 348.2L1427.8 350.1L1437.7 326.3L1428.2 324Z"/><path color="#cf453c" d="M1544.6 259.8L1554.4 262.5L1564 255L1554.2 252.3Z"/><path color="#eb7d62" d="M1476.8 287.5L1486.5 290.1L1496.2 280.1L1486.6 277.5Z"/><path color="#c83836" d="M1564 255L1573.8 257.7L1583.4 250.5L1573.6 247.8Z"/><path color="#dedcdb" d="M1369.9 344.3L1379.3 347.9L1389.1 373.8L1379.7 369.1Z"/><path color="#cad8ef" d="M1417.6 402.3L1427.1 402.1L1437.3 352.1L1427.8 350.1Z"/><path color="#b40426" d="M1622.1 242.4L1627.1 243.8L1636.5 237.4L1631.5 236Z"/><path color="#c12b30" d="M1583.4 250.5L1593.2 253.2L1602.7 246.3L1592.9 243.6Z"/><path color="#f5a081" d="M1447.6 309.7L1457.2 312.1L1467 298.9L1457.5 296.4Z"/><path color="#e36c55" d="M1496.2 280.1L1505.9 282.7L1515.6 273.5L1505.9 270.9Z"/><path color="#ba162b" d="M1602.7 246.3L1612.6 249.1L1622.1 242.4L1612.2 239.7Z"/><path color="#b6cefa" d="M1407.9 383.3L1417.4 388.1L1427.1 402.1L1417.6 402.3Z"/><path color="#dd5f4b" d="M1515.6 273.5L1525.3 276.2L1535 267.7L1525.3 265.1Z"/><path color="#f08b6e" d="M1467 298.9L1476.7 301.4L1486.5 290.1L1476.8 287.5Z"/><path color="#f7b396" d="M1437.7 326.3L1447.3 328.7L1457.2 312.1L1447.6 309.7Z"/><path color="#d55042" d="M1535 267.7L1544.8 270.5L1554.4 262.5L1544.6 259.8Z"/><path color="#f2cbb7" d="M1427.8 350.1L1437.3 352.1L1447.3 328.7L1437.7 326.3Z"/><path color="#cd423b" d="M1554.4 262.5L1564.2 265.2L1573.8 257.7L1564 255Z"/><path color="#e97a5f" d="M1486.5 290.1L1496.1 292.7L1505.9 282.7L1496.2 280.1Z"/><path color="#dedcdb" d="M1379.3 347.9L1388.7 351.5L1398.5 378.6L1389.1 373.8Z"/><path color="#c53334" d="M1573.8 257.7L1583.7 260.5L1593.2 253.2L1583.4 250.5Z"/><path color="#b8122a" d="M1612.6 249.1L1617.6 250.5L1627.1 243.8L1622.1 242.4Z"/><path color="#be242e" d="M1593.2 253.2L1603.1 256L1612.6 249.1L1602.7 246.3Z"/><path color="#f59d7e" d="M1457.2 312.1L1466.8 314.6L1476.7 301.4L1467 298.9Z"/><path color="#cedaeb" d="M1427.1 402.1L1436.6 402.3L1446.9 354.3L1437.3 352.1Z"/><path color="#e36b54" d="M1505.9 282.7L1515.6 285.4L1525.3 276.2L1515.6 273.5Z"/><path color="#da5a49" d="M1525.3 276.2L1535.1 278.9L1544.8 270.5L1535 267.7Z"/><path color="#b9d0f9" d="M1417.4 388.1L1426.9 392.9L1436.6 402.3L1427.1 402.1Z"/><path color="#f08a6c" d="M1476.7 301.4L1486.3 304L1496.1 292.7L1486.5 290.1Z"/><path color="#f7b194" d="M1447.3 328.7L1456.9 331.1L1466.8 314.6L1457.2 312.1Z"/><path color="#d44e41" d="M1544.8 270.5L1554.6 273.2L1564.2 265.2L1554.4 262.5Z"/><path color="#cc403a" d="M1564.2 265.2L1574.1 268L1583.7 260.5L1573.8 257.7Z"/><path color="#f2c9b4" d="M1437.3 352.1L1446.9 354.3L1456.9 331.1L1447.3 328.7Z"/><path color="#bd1f2d" d="M1603.1 256L1608.1 257.5L1617.6 250.5L1612.6 249.1Z"/><path color="#dddcdc" d="M1388.7 351.5L1398.2 355.1L1407.9 383.3L1398.5 378.6Z"/><path color="#e9785d" d="M1496.1 292.7L1505.8 295.4L1515.6 285.4L1505.9 282.7Z"/><path color="#c43032" d="M1583.7 260.5L1593.6 263.3L1603.1 256L1593.2 253.2Z"/><path color="#f49a7b" d="M1466.8 314.6L1476.4 317.2L1486.3 304L1476.7 301.4Z"/><path color="#e16751" d="M1515.6 285.4L1525.4 288.1L1535.1 278.9L1525.3 276.2Z"/><path color="#d3dbe7" d="M1436.6 402.3L1446.2 402.9L1456.5 356.5L1446.9 354.3Z"/><path color="#d95847" d="M1535.1 278.9L1544.9 281.7L1554.6 273.2L1544.8 270.5Z"/><path color="#bad0f8" d="M1426.9 392.9L1446.2 402.9L1436.6 402.3Z"/><path color="#ee8669" d="M1486.3 304L1496 306.7L1505.8 295.4L1496.1 292.7Z"/><path color="#d24b40" d="M1554.6 273.2L1564.4 276L1574.1 268L1564.2 265.2Z"/><path color="#f7af91" d="M1456.9 331.1L1466.5 333.6L1476.4 317.2L1466.8 314.6Z"/><path color="#c32e31" d="M1593.6 263.3L1598.5 264.7L1608.1 257.5L1603.1 256Z"/><path color="#cb3e38" d="M1574.1 268L1584 270.8L1593.6 263.3L1583.7 260.5Z"/><path color="#dddcdc" d="M1398.2 355.1L1407.7 358.8L1417.4 388.1L1407.9 383.3Z"/><path color="#f3c7b1" d="M1446.9 354.3L1456.5 356.5L1466.5 333.6L1456.9 331.1Z"/><path color="#e8765c" d="M1505.8 295.4L1515.6 298.1L1525.4 288.1L1515.6 285.4Z"/><path color="#f4987a" d="M1476.4 317.2L1486.1 319.9L1496 306.7L1486.3 304Z"/><path color="#e0654f" d="M1525.4 288.1L1535.2 290.9L1544.9 281.7L1535.1 278.9Z"/><path color="#d6dce4" d="M1446.2 402.9L1455.8 403.8L1466.1 358.8L1456.5 356.5Z"/><path color="#d85646" d="M1544.9 281.7L1554.7 284.5L1564.4 276L1554.6 273.2Z"/><path color="#bcd2f7" d="M1436.5 397.8L1446 402.7L1455.8 403.8L1446.2 402.9Z"/><path color="#ca3b37" d="M1584 270.8L1588.9 272.3L1598.5 264.7L1593.6 263.3Z"/><path color="#ee8468" d="M1496 306.7L1505.7 309.4L1515.6 298.1L1505.8 295.4Z"/><path color="#d0473d" d="M1564.4 276L1574.3 278.8L1584 270.8L1574.1 268Z"/><path color="#f7ac8e" d="M1466.5 333.6L1476.2 336.1L1486.1 319.9L1476.4 317.2Z"/><path color="#dddcdc" d="M1407.7 358.8L1417.2 362.5L1426.9 392.9L1417.4 388.1Z"/><path color="#f4c5ad" d="M1456.5 356.5L1466.1 358.8L1476.2 336.1L1466.5 333.6Z"/><path color="#e67259" d="M1515.6 298.1L1525.4 300.9L1535.2 290.9L1525.4 288.1Z"/><path color="#df634e" d="M1535.2 290.9L1545 293.7L1554.7 284.5L1544.9 281.7Z"/><path color="#f39577" d="M1486.1 319.9L1495.9 322.6L1505.7 309.4L1496 306.7Z"/><path color="#cf453c" d="M1574.3 278.8L1579.3 280.3L1588.9 272.3L1584 270.8Z"/><path color="#d9dce1" d="M1455.8 403.8L1465.5 405L1475.8 361.3L1466.1 358.8Z"/><path color="#d75445" d="M1554.7 284.5L1564.6 287.4L1574.3 278.8L1564.4 276Z"/><path color="#bed2f6" d="M1446 402.7L1455.7 407.7L1465.5 405Z"/><path color="#ec8165" d="M1505.7 309.4L1515.5 312.2L1525.4 300.9L1515.6 298.1Z"/><path color="#f7aa8c" d="M1476.2 336.1L1485.9 338.8L1495.9 322.6L1486.1 319.9Z"/><path color="#dddcdc" d="M1417.2 362.5L1426.8 366.1L1436.5 397.8L1426.9 392.9Z"/><path color="#f5c2aa" d="M1466.1 358.8L1475.8 361.3L1485.9 338.8L1476.2 336.1Z"/><path color="#e57058" d="M1525.4 300.9L1535.2 303.7L1545 293.7L1535.2 290.9Z"/><path color="#d65244" d="M1564.6 287.4L1569.6 288.8L1579.3 280.3L1574.3 278.8Z"/><path color="#de614d" d="M1545 293.7L1554.9 296.5L1564.6 287.4L1554.7 284.5Z"/><path color="#f39475" d="M1495.9 322.6L1505.6 325.3L1515.5 312.2L1505.7 309.4Z"/><path color="#dcdddd" d="M1465.5 405L1475.2 406.4L1485.6 363.7L1475.8 361.3Z"/><path color="#c0d4f5" d="M1455.7 407.7L1465.3 412.7L1475.2 406.4L1465.5 405Z"/><path color="#ec7f63" d="M1515.5 312.2L1525.4 315L1535.2 303.7L1525.4 300.9Z"/><path color="#dcdddd" d="M1426.8 366.1L1436.5 369.8L1446 402.7L1436.5 397.8Z"/><path color="#f7a889" d="M1485.9 338.8L1495.7 341.4L1505.6 325.3L1495.9 322.6Z"/><path color="#f5c0a7" d="M1475.8 361.3L1485.6 363.7L1495.7 341.4L1485.9 338.8Z"/><path color="#e46e56" d="M1535.2 303.7L1545.1 306.6L1554.9 296.5L1545 293.7Z"/><path color="#dd5f4b" d="M1554.9 296.5L1559.8 298L1569.6 288.8L1564.6 287.4Z"/><path color="#f29072" d="M1505.6 325.3L1515.4 328.1L1525.4 315L1515.5 312.2Z"/><path color="#c1d4f4" d="M1465.3 412.7L1475 417.7L1485 408L1475.2 406.4Z"/><path color="#dedcdb" d="M1475.2 406.4L1485 408L1495.4 366.3L1485.6 363.7Z"/><path color="#dcdddd" d="M1436.5 369.8L1446.2 373.6L1455.7 407.7L1446 402.7Z"/><path color="#eb7d62" d="M1525.4 315L1535.2 317.9L1545.1 306.6L1535.2 303.7Z"/><path color="#e36c55" d="M1545.1 306.6L1550 308L1559.8 298L1554.9 296.5Z"/><path color="#f6a586" d="M1495.7 341.4L1505.5 344.2L1515.4 328.1L1505.6 325.3Z"/><path color="#f6bea4" d="M1485.6 363.7L1495.4 366.3L1505.5 344.2L1495.7 341.4Z"/><path color="#f18f71" d="M1515.4 328.1L1525.3 330.9L1535.2 317.9L1525.4 315Z"/><path color="#ea7b60" d="M1535.2 317.9L1540.2 319.3L1550 308L1545.1 306.6Z"/><path color="#c3d5f4" d="M1475 417.7L1484.8 422.8L1494.8 409.7L1485 408Z"/><path color="#dbdcde" d="M1446.2 373.6L1455.9 377.3L1465.3 412.7L1455.7 407.7Z"/><path color="#e1dad6" d="M1485 408L1494.8 409.7L1505.2 368.9L1495.4 366.3Z"/><path color="#f6a385" d="M1505.5 344.2L1515.3 347L1525.3 330.9L1515.4 328.1Z"/><path color="#f6bda2" d="M1495.4 366.3L1505.2 368.9L1515.3 347L1505.5 344.2Z"/><path color="#f18d6f" d="M1525.3 330.9L1530.3 332.4L1540.2 319.3L1535.2 317.9Z"/><path color="#c3d5f4" d="M1484.8 422.8L1489.7 425.3L1499.7 410.7L1494.8 409.7Z"/><path color="#e2dad5" d="M1494.8 409.7L1499.7 410.7L1510.1 370.3L1505.2 368.9Z"/><path color="#dbdcde" d="M1455.9 377.3L1465.7 381.1L1475 417.7L1465.3 412.7Z"/><path color="#f6a283" d="M1515.3 347L1520.3 348.4L1530.3 332.4L1525.3 330.9Z"/><path color="#f7bca1" d="M1505.2 368.9L1510.1 370.3L1520.3 348.4L1515.3 347Z"/><path color="#dbdcde" d="M1465.7 381.1L1475.5 384.9L1484.8 422.8L1475 417.7Z"/><path color="#dadce0" d="M1475.5 384.9L1480.4 386.8L1489.7 425.3L1484.8 422.8Z"/></g></g><g id="axes_3"><g id="patch_10"><path d="M89.1 1133.2L829.7 1133.2L829.7 800L89.1 800z" style="fill: #ffffff"/></g><g shape-rendering="crispEdges"><rect x="89.1" y="800" width="740.6" height="20.83" fill="url(#c0)"/><rect x="89.1" y="820.83" width="740.6" height="20.83" fill="url(#c1)"/><rect x="89.1" y="841.65" width="740.6" height="20.83" fill="url(#c2)"/><rect x="89.1" y="862.48" width="740.6" height="20.83" fill="url(#c3)"/><rect x="89.1" y="883.3" width="740.6" height="20.83" fill="url(#c4)"/><rect x="89.1" y="904.12" width="740.6" height="20.83" fill="url(#c5)"/><rect x="89.1" y="924.95" width="740.6" height="20.83" fill="url(#c6)"/><rect x="89.1" y="945.78" width="740.6" height="20.83" fill="url(#c7)"/><rect x="89.1" y="966.6" width="740.6" height="20.83" fill="url(#c8)"/><rect x="89.1" y="987.42" width="740.6" height="20.83" fill="url(#c9)"/><rect x="89.1" y="1008.25" width="740.6" height="20.83" fill="url(#c10)"/><rect x="89.1" y="1029.08" width="740.6" height="20.83" fill="url(#c11)"/><rect x="89.1" y="1049.9" width="740.6" height="20.83" fill="url(#c12)"/><rect x="89.1" y="1070.72" width="740.6" height="20.83" fill="url(#c13)"/><rect x="89.1" y="1091.55" width="740.6" height="20.83" fill="url(#c14)"/><rect x="89.1" y="1112.38" width="740.6" height="20.83" fill="url(#c15)"/></g><g id="matplotlib.axis_1"><g id="xtick_34"><g id="line2d_40"><defs></defs><g><path d="M89.82 1133.2L89.82 1141.2" style="fill: #333333; stroke: #333333; stroke-width: 1.75"/></g></g><g id="text_40"><text style="font-size: 30px; font-family: 'DejaVu Sans', sans-serif; text-anchor: middle; fill: #333333" x="89.82" y="1169" >1</text></g></g><g id="xtick_35"><g id="line2d_41"><g><path d="M234.47 1133.2L234.47 1141.2" style="fill: #333333; stroke: #333333; stroke-width: 1.75"/></g></g><g id="text_41"><text style="font-size: 30px; font-family: 'DejaVu Sans', sans-serif; text-anchor: middle; fill: #333333" x="234.47" y="1169" >101</text></g></g><g id="xtick_36"><g id="line2d_42"><g><path d="M379.12 1133.2L379.12 1141.2" style="fill: #333333; stroke: #333333; stroke-width: 1.75"/></g></g><g id="text_42"><text style="font-size: 30px; font-family: 'DejaVu Sans', sans-serif; text-anchor: middle; fill: #333333" x="379.12" y="1169" >201</text></g></g><g id="xtick_37"><g id="line2d_43"><g><path d="M523.77 1133.2L523.77 1141.2" style="fill: #333333; stroke: #333333; stroke-width: 1.75"/></g></g><g id="text_43"><text style="font-size: 30px; font-family: 'DejaVu Sans', sans-serif; text-anchor: middle; fill: #333333" x="523.77" y="1169" >301</text></g></g><g id="xtick_38"><g id="line2d_44"><g><path d="M668.42 1133.2L668.42 1141.2" style="fill: #333333; stroke: #333333; stroke-width: 1.75"/></g></g><g id="text_44"><text style="font-size: 30px; font-family: 'DejaVu Sans', sans-serif; text-anchor: middle; fill: #333333" x="668.42" y="1169" >401</text></g></g><g id="xtick_39"><g id="line2d_45"><g><path d="M813.07 1133.2L813.07 1141.2" style="fill: #333333; stroke: #333333; stroke-width: 1.75"/></g></g><g id="text_45"><text style="font-size: 30px; font-family: 'DejaVu Sans', sans-serif; text-anchor: middle; fill: #333333" x="813.07" y="1169" >501</text></g></g><g id="text_46"><g style="fill: #333333" transform="translate(449.05 1202.53)"><text><tspan x="0" y="-0.12" style="font-style: oblique; font-size: 30px; font-family: 'DejaVu Sans', sans-serif; fill: #333333">X</tspan></text></g></g></g><g id="matplotlib.axis_2"><g id="ytick_1"><g id="line2d_46"><defs></defs><g><path d="M89.1 810.41L81.1 810.41" style="fill: #333333; stroke: #333333; stroke-width: 1.75"/></g></g><g id="text_47"><text style="font-size: 30px; font-family: 'DejaVu Sans', sans-serif; text-anchor: end; fill: #333333" x="76.1" y="821.81" >1</text></g></g><g id="ytick_2"><g id="line2d_47"><g><path d="M89.1 872.89L81.1 872.89" style="fill: #333333; stroke: #333333; stroke-width: 1.75"/></g></g><g id="text_48"><text style="font-size: 30px; font-family: 'DejaVu Sans', sans-serif; text-anchor: end; fill: #333333" x="76.1" y="884.29" >7</text></g></g><g id="ytick_3"><g id="line2d_48"><g><path d="M89.1 935.36L81.1 935.36" style="fill: #333333; stroke: #333333; stroke-width: 1.75"/></g></g><g id="text_49"><text style="font-size: 30px; font-family: 'DejaVu Sans', sans-serif; text-anchor: end; fill: #333333" x="76.1" y="946.76" >13</text></g></g><g id="ytick_4"><g id="line2d_49"><g><path d="M89.1 997.84L81.1 997.84" style="fill: #333333; stroke: #333333; stroke-width: 1.75"/></g></g><g id="text_50"><text style="font-size: 30px; font-family: 'DejaVu Sans', sans-serif; text-anchor: end; fill: #333333" x="76.1" y="1009.24" >19</text></g></g><g id="ytick_5"><g id="line2d_50"><g><path d="M89.1 1060.31L81.1 1060.31" style="fill: #333333; stroke: #333333; stroke-width: 1.75"/></g></g><g id="text_51"><text style="font-size: 30px; font-family: 'DejaVu Sans', sans-serif; text-anchor: end; fill: #333333" x="76.1" y="1071.71" >25</text></g></g><g id="ytick_6"><g id="line2d_51"><g><path d="M89.1 1122.79L81.1 1122.79" style="fill: #333333; stroke: #333333; stroke-width: 1.75"/></g></g><g id="text_52"><text style="font-size: 30px; font-family: 'DejaVu Sans', sans-serif; text-anchor: end; fill: #333333" x="76.1" y="1134.19" >31</text></g></g><g id="text_53"><g style="fill: #333333" transform="translate(21.69 975.9) rotate(-90)"><text><tspan x="0" y="-0.12" style="font-style: oblique; font-size: 30px; font-family: 'DejaVu Sans', sans-serif; fill: #333333">Y</tspan></text></g></g></g><g id="patch_11"><path d="M529.15 836.61L560.25 836.61L560.25 867.51L529.15 867.51L529.15 836.61z" style="fill: none; stroke: #ff0000; stroke-width: 2.3; stroke-linejoin: miter"/></g><g id="patch_12"><path d="M346.86 857.44L377.96 857.44L377.96 888.34L346.86 888.34L346.86 857.44z" style="fill: none; stroke: #ff0000; stroke-width: 2.3; stroke-linejoin: miter"/></g><g id="patch_13"><path d="M268.73 878.26L299.83 878.26L299.83 909.16L268.73 909.16L268.73 878.26z" style="fill: none; stroke: #ff0000; stroke-width: 2.3; stroke-linejoin: miter"/></g><g id="patch_14"><path d="M225.32 899.09L256.42 899.09L256.42 929.99L225.32 929.99L225.32 899.09z" style="fill: none; stroke: #ff0000; stroke-width: 2.3; stroke-linejoin: miter"/></g><g id="patch_15"><path d="M164.56 961.56L195.66 961.56L195.66 992.46L164.56 992.46L164.56 961.56z" style="fill: none; stroke: #ff0000; stroke-width: 2.3; stroke-linejoin: miter"/></g><g id="patch_16"><path d="M138.52 1024.04L169.62 1024.04L169.62 1054.94L138.52 1054.94L138.52 1024.04z" style="fill: none; stroke: #ff0000; stroke-width: 2.3; stroke-linejoin: miter"/></g><g id="patch_17"><path d="M124.05 1086.51L155.15 1086.51L155.15 1117.41L124.05 1117.41L124.05 1086.51z" style="fill: none; stroke: #ff0000; stroke-width: 2.3; stroke-linejoin: miter"/></g><g id="patch_18"><path d="M89.1 1133.2L89.1 800" style="fill: none; stroke: #333333; stroke-width: 1.75; stroke-linejoin: miter; stroke-linecap: square"/></g><g id="patch_19"><path d="M829.7 1133.2L829.7 800" style="fill: none; stroke: #333333; stroke-width: 1.75; stroke-linejoin: miter; stroke-linecap: square"/></g><g id="patch_20"><path d="M89.1 1133.2L829.7 1133.2" style="fill: none; stroke: #333333; stroke-width: 1.75; stroke-linejoin: miter; stroke-linecap: square"/></g><g id="patch_21"><path d="M89.1 800L829.7 800" style="fill: none; stroke: #333333; stroke-width: 1.75; stroke-linejoin: miter; stroke-linecap: square"/></g></g><g id="axes_4"><g id="patch_22"><path d="M977.9 1133.2L1718.7 1133.2L1718.7 800L977.9 800z" style="fill: #ffffff"/></g><g shape-rendering="crispEdges"><rect x="977.9" y="800" width="740.8" height="19.6" fill="url(#d0)"/><rect x="977.9" y="819.6" width="740.8" height="19.6" fill="url(#d1)"/><rect x="977.9" y="839.2" width="740.8" height="19.6" fill="url(#d2)"/><rect x="977.9" y="858.8" width="740.8" height="19.6" fill="url(#d3)"/><rect x="977.9" y="878.4" width="740.8" height="19.6" fill="url(#d4)"/><rect x="977.9" y="898" width="740.8" height="19.6" fill="url(#d5)"/><rect x="977.9" y="917.6" width="740.8" height="19.6" fill="url(#d6)"/><rect x="977.9" y="937.2" width="740.8" height="19.6" fill="url(#d7)"/><rect x="977.9" y="956.8" width="740.8" height="19.6" fill="url(#d8)"/><rect x="977.9" y="976.4" width="740.8" height="19.6" fill="url(#d9)"/><rect x="977.9" y="996" width="740.8" height="19.6" fill="url(#d10)"/><rect x="977.9" y="1015.6" width="740.8" height="19.6" fill="url(#d11)"/><rect x="977.9" y="1035.2" width="740.8" height="19.6" fill="url(#d12)"/><rect x="977.9" y="1054.8" width="740.8" height="19.6" fill="url(#d13)"/><rect x="977.9" y="1074.4" width="740.8" height="19.6" fill="url(#d14)"/><rect x="977.9" y="1094" width="740.8" height="19.6" fill="url(#d15)"/><rect x="977.9" y="1113.6" width="740.8" height="19.6" fill="url(#d16)"/></g><g id="matplotlib.axis_3"><g id="xtick_40"><g id="line2d_52"><g><path d="M979.5 1133.2L979.5 1141.2" style="fill: #333333; stroke: #333333; stroke-width: 1.75"/></g></g><g id="text_54"><text style="font-size: 30px; font-family: 'DejaVu Sans', sans-serif; text-anchor: middle; fill: #333333" x="979.5" y="1169" >1</text></g></g><g id="xtick_41"><g id="line2d_53"><g><path d="M1123.48 1133.2L1123.48 1141.2" style="fill: #333333; stroke: #333333; stroke-width: 1.75"/></g></g><g id="text_55"><text style="font-size: 30px; font-family: 'DejaVu Sans', sans-serif; text-anchor: middle; fill: #333333" x="1123.48" y="1169" >101</text></g></g><g id="xtick_42"><g id="line2d_54"><g><path d="M1267.46 1133.2L1267.46 1141.2" style="fill: #333333; stroke: #333333; stroke-width: 1.75"/></g></g><g id="text_56"><text style="font-size: 30px; font-family: 'DejaVu Sans', sans-serif; text-anchor: middle; fill: #333333" x="1267.46" y="1169" >201</text></g></g><g id="xtick_43"><g id="line2d_55"><g><path d="M1411.44 1133.2L1411.44 1141.2" style="fill: #333333; stroke: #333333; stroke-width: 1.75"/></g></g><g id="text_57"><text style="font-size: 30px; font-family: 'DejaVu Sans', sans-serif; text-anchor: middle; fill: #333333" x="1411.44" y="1169" >301</text></g></g><g id="xtick_44"><g id="line2d_56"><g><path d="M1555.42 1133.2L1555.42 1141.2" style="fill: #333333; stroke: #333333; stroke-width: 1.75"/></g></g><g id="text_58"><text style="font-size: 30px; font-family: 'DejaVu Sans', sans-serif; text-anchor: middle; fill: #333333" x="1555.42" y="1169" >401</text></g></g><g id="xtick_45"><g id="line2d_57"><g><path d="M1699.4 1133.2L1699.4 1141.2" style="fill: #333333; stroke: #333333; stroke-width: 1.75"/></g></g><g id="text_59"><text style="font-size: 30px; font-family: 'DejaVu Sans', sans-serif; text-anchor: middle; fill: #333333" x="1699.4" y="1169" >501</text></g></g><g id="text_60"><g style="fill: #333333" transform="translate(1337.95 1202.53)"><text><tspan x="0" y="-0.12" style="font-style: oblique; font-size: 30px; font-family: 'DejaVu Sans', sans-serif; fill: #333333">X</tspan></text></g></g></g><g id="matplotlib.axis_4"><g id="ytick_7"><g id="line2d_58"><g><path d="M977.9 809.8L969.9 809.8" style="fill: #333333; stroke: #333333; stroke-width: 1.75"/></g></g><g id="text_61"><text style="font-size: 30px; font-family: 'DejaVu Sans', sans-serif; text-anchor: end; fill: #333333" x="964.9" y="821.2" >1</text></g></g><g id="ytick_8"><g id="line2d_59"><g><path d="M977.9 868.6L969.9 868.6" style="fill: #333333; stroke: #333333; stroke-width: 1.75"/></g></g><g id="text_62"><text style="font-size: 30px; font-family: 'DejaVu Sans', sans-serif; text-anchor: end; fill: #333333" x="964.9" y="880" >7</text></g></g><g id="ytick_9"><g id="line2d_60"><g><path d="M977.9 927.4L969.9 927.4" style="fill: #333333; stroke: #333333; stroke-width: 1.75"/></g></g><g id="text_63"><text style="font-size: 30px; font-family: 'DejaVu Sans', sans-serif; text-anchor: end; fill: #333333" x="964.9" y="938.8" >13</text></g></g><g id="ytick_10"><g id="line2d_61"><g><path d="M977.9 986.2L969.9 986.2" style="fill: #333333; stroke: #333333; stroke-width: 1.75"/></g></g><g id="text_64"><text style="font-size: 30px; font-family: 'DejaVu Sans', sans-serif; text-anchor: end; fill: #333333" x="964.9" y="997.6" >19</text></g></g><g id="ytick_11"><g id="line2d_62"><g><path d="M977.9 1045L969.9 1045" style="fill: #333333; stroke: #333333; stroke-width: 1.75"/></g></g><g id="text_65"><text style="font-size: 30px; font-family: 'DejaVu Sans', sans-serif; text-anchor: end; fill: #333333" x="964.9" y="1056.4" >25</text></g></g><g id="ytick_12"><g id="line2d_63"><g><path d="M977.9 1103.8L969.9 1103.8" style="fill: #333333; stroke: #333333; stroke-width: 1.75"/></g></g><g id="text_66"><text style="font-size: 30px; font-family: 'DejaVu Sans', sans-serif; text-anchor: end; fill: #333333" x="964.9" y="1115.2" >31</text></g></g><g id="text_67"><g style="fill: #333333" transform="translate(910.49 975.9) rotate(-90)"><text><tspan x="0" y="-0.12" style="font-style: oblique; font-size: 30px; font-family: 'DejaVu Sans', sans-serif; fill: #333333">Y</tspan></text></g></g></g><g id="patch_23"><path d="M1417.07 834.3L1446.27 834.3L1446.27 863.7L1417.07 863.7L1417.07 834.3z" style="fill: none; stroke: #ff0000; stroke-width: 2.3; stroke-linejoin: miter"/></g><g id="patch_24"><path d="M1235.4 853.9L1264.6 853.9L1264.6 883.3L1235.4 883.3L1235.4 853.9z" style="fill: none; stroke: #ff0000; stroke-width: 2.3; stroke-linejoin: miter"/></g><g id="patch_25"><path d="M1157.54 873.5L1186.74 873.5L1186.74 902.9L1157.54 902.9L1157.54 873.5z" style="fill: none; stroke: #ff0000; stroke-width: 2.3; stroke-linejoin: miter"/></g><g id="patch_26"><path d="M1114.29 893.1L1143.49 893.1L1143.49 922.5L1114.29 922.5L1114.29 893.1z" style="fill: none; stroke: #ff0000; stroke-width: 2.3; stroke-linejoin: miter"/></g><g id="patch_27"><path d="M1053.73 951.9L1082.93 951.9L1082.93 981.3L1053.73 981.3L1053.73 951.9z" style="fill: none; stroke: #ff0000; stroke-width: 2.3; stroke-linejoin: miter"/></g><g id="patch_28"><path d="M1027.78 1010.7L1056.98 1010.7L1056.98 1040.1L1027.78 1040.1L1027.78 1010.7z" style="fill: none; stroke: #ff0000; stroke-width: 2.3; stroke-linejoin: miter"/></g><g id="patch_29"><path d="M1013.36 1069.5L1042.56 1069.5L1042.56 1098.9L1013.36 1098.9L1013.36 1069.5z" style="fill: none; stroke: #ff0000; stroke-width: 2.3; stroke-linejoin: miter"/></g><g id="patch_30"><path d="M977.9 1133.2L977.9 800" style="fill: none; stroke: #333333; stroke-width: 1.75; stroke-linejoin: miter; stroke-linecap: square"/></g><g id="patch_31"><path d="M1718.7 1133.2L1718.7 800" style="fill: none; stroke: #333333; stroke-width: 1.75; stroke-linejoin: miter; stroke-linecap: square"/></g><g id="patch_32"><path d="M977.9 1133.2L1718.7 1133.2" style="fill: none; stroke: #333333; stroke-width: 1.75; stroke-linejoin: miter; stroke-linecap: square"/></g><g id="patch_33"><path d="M977.9 800L1718.7 800" style="fill: none; stroke: #333333; stroke-width: 1.75; stroke-linejoin: miter; stroke-linecap: square"/></g></g><g id="text_68"><text style="font-weight: 700; font-size: 38px; font-family: 'DejaVu Sans', sans-serif; text-anchor: middle; fill: #333333" x="54" y="113.79" >a</text></g><g id="text_69"><text style="font-weight: 700; font-size: 38px; font-family: 'DejaVu Sans', sans-serif; text-anchor: middle; fill: #333333" x="966.8" y="113.79" >b</text></g><g id="text_70"><g style="fill: #333333" transform="translate(88.9 123.98)"><text><tspan x="0" y="-0.93" style="font-size: 30px; font-family: 'DejaVu Sans', sans-serif; fill: #333333">×</tspan><tspan x="25.14" y="-0.93" style="font-size: 30px; font-family: 'DejaVu Sans', sans-serif; fill: #333333">1</tspan><tspan x="44.22" y="-0.93" style="font-size: 30px; font-family: 'DejaVu Sans', sans-serif; fill: #333333">0</tspan><tspan x="63.6" y="-12.41" style="font-size: 21px; font-family: 'DejaVu Sans', sans-serif; fill: #333333">8</tspan></text></g></g></g><defs></defs></svg>
</body></html>
